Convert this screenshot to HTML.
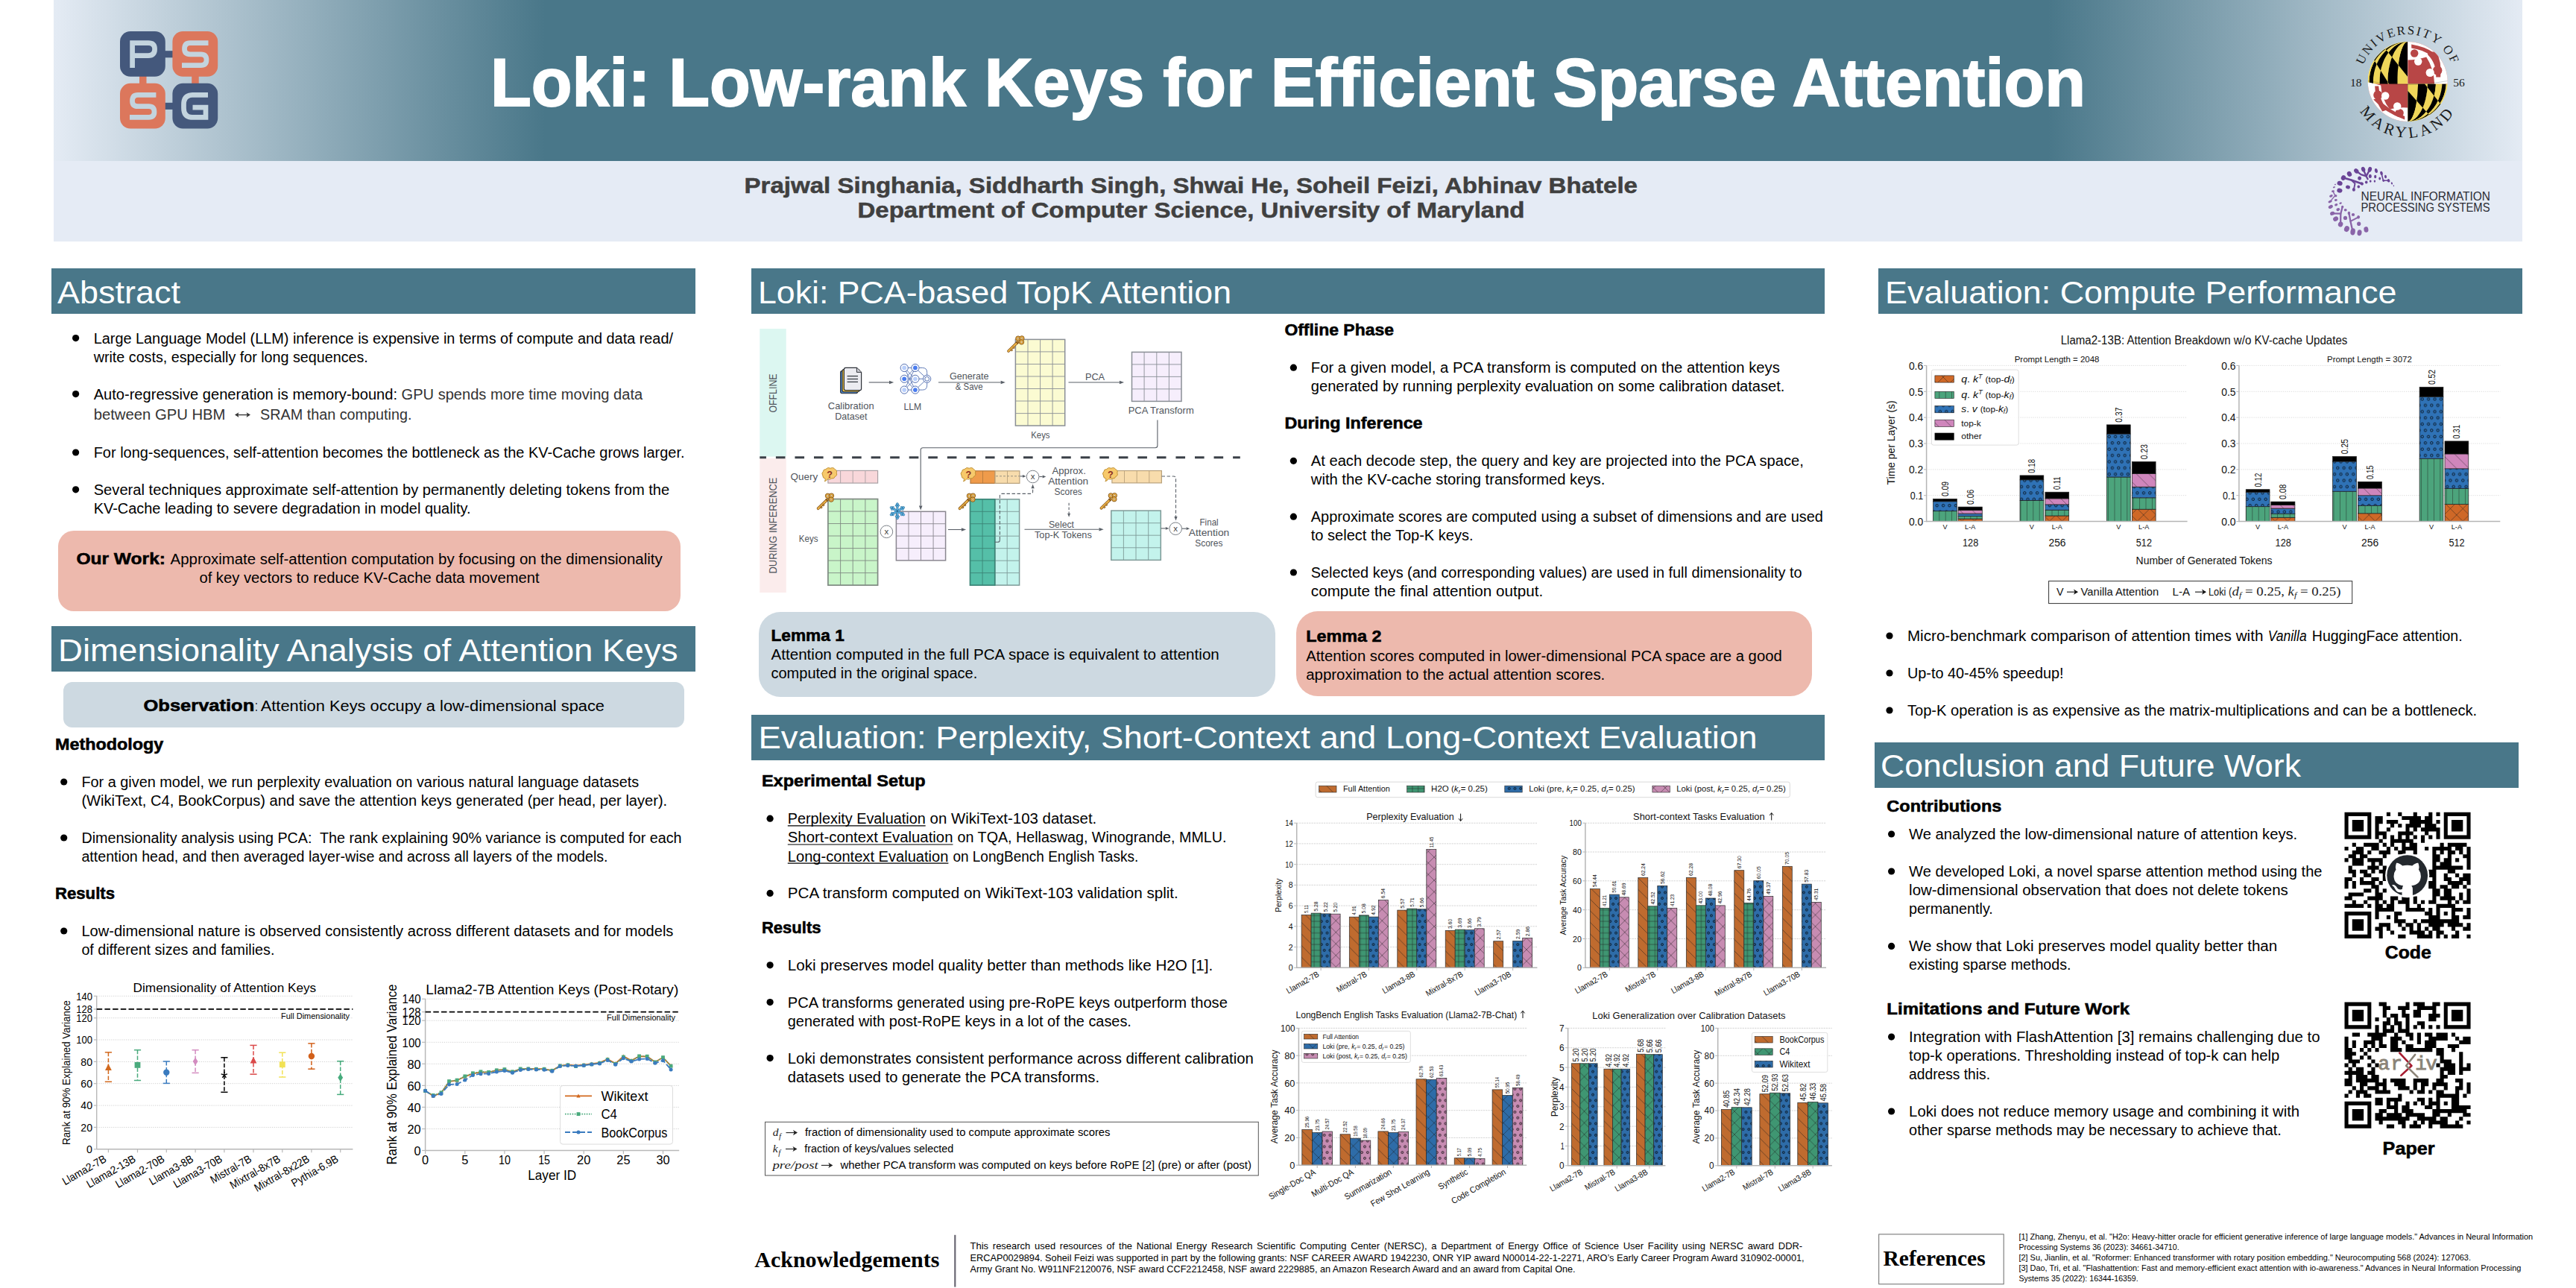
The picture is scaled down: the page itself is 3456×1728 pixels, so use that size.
<!DOCTYPE html>
<html lang="en"><head><meta charset="utf-8">
<title>Loki: Low-rank Keys for Efficient Sparse Attention</title>
<style>
html,body{margin:0;padding:0;background:#fff;}
#poster{position:relative;width:3456px;height:1728px;overflow:hidden;background:#fff;font-family:"Liberation Sans", sans-serif;}
.b{position:absolute;}
#ov{position:absolute;left:0;top:0;width:3456px;height:1728px;}
#ov text{font-family:"Liberation Sans", sans-serif;white-space:pre;}
</style></head>
<body>
<div id="poster">
<div class="b" style="left:72px;top:0;width:3312px;height:215.5px;background:linear-gradient(90deg,#e4ebf4 0%,#497789 19.9%,#497789 80.8%,#e4ebf4 100%);"></div>
<div class="b " style="left:72.0px;top:215.5px;width:3312.0px;height:108.5px;background:#e5ebf5;"></div>
<div class="b sec" style="left:69.2px;top:360.2px;width:863.6px;height:60.6px;background:#497789;"></div>
<div class="b sec" style="left:1008.2px;top:360.2px;width:1439.6px;height:60.6px;background:#497789;"></div>
<div class="b sec" style="left:2520.4px;top:360.2px;width:863.4px;height:60.6px;background:#497789;"></div>
<div class="b sec" style="left:69.4px;top:840.2px;width:864.0px;height:60.8px;background:#497789;"></div>
<div class="b sec" style="left:1008.2px;top:958.6px;width:1439.4px;height:61.0px;background:#497789;"></div>
<div class="b sec" style="left:2515.0px;top:995.6px;width:864.0px;height:61.0px;background:#497789;"></div>
<div class="b " style="left:78.3px;top:711.5px;width:834.4px;height:108.3px;background:#edb9ad;border-radius:21px;"></div>
<div class="b " style="left:84.6px;top:915.1px;width:833.5px;height:60.6px;background:#cdd9e1;border-radius:12px;"></div>
<div class="b " style="left:1018.3px;top:821.2px;width:692.7px;height:113.9px;background:#cdd9e1;border-radius:29px;"></div>
<div class="b " style="left:1739.1px;top:820.3px;width:692.3px;height:113.5px;background:#edb9ad;border-radius:29px;"></div>
<svg id="ov" width="3456" height="1728" viewBox="0 0 3456 1728">
<defs>
<clipPath id="globe"><circle cx="3230.2" cy="109.5" r="53.5"/></clipPath>
<path id="arcTop" d="M3166.6 109.5 A63.6 63.6 0 0 1 3293.8 109.5"/>
<path id="arcBot" d="M3155.0 109.5 A75.2 75.2 0 0 0 3305.4 109.5"/>
<clipPath id="qTL"><rect x="3175.7" y="55.0" width="54.5" height="58.5"/></clipPath>
<clipPath id="qBR"><rect x="3230.2" y="112.5" width="54.5" height="54.5"/></clipPath>
<clipPath id="bendTL"><path d="M3178.2 69.5 L3200.2 65.5 L3232.2 105.5 L3232.2 117.5 L3208.2 117.5 Z"/></clipPath>
<clipPath id="bendBR"><path d="M3282.2 149.5 L3260.2 155.5 L3228.2 119.5 L3228.2 111.5 L3252.2 111.5 Z"/></clipPath>
<clipPath id="qTR"><rect x="3230.2" y="55.0" width="54.5" height="57.5"/></clipPath>
<clipPath id="qBL"><rect x="3175.7" y="110.5" width="54.5" height="55.5"/></clipPath>
<pattern id="hBS" width="15.5" height="15.5" patternUnits="userSpaceOnUse" patternTransform="translate(3 6)"><path d="M-1 -1L16.5 16.5M-9 6.5L9 24.5M6.5 -9L24.5 9" stroke="#1c1c1c" stroke-width="0.6" stroke-opacity="0.85"/></pattern>
<pattern id="hX" width="15.5" height="15.5" patternUnits="userSpaceOnUse" patternTransform="translate(2 3)"><path d="M-1 -1L16.5 16.5M-1 16.5L16.5 -1" stroke="#1c1c1c" stroke-width="0.6" stroke-opacity="0.8"/></pattern>
<pattern id="hP" width="7.75" height="7.75" patternUnits="userSpaceOnUse"><path d="M3.9 0V7.75M0 3.9H7.75" stroke="#1c1c1c" stroke-width="0.6" stroke-opacity="0.8"/></pattern>
<pattern id="hO" width="7.75" height="15.5" patternUnits="userSpaceOnUse"><circle cx="1.95" cy="3.9" r="1.45" fill="none" stroke="#000" stroke-width="0.75"/><circle cx="5.8" cy="11.65" r="1.45" fill="none" stroke="#000" stroke-width="0.75"/></pattern>
<pattern id="hV" width="10.6" height="10" patternUnits="userSpaceOnUse"><path d="M5.3 0V10" stroke="#1c1c1c" stroke-width="0.6" stroke-opacity="0.8"/></pattern>
<pattern id="hO2" width="10.4" height="10.4" patternUnits="userSpaceOnUse"><circle cx="2.6" cy="2.6" r="1.9" fill="none" stroke="#1c1c1c" stroke-width="0.7" stroke-opacity="0.9"/><circle cx="7.8" cy="7.8" r="1.9" fill="none" stroke="#1c1c1c" stroke-width="0.7" stroke-opacity="0.9"/></pattern>
<pattern id="hBS2" width="21" height="21" patternUnits="userSpaceOnUse"><path d="M-1 -1L22 22M-12 9L10 31M9 -12L31 10" stroke="#1c1c1c" stroke-width="0.6" stroke-opacity="0.7"/></pattern>
<pattern id="hX2" width="21" height="21" patternUnits="userSpaceOnUse"><path d="M-1 -1L22 22M-1 22L22 -1" stroke="#1c1c1c" stroke-width="0.6" stroke-opacity="0.75"/></pattern>
<pattern id="cV" width="8.4" height="10" patternUnits="userSpaceOnUse" patternTransform="translate(2 0)"><path d="M4.2 0V10" stroke="#1c1c1c" stroke-width="0.6" stroke-opacity="0.75"/></pattern>
<pattern id="cO" width="8.4" height="16.8" patternUnits="userSpaceOnUse" patternTransform="translate(1 2)"><circle cx="2.1" cy="4.2" r="1.7" fill="none" stroke="#000" stroke-width="0.75"/><circle cx="6.3" cy="12.6" r="1.7" fill="none" stroke="#000" stroke-width="0.75"/></pattern>
<pattern id="cBS" width="16.8" height="16.8" patternUnits="userSpaceOnUse" patternTransform="translate(0 4)"><path d="M-1 -1L17.8 17.8M-9.4 7.4L9.4 26.2M7.4 -9.4L26.2 9.4" stroke="#1c1c1c" stroke-width="0.6" stroke-opacity="0.75"/></pattern>
<pattern id="cX" width="16.8" height="16.8" patternUnits="userSpaceOnUse" patternTransform="translate(3 2)"><path d="M-1 -1L17.8 17.8M-1 17.8L17.8 -1" stroke="#1c1c1c" stroke-width="0.6" stroke-opacity="0.8"/></pattern>
</defs>
<text x="658.0" y="142.2" font-size="91" font-weight="bold" fill="#fff" textLength="2140.0" lengthAdjust="spacingAndGlyphs" stroke="#fff" stroke-width="1.8">Loki: Low-rank Keys for Efficient Sparse Attention</text>
<text x="998.5" y="258.8" font-size="29.6" font-weight="bold" fill="#404040" textLength="1198.5" lengthAdjust="spacingAndGlyphs" stroke="#404040" stroke-width="0.5">Prajwal Singhania, Siddharth Singh, Shwai He, Soheil Feizi, Abhinav Bhatele</text>
<text x="1150.5" y="292.0" font-size="29.6" font-weight="bold" fill="#404040" textLength="895.0" lengthAdjust="spacingAndGlyphs" stroke="#404040" stroke-width="0.5">Department of Computer Science, University of Maryland</text>
<g id="pssg">
<rect x="187.0" y="100.0" width="9.5" height="14.0" fill="#dc775c"/>
<rect x="257.2" y="100.0" width="9.5" height="14.0" fill="#dc775c"/>
<rect x="219.0" y="68.2" width="15.0" height="9.1" fill="#44587c"/>
<rect x="219.0" y="137.8" width="15.0" height="9.1" fill="#44587c"/>
<rect x="161.0" y="42.0" width="60.8" height="60.8" fill="#44587c" rx="14"/>
<rect x="231.4" y="42.0" width="60.8" height="60.8" fill="#dc775c" rx="14"/>
<rect x="161.0" y="111.8" width="60.8" height="60.8" fill="#dc775c" rx="14"/>
<rect x="231.4" y="111.8" width="60.8" height="60.8" fill="#44587c" rx="14"/>
<path d="M177.6 91 V57.6 H199 Q207.6 57.6 207.6 65.8 Q207.6 74.6 199 74.6 H177.6" fill="none" stroke="#c3d4de" stroke-width="6.7" stroke-linejoin="miter"/>
<path d="M279.5 57.6 H255 Q247.5 57.6 247.5 65.6 Q247.5 72.8 255 72.8 H269.5 Q277 72.8 277 80.2 Q277 87.6 269.5 87.6 H244" fill="none" stroke="#c3d4de" stroke-width="6.7"/>
<path d="M209.4 127.4 H185 Q177.5 127.4 177.5 135.4 Q177.5 142.6 185 142.6 H199.5 Q207 142.6 207 150 Q207 157.4 199.5 157.4 H174" fill="none" stroke="#c3d4de" stroke-width="6.7"/>
<path d="M279 127.4 H258 Q246.5 127.4 246.5 140 V145 Q246.5 157.4 258 157.4 H276 V144.2 H258.5" fill="none" stroke="#c3d4de" stroke-width="6.7"/>
</g>
<g id="umd">
<g clip-path="url(#globe)">
<rect x="3176.7" y="56.0" width="107.0" height="107.0" fill="#fff"/>
<g clip-path="url(#qTL)">
<rect x="3176.7" y="56.0" width="53.5" height="59.5" fill="#efd65a"/>
<path d="M3230.2 117.0 L3230.2 110.5 L3230.2 103.9 L3230.2 97.5 L3230.2 91.2 L3230.2 85.2 L3230.2 79.6 L3230.2 74.4 L3230.2 69.7 L3230.2 65.7 L3230.2 62.3 L3230.2 59.6 L3230.2 57.6 L3230.2 56.4 L3230.2 56.0 L3230.2 56.0 L3228.5 56.4 L3226.8 57.6 L3225.2 59.6 L3223.7 62.3 L3222.3 65.7 L3220.9 69.7 L3219.7 74.4 L3218.7 79.6 L3217.9 85.2 L3217.2 91.2 L3216.7 97.5 L3216.4 103.9 L3216.4 110.5 L3216.5 117.0Z" fill="#000"/><path d="M3216.5 117.0 L3216.4 110.5 L3216.4 103.9 L3216.7 97.5 L3217.2 91.2 L3217.9 85.2 L3218.7 79.6 L3219.7 74.4 L3220.9 69.7 L3222.3 65.7 L3223.7 62.3 L3225.2 59.6 L3226.8 57.6 L3228.5 56.4 L3230.2 56.0 L3230.2 56.0 L3226.9 56.4 L3223.7 57.6 L3220.6 59.6 L3217.6 62.3 L3214.9 65.7 L3212.3 69.7 L3210.0 74.4 L3208.0 79.6 L3206.4 85.2 L3205.1 91.2 L3204.1 97.5 L3203.6 103.9 L3203.5 110.5 L3203.7 117.0Z" fill="#efd65a"/><path d="M3203.7 117.0 L3203.5 110.5 L3203.6 103.9 L3204.1 97.5 L3205.1 91.2 L3206.4 85.2 L3208.0 79.6 L3210.0 74.4 L3212.3 69.7 L3214.9 65.7 L3217.6 62.3 L3220.6 59.6 L3223.7 57.6 L3226.9 56.4 L3230.2 56.0 L3230.2 56.0 L3225.6 56.4 L3221.0 57.6 L3216.6 59.6 L3212.4 62.3 L3208.5 65.7 L3204.9 69.7 L3201.6 74.4 L3198.8 79.6 L3196.5 85.2 L3194.6 91.2 L3193.3 97.5 L3192.6 103.9 L3192.4 110.5 L3192.7 117.0Z" fill="#000"/><path d="M3192.7 117.0 L3192.4 110.5 L3192.6 103.9 L3193.3 97.5 L3194.6 91.2 L3196.5 85.2 L3198.8 79.6 L3201.6 74.4 L3204.9 69.7 L3208.5 65.7 L3212.4 62.3 L3216.6 59.6 L3221.0 57.6 L3225.6 56.4 L3230.2 56.0 L3230.2 56.0 L3224.6 56.4 L3219.0 57.6 L3213.6 59.6 L3208.4 62.3 L3203.6 65.7 L3199.2 69.7 L3195.2 74.4 L3191.8 79.6 L3188.9 85.2 L3186.7 91.2 L3185.1 97.5 L3184.1 103.9 L3183.9 110.5 L3184.3 117.0Z" fill="#efd65a"/><path d="M3184.3 117.0 L3183.9 110.5 L3184.1 103.9 L3185.1 97.5 L3186.7 91.2 L3188.9 85.2 L3191.8 79.6 L3195.2 74.4 L3199.2 69.7 L3203.6 65.7 L3208.4 62.3 L3213.6 59.6 L3219.0 57.6 L3224.6 56.4 L3230.2 56.0 L3230.2 56.0 L3223.9 56.4 L3217.7 57.6 L3211.7 59.6 L3205.9 62.3 L3200.6 65.7 L3195.6 69.7 L3191.2 74.4 L3187.4 79.6 L3184.1 85.2 L3181.6 91.2 L3179.8 97.5 L3178.8 103.9 L3178.5 110.5 L3179.0 117.0Z" fill="#000"/><path d="M3179.0 117.0 L3178.5 110.5 L3178.8 103.9 L3179.8 97.5 L3181.6 91.2 L3184.1 85.2 L3187.4 79.6 L3191.2 74.4 L3195.6 69.7 L3200.6 65.7 L3205.9 62.3 L3211.7 59.6 L3217.7 57.6 L3223.9 56.4 L3230.2 56.0 L3230.2 56.0 L3223.7 56.4 L3217.3 57.6 L3211.0 59.6 L3205.1 62.3 L3199.5 65.7 L3194.4 69.7 L3189.8 74.4 L3185.8 79.6 L3182.5 85.2 L3179.9 91.2 L3178.1 97.5 L3177.0 103.9 L3176.7 110.5 L3177.2 117.0Z" fill="#efd65a"/>
<g clip-path="url(#bendTL)"><path d="M3230.2 117.0 L3230.2 110.5 L3230.2 103.9 L3230.2 97.5 L3230.2 91.2 L3230.2 85.2 L3230.2 79.6 L3230.2 74.4 L3230.2 69.7 L3230.2 65.7 L3230.2 62.3 L3230.2 59.6 L3230.2 57.6 L3230.2 56.4 L3230.2 56.0 L3230.2 56.0 L3228.5 56.4 L3226.8 57.6 L3225.2 59.6 L3223.7 62.3 L3222.3 65.7 L3220.9 69.7 L3219.7 74.4 L3218.7 79.6 L3217.9 85.2 L3217.2 91.2 L3216.7 97.5 L3216.4 103.9 L3216.4 110.5 L3216.5 117.0Z" fill="#efd65a"/><path d="M3216.5 117.0 L3216.4 110.5 L3216.4 103.9 L3216.7 97.5 L3217.2 91.2 L3217.9 85.2 L3218.7 79.6 L3219.7 74.4 L3220.9 69.7 L3222.3 65.7 L3223.7 62.3 L3225.2 59.6 L3226.8 57.6 L3228.5 56.4 L3230.2 56.0 L3230.2 56.0 L3226.9 56.4 L3223.7 57.6 L3220.6 59.6 L3217.6 62.3 L3214.9 65.7 L3212.3 69.7 L3210.0 74.4 L3208.0 79.6 L3206.4 85.2 L3205.1 91.2 L3204.1 97.5 L3203.6 103.9 L3203.5 110.5 L3203.7 117.0Z" fill="#000"/><path d="M3203.7 117.0 L3203.5 110.5 L3203.6 103.9 L3204.1 97.5 L3205.1 91.2 L3206.4 85.2 L3208.0 79.6 L3210.0 74.4 L3212.3 69.7 L3214.9 65.7 L3217.6 62.3 L3220.6 59.6 L3223.7 57.6 L3226.9 56.4 L3230.2 56.0 L3230.2 56.0 L3225.6 56.4 L3221.0 57.6 L3216.6 59.6 L3212.4 62.3 L3208.5 65.7 L3204.9 69.7 L3201.6 74.4 L3198.8 79.6 L3196.5 85.2 L3194.6 91.2 L3193.3 97.5 L3192.6 103.9 L3192.4 110.5 L3192.7 117.0Z" fill="#efd65a"/><path d="M3192.7 117.0 L3192.4 110.5 L3192.6 103.9 L3193.3 97.5 L3194.6 91.2 L3196.5 85.2 L3198.8 79.6 L3201.6 74.4 L3204.9 69.7 L3208.5 65.7 L3212.4 62.3 L3216.6 59.6 L3221.0 57.6 L3225.6 56.4 L3230.2 56.0 L3230.2 56.0 L3224.6 56.4 L3219.0 57.6 L3213.6 59.6 L3208.4 62.3 L3203.6 65.7 L3199.2 69.7 L3195.2 74.4 L3191.8 79.6 L3188.9 85.2 L3186.7 91.2 L3185.1 97.5 L3184.1 103.9 L3183.9 110.5 L3184.3 117.0Z" fill="#000"/><path d="M3184.3 117.0 L3183.9 110.5 L3184.1 103.9 L3185.1 97.5 L3186.7 91.2 L3188.9 85.2 L3191.8 79.6 L3195.2 74.4 L3199.2 69.7 L3203.6 65.7 L3208.4 62.3 L3213.6 59.6 L3219.0 57.6 L3224.6 56.4 L3230.2 56.0 L3230.2 56.0 L3223.9 56.4 L3217.7 57.6 L3211.7 59.6 L3205.9 62.3 L3200.6 65.7 L3195.6 69.7 L3191.2 74.4 L3187.4 79.6 L3184.1 85.2 L3181.6 91.2 L3179.8 97.5 L3178.8 103.9 L3178.5 110.5 L3179.0 117.0Z" fill="#efd65a"/><path d="M3179.0 117.0 L3178.5 110.5 L3178.8 103.9 L3179.8 97.5 L3181.6 91.2 L3184.1 85.2 L3187.4 79.6 L3191.2 74.4 L3195.6 69.7 L3200.6 65.7 L3205.9 62.3 L3211.7 59.6 L3217.7 57.6 L3223.9 56.4 L3230.2 56.0 L3230.2 56.0 L3223.7 56.4 L3217.3 57.6 L3211.0 59.6 L3205.1 62.3 L3199.5 65.7 L3194.4 69.7 L3189.8 74.4 L3185.8 79.6 L3182.5 85.2 L3179.9 91.2 L3178.1 97.5 L3177.0 103.9 L3176.7 110.5 L3177.2 117.0Z" fill="#000"/></g>
</g>
<g clip-path="url(#qBR)">
<rect x="3230.2" y="109.5" width="53.5" height="55.5" fill="#efd65a"/>
<path d="M3230.2 102.0 L3230.2 108.5 L3230.2 115.1 L3230.2 121.5 L3230.2 127.8 L3230.2 133.8 L3230.2 139.4 L3230.2 144.6 L3230.2 149.3 L3230.2 153.3 L3230.2 156.7 L3230.2 159.4 L3230.2 161.4 L3230.2 162.6 L3230.2 163.0 L3230.2 163.0 L3231.9 162.6 L3233.6 161.4 L3235.2 159.4 L3236.7 156.7 L3238.1 153.3 L3239.5 149.3 L3240.7 144.6 L3241.7 139.4 L3242.5 133.8 L3243.2 127.8 L3243.7 121.5 L3244.0 115.1 L3244.0 108.5 L3243.9 102.0Z" fill="#000"/><path d="M3243.9 102.0 L3244.0 108.5 L3244.0 115.1 L3243.7 121.5 L3243.2 127.8 L3242.5 133.8 L3241.7 139.4 L3240.7 144.6 L3239.5 149.3 L3238.1 153.3 L3236.7 156.7 L3235.2 159.4 L3233.6 161.4 L3231.9 162.6 L3230.2 163.0 L3230.2 163.0 L3233.5 162.6 L3236.7 161.4 L3239.8 159.4 L3242.8 156.7 L3245.5 153.3 L3248.1 149.3 L3250.4 144.6 L3252.4 139.4 L3254.0 133.8 L3255.3 127.8 L3256.3 121.5 L3256.8 115.1 L3256.9 108.5 L3256.7 102.0Z" fill="#efd65a"/><path d="M3256.7 102.0 L3256.9 108.5 L3256.8 115.1 L3256.3 121.5 L3255.3 127.8 L3254.0 133.8 L3252.4 139.4 L3250.4 144.6 L3248.1 149.3 L3245.5 153.3 L3242.8 156.7 L3239.8 159.4 L3236.7 161.4 L3233.5 162.6 L3230.2 163.0 L3230.2 163.0 L3234.8 162.6 L3239.4 161.4 L3243.8 159.4 L3248.0 156.7 L3251.9 153.3 L3255.5 149.3 L3258.8 144.6 L3261.6 139.4 L3263.9 133.8 L3265.8 127.8 L3267.1 121.5 L3267.8 115.1 L3268.0 108.5 L3267.7 102.0Z" fill="#000"/><path d="M3267.7 102.0 L3268.0 108.5 L3267.8 115.1 L3267.1 121.5 L3265.8 127.8 L3263.9 133.8 L3261.6 139.4 L3258.8 144.6 L3255.5 149.3 L3251.9 153.3 L3248.0 156.7 L3243.8 159.4 L3239.4 161.4 L3234.8 162.6 L3230.2 163.0 L3230.2 163.0 L3235.8 162.6 L3241.4 161.4 L3246.8 159.4 L3252.0 156.7 L3256.8 153.3 L3261.2 149.3 L3265.2 144.6 L3268.6 139.4 L3271.5 133.8 L3273.7 127.8 L3275.3 121.5 L3276.3 115.1 L3276.5 108.5 L3276.1 102.0Z" fill="#efd65a"/><path d="M3276.1 102.0 L3276.5 108.5 L3276.3 115.1 L3275.3 121.5 L3273.7 127.8 L3271.5 133.8 L3268.6 139.4 L3265.2 144.6 L3261.2 149.3 L3256.8 153.3 L3252.0 156.7 L3246.8 159.4 L3241.4 161.4 L3235.8 162.6 L3230.2 163.0 L3230.2 163.0 L3236.5 162.6 L3242.7 161.4 L3248.7 159.4 L3254.5 156.7 L3259.8 153.3 L3264.8 149.3 L3269.2 144.6 L3273.0 139.4 L3276.3 133.8 L3278.8 127.8 L3280.6 121.5 L3281.6 115.1 L3281.9 108.5 L3281.4 102.0Z" fill="#000"/><path d="M3281.4 102.0 L3281.9 108.5 L3281.6 115.1 L3280.6 121.5 L3278.8 127.8 L3276.3 133.8 L3273.0 139.4 L3269.2 144.6 L3264.8 149.3 L3259.8 153.3 L3254.5 156.7 L3248.7 159.4 L3242.7 161.4 L3236.5 162.6 L3230.2 163.0 L3230.2 163.0 L3236.7 162.6 L3243.1 161.4 L3249.4 159.4 L3255.3 156.7 L3260.9 153.3 L3266.0 149.3 L3270.6 144.6 L3274.6 139.4 L3277.9 133.8 L3280.5 127.8 L3282.3 121.5 L3283.4 115.1 L3283.7 108.5 L3283.2 102.0Z" fill="#efd65a"/>
<g clip-path="url(#bendBR)"><path d="M3230.2 102.0 L3230.2 108.5 L3230.2 115.1 L3230.2 121.5 L3230.2 127.8 L3230.2 133.8 L3230.2 139.4 L3230.2 144.6 L3230.2 149.3 L3230.2 153.3 L3230.2 156.7 L3230.2 159.4 L3230.2 161.4 L3230.2 162.6 L3230.2 163.0 L3230.2 163.0 L3231.9 162.6 L3233.6 161.4 L3235.2 159.4 L3236.7 156.7 L3238.1 153.3 L3239.5 149.3 L3240.7 144.6 L3241.7 139.4 L3242.5 133.8 L3243.2 127.8 L3243.7 121.5 L3244.0 115.1 L3244.0 108.5 L3243.9 102.0Z" fill="#efd65a"/><path d="M3243.9 102.0 L3244.0 108.5 L3244.0 115.1 L3243.7 121.5 L3243.2 127.8 L3242.5 133.8 L3241.7 139.4 L3240.7 144.6 L3239.5 149.3 L3238.1 153.3 L3236.7 156.7 L3235.2 159.4 L3233.6 161.4 L3231.9 162.6 L3230.2 163.0 L3230.2 163.0 L3233.5 162.6 L3236.7 161.4 L3239.8 159.4 L3242.8 156.7 L3245.5 153.3 L3248.1 149.3 L3250.4 144.6 L3252.4 139.4 L3254.0 133.8 L3255.3 127.8 L3256.3 121.5 L3256.8 115.1 L3256.9 108.5 L3256.7 102.0Z" fill="#000"/><path d="M3256.7 102.0 L3256.9 108.5 L3256.8 115.1 L3256.3 121.5 L3255.3 127.8 L3254.0 133.8 L3252.4 139.4 L3250.4 144.6 L3248.1 149.3 L3245.5 153.3 L3242.8 156.7 L3239.8 159.4 L3236.7 161.4 L3233.5 162.6 L3230.2 163.0 L3230.2 163.0 L3234.8 162.6 L3239.4 161.4 L3243.8 159.4 L3248.0 156.7 L3251.9 153.3 L3255.5 149.3 L3258.8 144.6 L3261.6 139.4 L3263.9 133.8 L3265.8 127.8 L3267.1 121.5 L3267.8 115.1 L3268.0 108.5 L3267.7 102.0Z" fill="#efd65a"/><path d="M3267.7 102.0 L3268.0 108.5 L3267.8 115.1 L3267.1 121.5 L3265.8 127.8 L3263.9 133.8 L3261.6 139.4 L3258.8 144.6 L3255.5 149.3 L3251.9 153.3 L3248.0 156.7 L3243.8 159.4 L3239.4 161.4 L3234.8 162.6 L3230.2 163.0 L3230.2 163.0 L3235.8 162.6 L3241.4 161.4 L3246.8 159.4 L3252.0 156.7 L3256.8 153.3 L3261.2 149.3 L3265.2 144.6 L3268.6 139.4 L3271.5 133.8 L3273.7 127.8 L3275.3 121.5 L3276.3 115.1 L3276.5 108.5 L3276.1 102.0Z" fill="#000"/><path d="M3276.1 102.0 L3276.5 108.5 L3276.3 115.1 L3275.3 121.5 L3273.7 127.8 L3271.5 133.8 L3268.6 139.4 L3265.2 144.6 L3261.2 149.3 L3256.8 153.3 L3252.0 156.7 L3246.8 159.4 L3241.4 161.4 L3235.8 162.6 L3230.2 163.0 L3230.2 163.0 L3236.5 162.6 L3242.7 161.4 L3248.7 159.4 L3254.5 156.7 L3259.8 153.3 L3264.8 149.3 L3269.2 144.6 L3273.0 139.4 L3276.3 133.8 L3278.8 127.8 L3280.6 121.5 L3281.6 115.1 L3281.9 108.5 L3281.4 102.0Z" fill="#efd65a"/><path d="M3281.4 102.0 L3281.9 108.5 L3281.6 115.1 L3280.6 121.5 L3278.8 127.8 L3276.3 133.8 L3273.0 139.4 L3269.2 144.6 L3264.8 149.3 L3259.8 153.3 L3254.5 156.7 L3248.7 159.4 L3242.7 161.4 L3236.5 162.6 L3230.2 163.0 L3230.2 163.0 L3236.7 162.6 L3243.1 161.4 L3249.4 159.4 L3255.3 156.7 L3260.9 153.3 L3266.0 149.3 L3270.6 144.6 L3274.6 139.4 L3277.9 133.8 L3280.5 127.8 L3282.3 121.5 L3283.4 115.1 L3283.7 108.5 L3283.2 102.0Z" fill="#000"/></g>
</g>
<g clip-path="url(#qTR)">
<rect x="3230.2" y="56.0" width="53.5" height="56.5" fill="#b84646"/>
<path d="M3230.2 55.0 L3284.7 55.0 L3284.7 112.5 L3266.2 113.5 Q3265.2 91.5 3255.2 76.5 Q3242.2 80.5 3230.2 80.5 Z" fill="#fff"/>
<path d="M3235.2 59.5 Q3254.2 62.5 3266.2 71.5 L3261.2 74.5 Q3250.2 66.5 3235.2 64.5Z" fill="#b84646"/>
<path d="M3257.2 69.5 L3268.2 69.5 Q3276.2 81.5 3274.2 103.5 L3268.2 103.5 Q3269.2 85.5 3257.2 73.5Z" fill="#b84646"/>
<circle cx="3239.2" cy="71.5" r="5.2" fill="#b84646"/>
<circle cx="3270.2" cy="94.5" r="6.2" fill="#b84646"/>
<circle cx="3244.2" cy="82.5" r="5.2" fill="#fff"/>
<circle cx="3260.2" cy="97.5" r="5.6" fill="#fff"/>
</g>
<g clip-path="url(#qBL)">
<rect x="3176.7" y="112.5" width="53.5" height="53.5" fill="#b84646"/>
<path d="M3174.7 109.5 L3194.2 114.5 Q3195.2 133.5 3206.2 146.5 Q3218.2 143.5 3230.2 144.5 L3230.2 165.0 L3174.7 165.0 Z" fill="#fff"/>
<path d="M3184.2 133.5 Q3200.2 151.5 3226.2 160.5 L3226.2 156.0 Q3204.2 147.5 3189.2 131.5Z" fill="#b84646"/>
<path d="M3186.2 115.5 L3191.2 115.5 Q3192.2 133.5 3202.2 147.5 L3196.2 149.5 Q3186.2 135.5 3186.2 115.5Z" fill="#b84646"/>
<circle cx="3190.2" cy="127.5" r="6.0" fill="#b84646"/>
<circle cx="3219.2" cy="151.5" r="5.6" fill="#b84646"/>
<circle cx="3200.2" cy="128.5" r="5.2" fill="#fff"/>
<circle cx="3216.2" cy="142.5" r="5.2" fill="#fff"/>
</g>
<path d="M3176.7 108.5 Q3230.2 118.5 3283.7 108.5" fill="none" stroke="#00000030" stroke-width="1.2"/>
</g>
<text font-size='16.8' style='font-family:"Liberation Serif", serif' fill='#1a1a1a' letter-spacing='2.2'><textPath href='#arcTop' startOffset='50%' text-anchor='middle'>UNIVERSITY OF</textPath></text>
<text font-size='21' style='font-family:"Liberation Serif", serif' fill='#1a1a1a' letter-spacing='4.1'><textPath href='#arcBot' startOffset='50%' text-anchor='middle'>MARYLAND</textPath></text>
<text x="3153.0" y="115.7" font-size="15.5" fill="#1a1a1a" style='font-family:"Liberation Serif", serif'>18</text>
<text x="3291.2" y="115.7" font-size="15.5" fill="#1a1a1a" style='font-family:"Liberation Serif", serif'>56</text>
</g>
<g id="neurips">
<text x="3167.5" y="268.5" font-size="16.6" fill="#2b2b33" textLength="173.5" lengthAdjust="spacingAndGlyphs">NEURAL INFORMATION</text>
<text x="3167.5" y="284.4" font-size="16.6" fill="#2b2b33" textLength="173.0" lengthAdjust="spacingAndGlyphs">PROCESSING SYSTEMS</text>
<ellipse cx="3170.6" cy="227.2" rx="2.6" ry="3.4" fill="#6a4496" transform="rotate(-20 3170.6 227.2)"/>
<ellipse cx="3179.4" cy="227.4" rx="2.6" ry="3.6" fill="#6a4496" transform="rotate(15 3179.4 227.4)"/>
<ellipse cx="3187.9" cy="229.0" rx="2.0" ry="3.0" fill="#6a4496" transform="rotate(-10 3187.9 229.0)"/>
<ellipse cx="3195.0" cy="232.4" rx="1.8" ry="2.8" fill="#6a4496" transform="rotate(-15 3195.0 232.4)"/>
<ellipse cx="3200.5" cy="237.0" rx="1.5" ry="2.2" fill="#6a4496" transform="rotate(-10 3200.5 237.0)"/>
<ellipse cx="3161.3" cy="229.4" rx="2.8" ry="3.6" fill="#6a4496" transform="rotate(-40 3161.3 229.4)"/>
<ellipse cx="3152.0" cy="233.4" rx="3.0" ry="3.6" fill="#6a4496" transform="rotate(-30 3152.0 233.4)"/>
<ellipse cx="3143.9" cy="238.5" rx="3.4" ry="3.0" fill="#6a4496" transform="rotate(-60 3143.9 238.5)"/>
<ellipse cx="3139.1" cy="245.9" rx="3.6" ry="3.0" fill="#6a4496" transform="rotate(20 3139.1 245.9)"/>
<ellipse cx="3138.9" cy="255.6" rx="3.6" ry="3.0" fill="#6a4496" transform="rotate(10 3138.9 255.6)"/>
<ellipse cx="3150.0" cy="251.0" rx="3.0" ry="2.4" fill="#6a4496" transform="rotate(20 3150.0 251.0)"/>
<ellipse cx="3165.6" cy="239.1" rx="2.4" ry="2.6" fill="#6a4496" transform="rotate(0 3165.6 239.1)"/>
<ellipse cx="3179.8" cy="236.4" rx="2.0" ry="2.6" fill="#6a4496" transform="rotate(0 3179.8 236.4)"/>
<ellipse cx="3186.7" cy="237.0" rx="1.6" ry="2.2" fill="#6a4496" transform="rotate(0 3186.7 237.0)"/>
<ellipse cx="3192.7" cy="239.5" rx="1.4" ry="2.0" fill="#6a4496" transform="rotate(0 3192.7 239.5)"/>
<ellipse cx="3174.7" cy="244.5" rx="1.8" ry="2.0" fill="#6a4496" transform="rotate(0 3174.7 244.5)"/>
<ellipse cx="3180.2" cy="243.1" rx="1.4" ry="1.6" fill="#6a4496" transform="rotate(0 3180.2 243.1)"/>
<ellipse cx="3185.9" cy="243.1" rx="1.2" ry="1.6" fill="#6a4496" transform="rotate(0 3185.9 243.1)"/>
<ellipse cx="3164.3" cy="250.4" rx="1.8" ry="2.0" fill="#6a4496" transform="rotate(0 3164.3 250.4)"/>
<ellipse cx="3157.9" cy="254.4" rx="2.0" ry="2.4" fill="#6a4496" transform="rotate(0 3157.9 254.4)"/>
<ellipse cx="3168.8" cy="246.5" rx="2.2" ry="2.0" fill="#6a4496" transform="rotate(30 3168.8 246.5)"/>
<ellipse cx="3204.5" cy="242.3" rx="1.8" ry="2.2" fill="#6a4496" transform="rotate(-30 3204.5 242.3)"/>
<ellipse cx="3197.8" cy="242.3" rx="1.4" ry="1.6" fill="#6a4496" transform="rotate(0 3197.8 242.3)"/>
<ellipse cx="3208.9" cy="245.9" rx="1.0" ry="1.6" fill="#6a4496" transform="rotate(-20 3208.9 245.9)"/>
<ellipse cx="3211.4" cy="249.2" rx="0.6" ry="1.0" fill="#6a4496" transform="rotate(-20 3211.4 249.2)"/>
<ellipse cx="3131.4" cy="251.2" rx="1.6" ry="1.0" fill="#8a64a8" transform="rotate(-20 3131.4 251.2)"/>
<ellipse cx="3133.0" cy="247.5" rx="1.2" ry="0.7" fill="#8a64a8" transform="rotate(-20 3133.0 247.5)"/>
<ellipse cx="3130.0" cy="256.6" rx="2.0" ry="1.4" fill="#8a64a8" transform="rotate(-10 3130.0 256.6)"/>
<ellipse cx="3127.4" cy="262.9" rx="2.4" ry="1.6" fill="#8a64a8" transform="rotate(-20 3127.4 262.9)"/>
<ellipse cx="3133.6" cy="262.7" rx="1.8" ry="1.6" fill="#8a64a8" transform="rotate(0 3133.6 262.7)"/>
<ellipse cx="3126.1" cy="270.4" rx="2.8" ry="1.6" fill="#8a64a8" transform="rotate(-25 3126.1 270.4)"/>
<ellipse cx="3133.8" cy="268.5" rx="2.0" ry="1.4" fill="#8a64a8" transform="rotate(-10 3133.8 268.5)"/>
<ellipse cx="3126.8" cy="277.4" rx="3.2" ry="2.2" fill="#8a64a8" transform="rotate(-25 3126.8 277.4)"/>
<ellipse cx="3134.2" cy="274.8" rx="2.2" ry="1.6" fill="#8a64a8" transform="rotate(-20 3134.2 274.8)"/>
<ellipse cx="3140.1" cy="272.6" rx="1.8" ry="1.2" fill="#8a64a8" transform="rotate(-20 3140.1 272.6)"/>
<ellipse cx="3136.8" cy="281.1" rx="2.4" ry="2.0" fill="#8a64a8" transform="rotate(-20 3136.8 281.1)"/>
<ellipse cx="3142.7" cy="277.4" rx="1.6" ry="1.6" fill="#8a64a8" transform="rotate(0 3142.7 277.4)"/>
<ellipse cx="3146.7" cy="281.7" rx="2.0" ry="1.8" fill="#8a64a8" transform="rotate(0 3146.7 281.7)"/>
<ellipse cx="3129.2" cy="286.3" rx="3.2" ry="2.4" fill="#8a64a8" transform="rotate(-20 3129.2 286.3)"/>
<ellipse cx="3133.6" cy="293.6" rx="3.6" ry="3.0" fill="#8a64a8" transform="rotate(-30 3133.6 293.6)"/>
<ellipse cx="3140.1" cy="300.8" rx="3.2" ry="3.6" fill="#8a64a8" transform="rotate(20 3140.1 300.8)"/>
<ellipse cx="3146.5" cy="292.4" rx="2.6" ry="2.6" fill="#8a64a8" transform="rotate(0 3146.5 292.4)"/>
<ellipse cx="3151.4" cy="285.9" rx="1.8" ry="2.2" fill="#8a64a8" transform="rotate(0 3151.4 285.9)"/>
<ellipse cx="3157.0" cy="287.9" rx="2.2" ry="2.0" fill="#8a64a8" transform="rotate(0 3157.0 287.9)"/>
<ellipse cx="3164.1" cy="291.3" rx="2.0" ry="2.2" fill="#8a64a8" transform="rotate(30 3164.1 291.3)"/>
<ellipse cx="3148.4" cy="307.1" rx="3.4" ry="4.0" fill="#8a64a8" transform="rotate(20 3148.4 307.1)"/>
<ellipse cx="3156.6" cy="310.9" rx="3.2" ry="4.6" fill="#8a64a8" transform="rotate(10 3156.6 310.9)"/>
<ellipse cx="3165.5" cy="312.3" rx="3.0" ry="4.0" fill="#8a64a8" transform="rotate(10 3165.5 312.3)"/>
<ellipse cx="3174.4" cy="307.9" rx="3.0" ry="3.8" fill="#8a64a8" transform="rotate(-10 3174.4 307.9)"/>
<ellipse cx="3164.7" cy="300.2" rx="2.6" ry="2.8" fill="#8a64a8" transform="rotate(0 3164.7 300.2)"/>
<path d="M3161.3 229.4 L3167.5 234.2 L3174.6 236.4 L3179.4 227.4" fill="none" stroke="#6a4496" stroke-width="2.3" stroke-linejoin="round" stroke-linecap="round"/>
<path d="M3170.6 227.2 L3174.6 236.4 L3176.6 240.3" fill="none" stroke="#6a4496" stroke-width="2.3" stroke-linecap="round"/>
<path d="M3143.9 238.5 L3154.4 241.5 L3168.8 246.5" fill="none" stroke="#6a4496" stroke-width="2.8" stroke-linejoin="round" stroke-linecap="round"/>
<path d="M3154.4 241.5 L3159.5 246.3 L3157.9 254.4" fill="none" stroke="#6a4496" stroke-width="1.9" stroke-linejoin="round" stroke-linecap="round"/>
<path d="M3195.0 232.4 L3197.4 242.3 L3204.5 242.3" fill="none" stroke="#6a4496" stroke-width="1.6" stroke-linejoin="round" stroke-linecap="round"/>
<path d="M3130.0 256.6 L3132.8 262.5 L3126.1 270.4" fill="none" stroke="#8a64a8" stroke-width="1.4" stroke-linejoin="round" stroke-linecap="round"/>
<path d="M3129.2 286.3 L3140.3 286.7 L3142.7 277.4" fill="none" stroke="#8a64a8" stroke-width="2.3" stroke-linejoin="round" stroke-linecap="round"/>
<path d="M3140.3 286.7 L3140.1 300.8" fill="none" stroke="#8a64a8" stroke-width="2.3" stroke-linecap="round"/>
<path d="M3151.4 285.9 L3153.4 296.8 L3156.6 310.9" fill="none" stroke="#8a64a8" stroke-width="2.3" stroke-linejoin="round" stroke-linecap="round"/>
<path d="M3153.4 296.8 L3164.1 291.3" fill="none" stroke="#8a64a8" stroke-width="1.9" stroke-linecap="round"/>
</g>
<text x="77.0" y="407.2" font-size="41.6" fill="#fff" textLength="165.0" lengthAdjust="spacingAndGlyphs">Abstract</text>
<text x="1017.0" y="407.2" font-size="41.6" fill="#fff" textLength="635.0" lengthAdjust="spacingAndGlyphs">Loki: PCA-based TopK Attention</text>
<text x="2529.0" y="407.2" font-size="41.6" fill="#fff" textLength="686.5" lengthAdjust="spacingAndGlyphs">Evaluation: Compute Performance</text>
<text x="78.0" y="887.0" font-size="41.6" fill="#fff" textLength="831.5" lengthAdjust="spacingAndGlyphs">Dimensionality Analysis of Attention Keys</text>
<text x="1017.5" y="1004.0" font-size="41.6" fill="#fff" textLength="1340.0" lengthAdjust="spacingAndGlyphs">Evaluation: Perplexity, Short-Context and Long-Context Evaluation</text>
<text x="2523.0" y="1042.2" font-size="41.6" fill="#fff" textLength="564.0" lengthAdjust="spacingAndGlyphs">Conclusion and Future Work</text>
<circle cx="101.6" cy="453.6" r="4.6" fill="#000"/>
<text x="125.7" y="460.7" font-size="20" textLength="777.3" lengthAdjust="spacingAndGlyphs">Large Language Model (LLM) inference is expensive in terms of compute and data read/</text>
<text x="125.7" y="485.5" font-size="20" textLength="368.1" lengthAdjust="spacingAndGlyphs">write costs, especially for long sequences.</text>
<circle cx="101.6" cy="528.6" r="4.6" fill="#000"/>
<text x="125.7" y="535.6" font-size="20" textLength="736.5" lengthAdjust="spacingAndGlyphs">Auto-regressive generation is memory-bound: <tspan fill="#333">GPU spends more time moving data</tspan></text>
<text x="125.7" y="562.8" font-size="20" fill="#333" textLength="176.8" lengthAdjust="spacingAndGlyphs">between GPU HBM</text>
<line x1="318.5" y1="556.6" x2="332.5" y2="556.6" stroke="#333" stroke-width="1.3"/>
<path d="M315 556.6 l5.5 -3.4 l-1.3 3.4 l1.3 3.4 z" fill="#333"/>
<path d="M336 556.6 l-5.5 -3.4 l1.3 3.4 l-1.3 3.4 z" fill="#333"/>
<text x="349.0" y="562.8" font-size="20" fill="#333" textLength="203.4" lengthAdjust="spacingAndGlyphs">SRAM than computing.</text>
<circle cx="101.6" cy="607.0" r="4.6" fill="#000"/>
<text x="125.7" y="614.0" font-size="20" textLength="792.8" lengthAdjust="spacingAndGlyphs">For long-sequences, self-attention becomes the bottleneck as the KV-Cache grows larger.</text>
<circle cx="101.6" cy="656.8" r="4.6" fill="#000"/>
<text x="125.7" y="663.7" font-size="20" textLength="772.6" lengthAdjust="spacingAndGlyphs">Several techniques approximate self-attention by permanently deleting tokens from the</text>
<text x="125.7" y="689.0" font-size="20" textLength="505.9" lengthAdjust="spacingAndGlyphs">KV-Cache leading to severe degradation in model quality.</text>
<text x="102.4" y="756.5" font-size="22" font-weight="bold" textLength="119.6" lengthAdjust="spacingAndGlyphs" stroke="#000" stroke-width="0.55">Our Work:</text>
<text x="228.6" y="756.5" font-size="20" textLength="660.0" lengthAdjust="spacingAndGlyphs">Approximate self-attention computation by focusing on the dimensionality</text>
<text x="267.4" y="781.7" font-size="20" textLength="456.2" lengthAdjust="spacingAndGlyphs">of key vectors to reduce KV-Cache data movement</text>
<text x="192.5" y="954.0" font-size="22" font-weight="bold" textLength="148.7" lengthAdjust="spacingAndGlyphs" stroke="#000" stroke-width="0.55">Observation</text>
<text x="342.2" y="954.0" font-size="20" textLength="3.4" lengthAdjust="spacingAndGlyphs">:</text>
<text x="349.7" y="954.0" font-size="20" textLength="461.3" lengthAdjust="spacingAndGlyphs">Attention Keys occupy a low-dimensional space</text>
<text x="74.0" y="1005.6" font-size="22" font-weight="bold" textLength="145.3" lengthAdjust="spacingAndGlyphs" stroke="#000" stroke-width="0.55">Methodology</text>
<circle cx="85.7" cy="1049.0" r="4.6" fill="#000"/>
<text x="109.4" y="1056.0" font-size="20" textLength="747.8" lengthAdjust="spacingAndGlyphs">For a given model, we run perplexity evaluation on various natural language datasets</text>
<text x="109.4" y="1080.9" font-size="20" textLength="785.8" lengthAdjust="spacingAndGlyphs">(WikiText, C4, BookCorpus) and save the attention keys generated (per head, per layer).</text>
<circle cx="85.7" cy="1124.0" r="4.6" fill="#000"/>
<text x="109.4" y="1131.0" font-size="20" textLength="805.2" lengthAdjust="spacingAndGlyphs">Dimensionality analysis using PCA:  The rank explaining 90% variance is computed for each</text>
<text x="109.4" y="1155.8" font-size="20" textLength="706.2" lengthAdjust="spacingAndGlyphs">attention head, and then averaged layer-wise and across all layers of the models.</text>
<text x="74.0" y="1205.5" font-size="22" font-weight="bold" textLength="80.0" lengthAdjust="spacingAndGlyphs" stroke="#000" stroke-width="0.55">Results</text>
<circle cx="85.7" cy="1249.0" r="4.6" fill="#000"/>
<text x="109.4" y="1256.0" font-size="20" textLength="794.0" lengthAdjust="spacingAndGlyphs">Low-dimensional nature is observed consistently across different datasets and for models</text>
<text x="109.4" y="1280.9" font-size="20" textLength="259.0" lengthAdjust="spacingAndGlyphs">of different sizes and families.</text>
<g id="chart-dim">
<text x="301.4" y="1331.4" font-size="16.6" text-anchor="middle" textLength="245.6" lengthAdjust="spacingAndGlyphs">Dimensionality of Attention Keys</text>
<line x1="129.7" y1="1512.4" x2="473.4" y2="1512.4" stroke="#cfcfcf" stroke-width="1" stroke-dasharray="1.2 1.6"/>
<line x1="129.7" y1="1483.1" x2="473.4" y2="1483.1" stroke="#cfcfcf" stroke-width="1" stroke-dasharray="1.2 1.6"/>
<line x1="129.7" y1="1453.7" x2="473.4" y2="1453.7" stroke="#cfcfcf" stroke-width="1" stroke-dasharray="1.2 1.6"/>
<line x1="129.7" y1="1424.4" x2="473.4" y2="1424.4" stroke="#cfcfcf" stroke-width="1" stroke-dasharray="1.2 1.6"/>
<line x1="129.7" y1="1395.0" x2="473.4" y2="1395.0" stroke="#cfcfcf" stroke-width="1" stroke-dasharray="1.2 1.6"/>
<line x1="129.7" y1="1365.7" x2="473.4" y2="1365.7" stroke="#cfcfcf" stroke-width="1" stroke-dasharray="1.2 1.6"/>
<line x1="129.7" y1="1336.3" x2="473.4" y2="1336.3" stroke="#cfcfcf" stroke-width="1" stroke-dasharray="1.2 1.6"/>
<line x1="129.7" y1="1541.8" x2="473.4" y2="1541.8" stroke="#b8b8b8" stroke-width="1.4"/>
<line x1="129.7" y1="1336.3" x2="129.7" y2="1541.8" stroke="#b8b8b8" stroke-width="1.4"/>
<line x1="125.7" y1="1541.8" x2="129.7" y2="1541.8" stroke="#b8b8b8" stroke-width="1.2"/>
<text x="124.0" y="1547.1" font-size="14.8" text-anchor="end" textLength="7.9" lengthAdjust="spacingAndGlyphs">0</text>
<line x1="125.7" y1="1512.4" x2="129.7" y2="1512.4" stroke="#b8b8b8" stroke-width="1.2"/>
<text x="124.0" y="1517.7" font-size="14.8" text-anchor="end" textLength="15.7" lengthAdjust="spacingAndGlyphs">20</text>
<line x1="125.7" y1="1483.1" x2="129.7" y2="1483.1" stroke="#b8b8b8" stroke-width="1.2"/>
<text x="124.0" y="1488.4" font-size="14.8" text-anchor="end" textLength="15.7" lengthAdjust="spacingAndGlyphs">40</text>
<line x1="125.7" y1="1453.7" x2="129.7" y2="1453.7" stroke="#b8b8b8" stroke-width="1.2"/>
<text x="124.0" y="1459.0" font-size="14.8" text-anchor="end" textLength="15.7" lengthAdjust="spacingAndGlyphs">60</text>
<line x1="125.7" y1="1424.4" x2="129.7" y2="1424.4" stroke="#b8b8b8" stroke-width="1.2"/>
<text x="124.0" y="1429.7" font-size="14.8" text-anchor="end" textLength="15.7" lengthAdjust="spacingAndGlyphs">80</text>
<line x1="125.7" y1="1395.0" x2="129.7" y2="1395.0" stroke="#b8b8b8" stroke-width="1.2"/>
<text x="124.0" y="1400.3" font-size="14.8" text-anchor="end" textLength="21.7" lengthAdjust="spacingAndGlyphs">100</text>
<line x1="125.7" y1="1365.7" x2="129.7" y2="1365.7" stroke="#b8b8b8" stroke-width="1.2"/>
<text x="124.0" y="1371.0" font-size="14.8" text-anchor="end" textLength="21.7" lengthAdjust="spacingAndGlyphs">120</text>
<line x1="125.7" y1="1353.9" x2="129.7" y2="1353.9" stroke="#b8b8b8" stroke-width="1.2"/>
<text x="124.0" y="1359.2" font-size="14.8" text-anchor="end" textLength="21.7" lengthAdjust="spacingAndGlyphs">128</text>
<line x1="125.7" y1="1336.3" x2="129.7" y2="1336.3" stroke="#b8b8b8" stroke-width="1.2"/>
<text x="124.0" y="1341.6" font-size="14.8" text-anchor="end" textLength="21.7" lengthAdjust="spacingAndGlyphs">140</text>
<line x1="129.7" y1="1353.9" x2="473.4" y2="1353.9" stroke="#000" stroke-width="1.8" stroke-dasharray="7.5 3.2"/>
<text x="377.0" y="1367.0" font-size="10.6" textLength="92.0" lengthAdjust="spacingAndGlyphs">Full Dimensionality</text>
<text x="93.5" y="1439.0" font-size="15.4" text-anchor="middle" textLength="194.0" lengthAdjust="spacingAndGlyphs" transform="rotate(-90 93.5 1439.0)">Rank at 90% Explained Variance</text>
<line x1="145.4" y1="1541.8" x2="145.4" y2="1546.3" stroke="#b8b8b8" stroke-width="1.2"/>
<line x1="145.4" y1="1411.8" x2="145.4" y2="1451.3" stroke="#d2691e" stroke-width="1.5" stroke-dasharray="5.5 2.4"/>
<line x1="140.8" y1="1411.8" x2="150.0" y2="1411.8" stroke="#d2691e" stroke-width="1.5"/>
<line x1="140.8" y1="1451.3" x2="150.0" y2="1451.3" stroke="#d2691e" stroke-width="1.5"/>
<path d="M145.4 1427.3 L149.8 1435.9 L141.0 1435.9Z" fill="#d2691e"/>
<text x="143.9" y="1557.8" font-size="14.8" text-anchor="end" textLength="65.5" lengthAdjust="spacingAndGlyphs" transform="rotate(-30 143.9 1557.8)">Llama2-7B</text>
<line x1="184.5" y1="1541.8" x2="184.5" y2="1546.3" stroke="#b8b8b8" stroke-width="1.2"/>
<line x1="184.5" y1="1408.7" x2="184.5" y2="1449.5" stroke="#4aaa7d" stroke-width="1.5" stroke-dasharray="5.5 2.4"/>
<line x1="179.9" y1="1408.7" x2="189.1" y2="1408.7" stroke="#4aaa7d" stroke-width="1.5"/>
<line x1="179.9" y1="1449.5" x2="189.1" y2="1449.5" stroke="#4aaa7d" stroke-width="1.5"/>
<rect x="180.6" y="1425.0" width="7.8" height="7.8" fill="#4aaa7d"/>
<text x="183.0" y="1557.8" font-size="14.8" text-anchor="end" textLength="73.0" lengthAdjust="spacingAndGlyphs" transform="rotate(-30 183.0 1557.8)">Llama2-13B</text>
<line x1="223.3" y1="1541.8" x2="223.3" y2="1546.3" stroke="#b8b8b8" stroke-width="1.2"/>
<line x1="223.3" y1="1424.0" x2="223.3" y2="1453.4" stroke="#3a7bbf" stroke-width="1.5" stroke-dasharray="5.5 2.4"/>
<line x1="218.7" y1="1424.0" x2="227.9" y2="1424.0" stroke="#3a7bbf" stroke-width="1.5"/>
<line x1="218.7" y1="1453.4" x2="227.9" y2="1453.4" stroke="#3a7bbf" stroke-width="1.5"/>
<circle cx="223.3" cy="1438.7" r="4.2" fill="#3a7bbf"/>
<text x="221.8" y="1557.8" font-size="14.8" text-anchor="end" textLength="73.0" lengthAdjust="spacingAndGlyphs" transform="rotate(-30 221.8 1557.8)">Llama2-70B</text>
<line x1="262.1" y1="1541.8" x2="262.1" y2="1546.3" stroke="#b8b8b8" stroke-width="1.2"/>
<line x1="262.1" y1="1408.7" x2="262.1" y2="1439.4" stroke="#d38cc0" stroke-width="1.5" stroke-dasharray="5.5 2.4"/>
<line x1="257.5" y1="1408.7" x2="266.7" y2="1408.7" stroke="#d38cc0" stroke-width="1.5"/>
<line x1="257.5" y1="1439.4" x2="266.7" y2="1439.4" stroke="#d38cc0" stroke-width="1.5"/>
<path d="M262.1 1418.8 L265.5 1424.0 L262.1 1429.2 L258.7 1424.0Z" fill="#d38cc0"/>
<text x="260.6" y="1557.8" font-size="14.8" text-anchor="end" textLength="65.5" lengthAdjust="spacingAndGlyphs" transform="rotate(-30 260.6 1557.8)">Llama3-8B</text>
<line x1="300.9" y1="1541.8" x2="300.9" y2="1546.3" stroke="#b8b8b8" stroke-width="1.2"/>
<line x1="300.9" y1="1418.8" x2="300.9" y2="1465.3" stroke="#000" stroke-width="1.5" stroke-dasharray="5.5 2.4"/>
<line x1="296.3" y1="1418.8" x2="305.5" y2="1418.8" stroke="#000" stroke-width="1.5"/>
<line x1="296.3" y1="1465.3" x2="305.5" y2="1465.3" stroke="#000" stroke-width="1.5"/>
<line x1="300.9" y1="1442.2" x2="300.9" y2="1437.8" stroke="#000" stroke-width="1.4"/>
<line x1="300.9" y1="1442.2" x2="305.0" y2="1440.8" stroke="#000" stroke-width="1.4"/>
<line x1="300.9" y1="1442.2" x2="303.4" y2="1445.8" stroke="#000" stroke-width="1.4"/>
<line x1="300.9" y1="1442.2" x2="298.3" y2="1445.8" stroke="#000" stroke-width="1.4"/>
<line x1="300.9" y1="1442.2" x2="296.7" y2="1440.8" stroke="#000" stroke-width="1.4"/>
<text x="299.4" y="1557.8" font-size="14.8" text-anchor="end" textLength="73.0" lengthAdjust="spacingAndGlyphs" transform="rotate(-30 299.4 1557.8)">Llama3-70B</text>
<line x1="340.0" y1="1541.8" x2="340.0" y2="1546.3" stroke="#b8b8b8" stroke-width="1.2"/>
<line x1="340.0" y1="1402.4" x2="340.0" y2="1441.2" stroke="#db4a4a" stroke-width="1.5" stroke-dasharray="5.5 2.4"/>
<line x1="335.4" y1="1402.4" x2="344.6" y2="1402.4" stroke="#db4a4a" stroke-width="1.5"/>
<line x1="335.4" y1="1441.2" x2="344.6" y2="1441.2" stroke="#db4a4a" stroke-width="1.5"/>
<path d="M340.0 1417.8 L344.4 1426.4 L335.6 1426.4Z" fill="#db4a4a"/>
<text x="338.5" y="1557.8" font-size="14.8" text-anchor="end" textLength="60.9" lengthAdjust="spacingAndGlyphs" transform="rotate(-30 338.5 1557.8)">Mistral-7B</text>
<line x1="378.8" y1="1541.8" x2="378.8" y2="1546.3" stroke="#b8b8b8" stroke-width="1.2"/>
<line x1="378.8" y1="1412.2" x2="378.8" y2="1445.0" stroke="#f2e255" stroke-width="1.5" stroke-dasharray="5.5 2.4"/>
<line x1="374.2" y1="1412.2" x2="383.4" y2="1412.2" stroke="#f2e255" stroke-width="1.5"/>
<line x1="374.2" y1="1445.0" x2="383.4" y2="1445.0" stroke="#f2e255" stroke-width="1.5"/>
<rect x="374.9" y="1424.3" width="7.8" height="7.8" fill="#f2e255"/>
<text x="377.3" y="1557.8" font-size="14.8" text-anchor="end" textLength="75.3" lengthAdjust="spacingAndGlyphs" transform="rotate(-30 377.3 1557.8)">Mixtral-8x7B</text>
<line x1="417.9" y1="1541.8" x2="417.9" y2="1546.3" stroke="#b8b8b8" stroke-width="1.2"/>
<line x1="417.9" y1="1399.9" x2="417.9" y2="1434.2" stroke="#d2601a" stroke-width="1.5" stroke-dasharray="5.5 2.4"/>
<line x1="413.3" y1="1399.9" x2="422.5" y2="1399.9" stroke="#d2601a" stroke-width="1.5"/>
<line x1="413.3" y1="1434.2" x2="422.5" y2="1434.2" stroke="#d2601a" stroke-width="1.5"/>
<circle cx="417.9" cy="1417.0" r="4.2" fill="#d2601a"/>
<text x="416.4" y="1557.8" font-size="14.8" text-anchor="end" textLength="82.8" lengthAdjust="spacingAndGlyphs" transform="rotate(-30 416.4 1557.8)">Mixtral-8x22B</text>
<line x1="456.7" y1="1541.8" x2="456.7" y2="1546.3" stroke="#b8b8b8" stroke-width="1.2"/>
<line x1="456.7" y1="1423.7" x2="456.7" y2="1468.4" stroke="#46ab7c" stroke-width="1.5" stroke-dasharray="5.5 2.4"/>
<line x1="452.1" y1="1423.7" x2="461.3" y2="1423.7" stroke="#46ab7c" stroke-width="1.5"/>
<line x1="452.1" y1="1468.4" x2="461.3" y2="1468.4" stroke="#46ab7c" stroke-width="1.5"/>
<path d="M456.7 1440.5 L460.1 1445.7 L456.7 1450.9 L453.3 1445.7Z" fill="#46ab7c"/>
<text x="455.2" y="1557.8" font-size="14.8" text-anchor="end" textLength="70.0" lengthAdjust="spacingAndGlyphs" transform="rotate(-30 455.2 1557.8)">Pythia-6.9B</text>
</g>
<g id="chart-llama">
<text x="571.3" y="1333.9" font-size="19.2" textLength="339.0" lengthAdjust="spacingAndGlyphs">Llama2-7B Attention Keys (Post-Rotary)</text>
<line x1="570.6" y1="1514.5" x2="911.2" y2="1514.5" stroke="#cfcfcf" stroke-width="1" stroke-dasharray="1.2 1.6"/>
<line x1="570.6" y1="1485.4" x2="911.2" y2="1485.4" stroke="#cfcfcf" stroke-width="1" stroke-dasharray="1.2 1.6"/>
<line x1="570.6" y1="1456.4" x2="911.2" y2="1456.4" stroke="#cfcfcf" stroke-width="1" stroke-dasharray="1.2 1.6"/>
<line x1="570.6" y1="1427.3" x2="911.2" y2="1427.3" stroke="#cfcfcf" stroke-width="1" stroke-dasharray="1.2 1.6"/>
<line x1="570.6" y1="1398.3" x2="911.2" y2="1398.3" stroke="#cfcfcf" stroke-width="1" stroke-dasharray="1.2 1.6"/>
<line x1="570.6" y1="1369.2" x2="911.2" y2="1369.2" stroke="#cfcfcf" stroke-width="1" stroke-dasharray="1.2 1.6"/>
<line x1="570.6" y1="1340.2" x2="911.2" y2="1340.2" stroke="#cfcfcf" stroke-width="1" stroke-dasharray="1.2 1.6"/>
<line x1="570.6" y1="1543.5" x2="911.2" y2="1543.5" stroke="#b8b8b8" stroke-width="1.5"/>
<line x1="570.6" y1="1340.2" x2="570.6" y2="1543.5" stroke="#b8b8b8" stroke-width="1.5"/>
<line x1="566.1" y1="1543.5" x2="570.6" y2="1543.5" stroke="#b8b8b8" stroke-width="1.2"/>
<text x="564.6" y="1549.7" font-size="17.4" text-anchor="end" textLength="9.1" lengthAdjust="spacingAndGlyphs">0</text>
<line x1="566.1" y1="1514.5" x2="570.6" y2="1514.5" stroke="#b8b8b8" stroke-width="1.2"/>
<text x="564.6" y="1520.7" font-size="17.4" text-anchor="end" textLength="18.2" lengthAdjust="spacingAndGlyphs">20</text>
<line x1="566.1" y1="1485.4" x2="570.6" y2="1485.4" stroke="#b8b8b8" stroke-width="1.2"/>
<text x="564.6" y="1491.6" font-size="17.4" text-anchor="end" textLength="18.2" lengthAdjust="spacingAndGlyphs">40</text>
<line x1="566.1" y1="1456.4" x2="570.6" y2="1456.4" stroke="#b8b8b8" stroke-width="1.2"/>
<text x="564.6" y="1462.6" font-size="17.4" text-anchor="end" textLength="18.2" lengthAdjust="spacingAndGlyphs">60</text>
<line x1="566.1" y1="1427.3" x2="570.6" y2="1427.3" stroke="#b8b8b8" stroke-width="1.2"/>
<text x="564.6" y="1433.5" font-size="17.4" text-anchor="end" textLength="18.2" lengthAdjust="spacingAndGlyphs">80</text>
<line x1="566.1" y1="1398.3" x2="570.6" y2="1398.3" stroke="#b8b8b8" stroke-width="1.2"/>
<text x="564.6" y="1404.5" font-size="17.4" text-anchor="end" textLength="25.0" lengthAdjust="spacingAndGlyphs">100</text>
<line x1="566.1" y1="1369.2" x2="570.6" y2="1369.2" stroke="#b8b8b8" stroke-width="1.2"/>
<text x="564.6" y="1375.4" font-size="17.4" text-anchor="end" textLength="25.0" lengthAdjust="spacingAndGlyphs">120</text>
<line x1="566.1" y1="1357.6" x2="570.6" y2="1357.6" stroke="#b8b8b8" stroke-width="1.2"/>
<text x="564.6" y="1363.8" font-size="17.4" text-anchor="end" textLength="25.0" lengthAdjust="spacingAndGlyphs">128</text>
<line x1="566.1" y1="1340.2" x2="570.6" y2="1340.2" stroke="#b8b8b8" stroke-width="1.2"/>
<text x="564.6" y="1346.4" font-size="17.4" text-anchor="end" textLength="25.0" lengthAdjust="spacingAndGlyphs">140</text>
<line x1="570.6" y1="1357.6" x2="911.2" y2="1357.6" stroke="#000" stroke-width="1.8" stroke-dasharray="7.5 3.2"/>
<text x="814.1" y="1368.8" font-size="10.6" textLength="92.0" lengthAdjust="spacingAndGlyphs">Full Dimensionality</text>
<text x="531.5" y="1441.5" font-size="19.2" text-anchor="middle" textLength="242.0" lengthAdjust="spacingAndGlyphs" transform="rotate(-90 531.5 1441.5)">Rank at 90% Explained Variance</text>
<line x1="570.6" y1="1543.5" x2="570.6" y2="1548.0" stroke="#b8b8b8" stroke-width="1.2"/>
<text x="570.6" y="1562.2" font-size="17.4" text-anchor="middle" textLength="9.1" lengthAdjust="spacingAndGlyphs">0</text>
<line x1="623.8" y1="1543.5" x2="623.8" y2="1548.0" stroke="#b8b8b8" stroke-width="1.2"/>
<text x="623.8" y="1562.2" font-size="17.4" text-anchor="middle" textLength="9.1" lengthAdjust="spacingAndGlyphs">5</text>
<line x1="676.9" y1="1543.5" x2="676.9" y2="1548.0" stroke="#b8b8b8" stroke-width="1.2"/>
<text x="676.9" y="1562.2" font-size="17.4" text-anchor="middle" textLength="15.9" lengthAdjust="spacingAndGlyphs">10</text>
<line x1="730.1" y1="1543.5" x2="730.1" y2="1548.0" stroke="#b8b8b8" stroke-width="1.2"/>
<text x="730.1" y="1562.2" font-size="17.4" text-anchor="middle" textLength="15.9" lengthAdjust="spacingAndGlyphs">15</text>
<line x1="783.2" y1="1543.5" x2="783.2" y2="1548.0" stroke="#b8b8b8" stroke-width="1.2"/>
<text x="783.2" y="1562.2" font-size="17.4" text-anchor="middle" textLength="18.2" lengthAdjust="spacingAndGlyphs">20</text>
<line x1="836.4" y1="1543.5" x2="836.4" y2="1548.0" stroke="#b8b8b8" stroke-width="1.2"/>
<text x="836.4" y="1562.2" font-size="17.4" text-anchor="middle" textLength="18.2" lengthAdjust="spacingAndGlyphs">25</text>
<line x1="889.5" y1="1543.5" x2="889.5" y2="1548.0" stroke="#b8b8b8" stroke-width="1.2"/>
<text x="889.5" y="1562.2" font-size="17.4" text-anchor="middle" textLength="18.2" lengthAdjust="spacingAndGlyphs">30</text>
<text x="740.7" y="1583.0" font-size="18.6" text-anchor="middle" textLength="65.0" lengthAdjust="spacingAndGlyphs">Layer ID</text>
<path d="M570.6 1463.6 L581.2 1470.2 L591.9 1466.5 L602.5 1451.0 L613.1 1449.5 L623.8 1444.3 L634.4 1440.4 L645.0 1438.4 L655.6 1438.7 L666.3 1436.0 L676.9 1434.9 L687.5 1438.1 L698.2 1434.2 L708.8 1433.9 L719.4 1434.2 L730.1 1434.2 L740.7 1436.3 L751.3 1429.9 L761.9 1428.6 L772.6 1429.7 L783.2 1428.6 L793.8 1427.2 L804.5 1425.9 L815.1 1420.9 L825.7 1426.9 L836.4 1417.2 L847.0 1422.7 L857.6 1417.2 L868.2 1417.5 L878.9 1424.7 L889.5 1418.8 L900.1 1429.9" fill="none" stroke="#d2691e" stroke-width="1.8"/>
<path d="M570.6 1460.8 L573.2 1465.8 L568.0 1465.8Z" fill="#d2691e"/>
<path d="M581.2 1467.4 L583.8 1472.4 L578.6 1472.4Z" fill="#d2691e"/>
<path d="M591.9 1463.7 L594.5 1468.7 L589.3 1468.7Z" fill="#d2691e"/>
<path d="M602.5 1448.2 L605.1 1453.2 L599.9 1453.2Z" fill="#d2691e"/>
<path d="M613.1 1446.7 L615.7 1451.7 L610.5 1451.7Z" fill="#d2691e"/>
<path d="M623.8 1441.5 L626.4 1446.5 L621.1 1446.5Z" fill="#d2691e"/>
<path d="M634.4 1437.6 L637.0 1442.6 L631.8 1442.6Z" fill="#d2691e"/>
<path d="M645.0 1435.6 L647.6 1440.6 L642.4 1440.6Z" fill="#d2691e"/>
<path d="M655.6 1435.9 L658.2 1440.9 L653.0 1440.9Z" fill="#d2691e"/>
<path d="M666.3 1433.2 L668.9 1438.2 L663.7 1438.2Z" fill="#d2691e"/>
<path d="M676.9 1432.1 L679.5 1437.1 L674.3 1437.1Z" fill="#d2691e"/>
<path d="M687.5 1435.3 L690.1 1440.3 L684.9 1440.3Z" fill="#d2691e"/>
<path d="M698.2 1431.4 L700.8 1436.4 L695.6 1436.4Z" fill="#d2691e"/>
<path d="M708.8 1431.1 L711.4 1436.1 L706.2 1436.1Z" fill="#d2691e"/>
<path d="M719.4 1431.4 L722.0 1436.4 L716.8 1436.4Z" fill="#d2691e"/>
<path d="M730.1 1431.4 L732.7 1436.4 L727.5 1436.4Z" fill="#d2691e"/>
<path d="M740.7 1433.5 L743.3 1438.5 L738.1 1438.5Z" fill="#d2691e"/>
<path d="M751.3 1427.1 L753.9 1432.1 L748.7 1432.1Z" fill="#d2691e"/>
<path d="M761.9 1425.8 L764.5 1430.8 L759.3 1430.8Z" fill="#d2691e"/>
<path d="M772.6 1426.9 L775.2 1431.9 L770.0 1431.9Z" fill="#d2691e"/>
<path d="M783.2 1425.8 L785.8 1430.8 L780.6 1430.8Z" fill="#d2691e"/>
<path d="M793.8 1424.4 L796.4 1429.4 L791.2 1429.4Z" fill="#d2691e"/>
<path d="M804.5 1423.1 L807.1 1428.1 L801.9 1428.1Z" fill="#d2691e"/>
<path d="M815.1 1418.1 L817.7 1423.1 L812.5 1423.1Z" fill="#d2691e"/>
<path d="M825.7 1424.1 L828.3 1429.1 L823.1 1429.1Z" fill="#d2691e"/>
<path d="M836.4 1414.4 L839.0 1419.4 L833.8 1419.4Z" fill="#d2691e"/>
<path d="M847.0 1419.9 L849.6 1424.9 L844.4 1424.9Z" fill="#d2691e"/>
<path d="M857.6 1414.4 L860.2 1419.4 L855.0 1419.4Z" fill="#d2691e"/>
<path d="M868.2 1414.7 L870.8 1419.7 L865.6 1419.7Z" fill="#d2691e"/>
<path d="M878.9 1421.9 L881.5 1426.9 L876.3 1426.9Z" fill="#d2691e"/>
<path d="M889.5 1416.0 L892.1 1421.0 L886.9 1421.0Z" fill="#d2691e"/>
<path d="M900.1 1427.1 L902.7 1432.1 L897.5 1432.1Z" fill="#d2691e"/>
<path d="M570.6 1463.6 L581.2 1469.4 L591.9 1465.8 L602.5 1450.6 L613.1 1449.1 L623.8 1443.9 L634.4 1439.8 L645.0 1437.8 L655.6 1438.4 L666.3 1435.8 L676.9 1434.6 L687.5 1437.8 L698.2 1433.9 L708.8 1433.9 L719.4 1434.2 L730.1 1434.2 L740.7 1436.3 L751.3 1429.9 L761.9 1428.8 L772.6 1430.5 L783.2 1429.1 L793.8 1427.9 L804.5 1426.2 L815.1 1421.5 L825.7 1427.3 L836.4 1418.0 L847.0 1423.3 L857.6 1416.9 L868.2 1417.2 L878.9 1425.0 L889.5 1418.6 L900.1 1430.2" fill="none" stroke="#4aaa7d" stroke-width="1.6" stroke-dasharray="1.6 1.6"/>
<rect x="568.2" y="1461.2" width="4.8" height="4.8" fill="#4aaa7d"/>
<rect x="578.8" y="1467.0" width="4.8" height="4.8" fill="#4aaa7d"/>
<rect x="589.5" y="1463.4" width="4.8" height="4.8" fill="#4aaa7d"/>
<rect x="600.1" y="1448.2" width="4.8" height="4.8" fill="#4aaa7d"/>
<rect x="610.7" y="1446.7" width="4.8" height="4.8" fill="#4aaa7d"/>
<rect x="621.4" y="1441.5" width="4.8" height="4.8" fill="#4aaa7d"/>
<rect x="632.0" y="1437.4" width="4.8" height="4.8" fill="#4aaa7d"/>
<rect x="642.6" y="1435.4" width="4.8" height="4.8" fill="#4aaa7d"/>
<rect x="653.2" y="1436.0" width="4.8" height="4.8" fill="#4aaa7d"/>
<rect x="663.9" y="1433.4" width="4.8" height="4.8" fill="#4aaa7d"/>
<rect x="674.5" y="1432.2" width="4.8" height="4.8" fill="#4aaa7d"/>
<rect x="685.1" y="1435.4" width="4.8" height="4.8" fill="#4aaa7d"/>
<rect x="695.8" y="1431.5" width="4.8" height="4.8" fill="#4aaa7d"/>
<rect x="706.4" y="1431.5" width="4.8" height="4.8" fill="#4aaa7d"/>
<rect x="717.0" y="1431.8" width="4.8" height="4.8" fill="#4aaa7d"/>
<rect x="727.7" y="1431.8" width="4.8" height="4.8" fill="#4aaa7d"/>
<rect x="738.3" y="1433.9" width="4.8" height="4.8" fill="#4aaa7d"/>
<rect x="748.9" y="1427.5" width="4.8" height="4.8" fill="#4aaa7d"/>
<rect x="759.5" y="1426.4" width="4.8" height="4.8" fill="#4aaa7d"/>
<rect x="770.2" y="1428.1" width="4.8" height="4.8" fill="#4aaa7d"/>
<rect x="780.8" y="1426.7" width="4.8" height="4.8" fill="#4aaa7d"/>
<rect x="791.4" y="1425.5" width="4.8" height="4.8" fill="#4aaa7d"/>
<rect x="802.1" y="1423.8" width="4.8" height="4.8" fill="#4aaa7d"/>
<rect x="812.7" y="1419.1" width="4.8" height="4.8" fill="#4aaa7d"/>
<rect x="823.3" y="1424.9" width="4.8" height="4.8" fill="#4aaa7d"/>
<rect x="834.0" y="1415.6" width="4.8" height="4.8" fill="#4aaa7d"/>
<rect x="844.6" y="1420.9" width="4.8" height="4.8" fill="#4aaa7d"/>
<rect x="855.2" y="1414.5" width="4.8" height="4.8" fill="#4aaa7d"/>
<rect x="865.8" y="1414.8" width="4.8" height="4.8" fill="#4aaa7d"/>
<rect x="876.5" y="1422.6" width="4.8" height="4.8" fill="#4aaa7d"/>
<rect x="887.1" y="1416.2" width="4.8" height="4.8" fill="#4aaa7d"/>
<rect x="897.7" y="1427.8" width="4.8" height="4.8" fill="#4aaa7d"/>
<path d="M570.6 1463.3 L581.2 1470.6 L591.9 1467.4 L602.5 1455.1 L613.1 1454.5 L623.8 1449.1 L634.4 1442.4 L645.0 1440.7 L655.6 1440.4 L666.3 1438.1 L676.9 1436.6 L687.5 1439.2 L698.2 1435.5 L708.8 1434.6 L719.4 1434.9 L730.1 1435.2 L740.7 1437.2 L751.3 1430.5 L761.9 1429.4 L772.6 1430.2 L783.2 1429.4 L793.8 1427.9 L804.5 1427.0 L815.1 1422.4 L825.7 1428.2 L836.4 1419.8 L847.0 1424.1 L857.6 1420.9 L868.2 1420.4 L878.9 1426.2 L889.5 1422.7 L900.1 1434.9" fill="none" stroke="#3a7bbf" stroke-width="1.8" stroke-dasharray="7 3"/>
<circle cx="570.6" cy="1463.3" r="2.5" fill="#3a7bbf"/>
<circle cx="581.2" cy="1470.6" r="2.5" fill="#3a7bbf"/>
<circle cx="591.9" cy="1467.4" r="2.5" fill="#3a7bbf"/>
<circle cx="602.5" cy="1455.1" r="2.5" fill="#3a7bbf"/>
<circle cx="613.1" cy="1454.5" r="2.5" fill="#3a7bbf"/>
<circle cx="623.8" cy="1449.1" r="2.5" fill="#3a7bbf"/>
<circle cx="634.4" cy="1442.4" r="2.5" fill="#3a7bbf"/>
<circle cx="645.0" cy="1440.7" r="2.5" fill="#3a7bbf"/>
<circle cx="655.6" cy="1440.4" r="2.5" fill="#3a7bbf"/>
<circle cx="666.3" cy="1438.1" r="2.5" fill="#3a7bbf"/>
<circle cx="676.9" cy="1436.6" r="2.5" fill="#3a7bbf"/>
<circle cx="687.5" cy="1439.2" r="2.5" fill="#3a7bbf"/>
<circle cx="698.2" cy="1435.5" r="2.5" fill="#3a7bbf"/>
<circle cx="708.8" cy="1434.6" r="2.5" fill="#3a7bbf"/>
<circle cx="719.4" cy="1434.9" r="2.5" fill="#3a7bbf"/>
<circle cx="730.1" cy="1435.2" r="2.5" fill="#3a7bbf"/>
<circle cx="740.7" cy="1437.2" r="2.5" fill="#3a7bbf"/>
<circle cx="751.3" cy="1430.5" r="2.5" fill="#3a7bbf"/>
<circle cx="761.9" cy="1429.4" r="2.5" fill="#3a7bbf"/>
<circle cx="772.6" cy="1430.2" r="2.5" fill="#3a7bbf"/>
<circle cx="783.2" cy="1429.4" r="2.5" fill="#3a7bbf"/>
<circle cx="793.8" cy="1427.9" r="2.5" fill="#3a7bbf"/>
<circle cx="804.5" cy="1427.0" r="2.5" fill="#3a7bbf"/>
<circle cx="815.1" cy="1422.4" r="2.5" fill="#3a7bbf"/>
<circle cx="825.7" cy="1428.2" r="2.5" fill="#3a7bbf"/>
<circle cx="836.4" cy="1419.8" r="2.5" fill="#3a7bbf"/>
<circle cx="847.0" cy="1424.1" r="2.5" fill="#3a7bbf"/>
<circle cx="857.6" cy="1420.9" r="2.5" fill="#3a7bbf"/>
<circle cx="868.2" cy="1420.4" r="2.5" fill="#3a7bbf"/>
<circle cx="878.9" cy="1426.2" r="2.5" fill="#3a7bbf"/>
<circle cx="889.5" cy="1422.7" r="2.5" fill="#3a7bbf"/>
<circle cx="900.1" cy="1434.9" r="2.5" fill="#3a7bbf"/>
<rect x="751.6" y="1456.5" width="150.9" height="78.6" fill="#ffffffcc" stroke="#dcdcdc" stroke-width="1" rx="3.5"/>
<line x1="758.0" y1="1470.3" x2="794.0" y2="1470.3" stroke="#d2691e" stroke-width="1.8"/>
<path d="M776 1467.5 L778.6 1472.5 L773.4 1472.5Z" fill="#d2691e"/>
<text x="806.4" y="1477.0" font-size="18.4" textLength="63.0" lengthAdjust="spacingAndGlyphs">Wikitext</text>
<line x1="758.0" y1="1494.6" x2="794.0" y2="1494.6" stroke="#4aaa7d" stroke-width="1.6" stroke-dasharray="1.6 1.6"/>
<rect x="773.6" y="1492.2" width="4.8" height="4.8" fill="#4aaa7d"/>
<text x="806.4" y="1501.4" font-size="18.4" textLength="21.5" lengthAdjust="spacingAndGlyphs">C4</text>
<line x1="758.0" y1="1519.0" x2="794.0" y2="1519.0" stroke="#3a7bbf" stroke-width="1.8" stroke-dasharray="7 3"/>
<circle cx="776.0" cy="1519.0" r="2.5" fill="#3a7bbf"/>
<text x="806.4" y="1525.8" font-size="18.4" textLength="89.0" lengthAdjust="spacingAndGlyphs">BookCorpus</text>
</g>
<g id="diagram">
<rect x="1019.3" y="441.1" width="35.4" height="171.5" fill="#dcf7f1"/>
<rect x="1019.3" y="615.0" width="35.4" height="180.0" fill="#fbecec"/>
<text x="1041.8" y="527.5" font-size="14.4" text-anchor="middle" fill="#4f545b" textLength="52.2" lengthAdjust="spacingAndGlyphs" transform="rotate(-90 1041.8 527.5)">OFFLINE</text>
<text x="1041.8" y="705.0" font-size="14.4" text-anchor="middle" fill="#4f545b" textLength="128.9" lengthAdjust="spacingAndGlyphs" transform="rotate(-90 1041.8 705.0)">DURING INFERENCE</text>
<line x1="1019.3" y1="613.8" x2="1663.8" y2="613.8" stroke="#3b4048" stroke-width="3" stroke-dasharray="12.6 12.95" stroke-dashoffset="3.95"/>
<rect x="1127.6" y="497.6" width="23.0" height="30.2" fill="#4a82c4" stroke="#2d3138" stroke-width="1.1" rx="2.2"/>
<rect x="1130.0" y="495.6" width="23.0" height="30.2" fill="#f5c842" stroke="#2d3138" stroke-width="1.1" rx="2.2"/>
<path d="M1134.6 493.4 H1149.4 L1155.6 499.4 V521.4 Q1155.6 523.6 1153.4 523.6 H1134.6 Q1132.4 523.6 1132.4 521.4 V495.6 Q1132.4 493.4 1134.6 493.4Z" fill="#ececf1" stroke="#2d3138" stroke-width="1.2"/>
<path d="M1149.4 493.4 V499.4 H1155.6" fill="#cfcfd6" stroke="#2d3138" stroke-width="1"/>
<line x1="1136.6" y1="504.6" x2="1151.0" y2="504.6" stroke="#3a3f46" stroke-width="1.3"/>
<line x1="1136.6" y1="508.5" x2="1151.0" y2="508.5" stroke="#3a3f46" stroke-width="1.3"/>
<line x1="1136.6" y1="512.4" x2="1151.0" y2="512.4" stroke="#3a3f46" stroke-width="1.3"/>
<text x="1141.7" y="548.8" font-size="12.8" text-anchor="middle" fill="#4f545b" textLength="61.8" lengthAdjust="spacingAndGlyphs">Calibration</text>
<text x="1141.9" y="563.0" font-size="12.8" text-anchor="middle" fill="#4f545b" textLength="43.3" lengthAdjust="spacingAndGlyphs">Dataset</text>
<line x1="1165.7" y1="513.0" x2="1193.0" y2="513.0" stroke="#5a6068" stroke-width="1.1"/>
<path d="M1199.2 513.0 L1193.0 515.3 L1193.0 510.7Z" fill="#5a6068"/>
<path d="M1213.2 493.5L1227.9 493.5M1213.2 493.5L1227.9 508.3M1213.2 493.5L1227.9 523.1M1213.2 508.3L1227.9 493.5M1213.2 508.3L1227.9 508.3M1213.2 508.3L1227.9 523.1M1213.2 523.1L1227.9 493.5M1213.2 523.1L1227.9 508.3M1213.2 523.1L1227.9 523.1" fill="none" stroke="#3f5fa8" stroke-width="0.8"/>
<path d="M1227.9 493.5 H1237.7 Q1243.7 493.5 1243.7 499.5 V517.1 Q1243.7 523.1 1237.7 523.1 H1227.9" fill="none" stroke="#3f5fa8" stroke-width="0.8"/>
<path d="M1227.9 493.5 L1243.7 508.3 L1227.9 523.1 M1227.9 508.3 H1243.7" fill="none" stroke="#3f5fa8" stroke-width="0.8"/>
<circle cx="1213.2" cy="493.5" r="5.1" fill="#fff" stroke="#3f5fa8" stroke-width="0.9"/>
<circle cx="1213.2" cy="493.5" r="2.9" fill="#b9cffb"/>
<circle cx="1213.2" cy="508.3" r="5.1" fill="#fff" stroke="#3f5fa8" stroke-width="0.9"/>
<circle cx="1213.2" cy="508.3" r="2.9" fill="#4a7df0"/>
<circle cx="1213.2" cy="523.1" r="5.1" fill="#fff" stroke="#3f5fa8" stroke-width="0.9"/>
<circle cx="1213.2" cy="523.1" r="2.9" fill="#b9cffb"/>
<circle cx="1227.9" cy="493.5" r="5.1" fill="#fff" stroke="#3f5fa8" stroke-width="0.9"/>
<circle cx="1227.9" cy="493.5" r="2.9" fill="#4a7df0"/>
<circle cx="1227.9" cy="508.3" r="5.1" fill="#fff" stroke="#3f5fa8" stroke-width="0.9"/>
<circle cx="1227.9" cy="508.3" r="2.9" fill="#b9cffb"/>
<circle cx="1227.9" cy="523.1" r="5.1" fill="#fff" stroke="#3f5fa8" stroke-width="0.9"/>
<circle cx="1227.9" cy="523.1" r="2.9" fill="#4a7df0"/>
<circle cx="1243.7" cy="508.3" r="5.1" fill="#fff" stroke="#3f5fa8" stroke-width="0.9"/>
<circle cx="1243.7" cy="508.3" r="2.9" fill="#fff" stroke="#3f5fa8" stroke-width="0.9"/>
<text x="1224.4" y="550.4" font-size="12.8" text-anchor="middle" fill="#4f545b" textLength="23.8" lengthAdjust="spacingAndGlyphs">LLM</text>
<line x1="1259.0" y1="513.0" x2="1342.6" y2="513.0" stroke="#5a6068" stroke-width="1.1"/>
<path d="M1348.8 513.0 L1342.6 515.3 L1342.6 510.7Z" fill="#5a6068"/>
<text x="1300.3" y="508.5" font-size="12.8" text-anchor="middle" fill="#4f545b" textLength="52.7" lengthAdjust="spacingAndGlyphs">Generate</text>
<text x="1300.2" y="522.7" font-size="12.8" text-anchor="middle" fill="#4f545b" textLength="37.0" lengthAdjust="spacingAndGlyphs">&amp; Save</text>
<rect x="1362.4" y="455.4" width="66.3" height="115.7" fill="#fbfbd2"/>
<path d="M1379.0 455.4V571.1M1395.6 455.4V571.1M1412.1 455.4V571.1M1362.4 471.9H1428.7M1362.4 488.5H1428.7M1362.4 505.0H1428.7M1362.4 521.5H1428.7M1362.4 538.0H1428.7M1362.4 554.6H1428.7" fill="none" stroke="#8a8f96" stroke-width="0.9"/>
<rect x="1362.4" y="455.4" width="66.3" height="115.7" fill="none" stroke="#8a8f96" stroke-width="1.5"/>
<line x1="1365.2" y1="459.2" x2="1353.0" y2="471.0" stroke="#8a5a1c" stroke-width="3.7" stroke-linecap="round"/>
<line x1="1365.2" y1="459.2" x2="1353.0" y2="471.0" stroke="#f2b84b" stroke-width="2.0" stroke-linecap="round"/>
<line x1="1356.0" y1="468.2" x2="1358.2" y2="470.6" stroke="#8a5a1c" stroke-width="2.4"/>
<line x1="1359.0" y1="465.2" x2="1361.0" y2="467.4" stroke="#8a5a1c" stroke-width="2.4"/>
<line x1="1356.0" y1="468.2" x2="1357.8" y2="470.2" stroke="#f2b84b" stroke-width="1.0"/>
<line x1="1359.0" y1="465.2" x2="1360.6" y2="467.0" stroke="#f2b84b" stroke-width="1.0"/>
<circle cx="1365.9" cy="454.1" r="3.2" fill="#f2b84b" stroke="#8a5a1c" stroke-width="1.0"/>
<circle cx="1365.9" cy="454.1" r="1.2" fill="#fff7e0" stroke="#8a5a1c" stroke-width="0.6"/>
<circle cx="1370.9" cy="453.9" r="3.2" fill="#f2b84b" stroke="#8a5a1c" stroke-width="1.0"/>
<circle cx="1370.9" cy="453.9" r="1.2" fill="#fff7e0" stroke="#8a5a1c" stroke-width="0.6"/>
<circle cx="1370.5" cy="458.9" r="3.2" fill="#f2b84b" stroke="#8a5a1c" stroke-width="1.0"/>
<circle cx="1370.5" cy="458.9" r="1.2" fill="#fff7e0" stroke="#8a5a1c" stroke-width="0.6"/>
<line x1="1363.2" y1="458.2" x2="1366.0" y2="461.2" stroke="#8a5a1c" stroke-width="2.0"/>
<text x="1395.9" y="587.9" font-size="12.8" text-anchor="middle" fill="#4f545b" textLength="25.3" lengthAdjust="spacingAndGlyphs">Keys</text>
<line x1="1433.5" y1="513.0" x2="1501.9" y2="513.0" stroke="#5a6068" stroke-width="1.1"/>
<path d="M1508.1 513.0 L1501.9 515.3 L1501.9 510.7Z" fill="#5a6068"/>
<text x="1469.0" y="509.9" font-size="12.8" text-anchor="middle" fill="#4f545b" textLength="26.2" lengthAdjust="spacingAndGlyphs">PCA</text>
<rect x="1518.5" y="472.4" width="66.5" height="66.0" fill="#f6eefc"/>
<path d="M1535.1 472.4V538.4M1551.8 472.4V538.4M1568.4 472.4V538.4M1518.5 488.9H1585.0M1518.5 505.4H1585.0M1518.5 521.9H1585.0" fill="none" stroke="#8a8f96" stroke-width="0.9"/>
<rect x="1518.5" y="472.4" width="66.5" height="66.0" fill="none" stroke="#8a8f96" stroke-width="1.5"/>
<text x="1557.7" y="555.2" font-size="12.8" text-anchor="middle" fill="#4f545b" textLength="88.1" lengthAdjust="spacingAndGlyphs">PCA Transform</text>
<path d="M1552.9 563.5 V597.7 Q1552.9 600.7 1549.9 600.7 H1238.2 Q1235.2 600.7 1235.2 603.7 V678.5" fill="none" stroke="#5a6068" stroke-width="1.1"/>
<path d="M1235.2 684.6 L1232.9 678.4 L1237.5 678.4Z" fill="#5a6068"/>
<text x="1060.6" y="644.2" font-size="12.8" fill="#4f545b" textLength="36.6" lengthAdjust="spacingAndGlyphs">Query</text>
<rect x="1110.9" y="631.4" width="66.7" height="16.7" fill="#f8d7da"/>
<path d="M1127.6 631.4V648.1M1144.2 631.4V648.1M1160.9 631.4V648.1" fill="none" stroke="#a9a0a4" stroke-width="0.9"/>
<rect x="1110.9" y="631.4" width="66.7" height="16.7" fill="none" stroke="#a9a0a4" stroke-width="1.2"/>
<path d="M1107.8 629.6 q2.6 -3.4 6.4 -1.4 q4.2 -1.8 6 1.6 q3.4 1.2 2 4.6 q1.6 3.6 -2 5 q-0.8 3.2 -4.6 2.6 q-2.4 1.8 -5 0.6 q-1.6 2.6 -4.4 3.2 q1.4 -1.6 1 -3.6 q-3.6 -0.6 -3.4 -4.2 q-2.2 -3 0.6 -5.4 q0 -3 3.4 -3 z" fill="#f7c96b" stroke="#b98a2e" stroke-width="0.9"/>
<text x="1113.2" y="640.6" font-size="12.6" font-weight="bold" text-anchor="middle" fill="#8c2f24">?</text>
<rect x="1110.9" y="669.5" width="66.7" height="115.6" fill="#c9f5c9"/>
<path d="M1127.6 669.5V785.1M1144.2 669.5V785.1M1160.9 669.5V785.1M1110.9 686.0H1177.6M1110.9 702.5H1177.6M1110.9 719.0H1177.6M1110.9 735.6H1177.6M1110.9 752.1H1177.6M1110.9 768.6H1177.6" fill="none" stroke="#7f8a82" stroke-width="0.9"/>
<rect x="1110.9" y="669.5" width="66.7" height="115.6" fill="none" stroke="#7f8a82" stroke-width="1.7"/>
<line x1="1109.8" y1="670.4" x2="1097.6" y2="682.2" stroke="#8a5a1c" stroke-width="3.7" stroke-linecap="round"/>
<line x1="1109.8" y1="670.4" x2="1097.6" y2="682.2" stroke="#f2b84b" stroke-width="2.0" stroke-linecap="round"/>
<line x1="1100.6" y1="679.4" x2="1102.8" y2="681.8" stroke="#8a5a1c" stroke-width="2.4"/>
<line x1="1103.6" y1="676.4" x2="1105.6" y2="678.6" stroke="#8a5a1c" stroke-width="2.4"/>
<line x1="1100.6" y1="679.4" x2="1102.4" y2="681.4" stroke="#f2b84b" stroke-width="1.0"/>
<line x1="1103.6" y1="676.4" x2="1105.2" y2="678.2" stroke="#f2b84b" stroke-width="1.0"/>
<circle cx="1110.5" cy="665.3" r="3.2" fill="#f2b84b" stroke="#8a5a1c" stroke-width="1.0"/>
<circle cx="1110.5" cy="665.3" r="1.2" fill="#fff7e0" stroke="#8a5a1c" stroke-width="0.6"/>
<circle cx="1115.5" cy="665.1" r="3.2" fill="#f2b84b" stroke="#8a5a1c" stroke-width="1.0"/>
<circle cx="1115.5" cy="665.1" r="1.2" fill="#fff7e0" stroke="#8a5a1c" stroke-width="0.6"/>
<circle cx="1115.1" cy="670.1" r="3.2" fill="#f2b84b" stroke="#8a5a1c" stroke-width="1.0"/>
<circle cx="1115.1" cy="670.1" r="1.2" fill="#fff7e0" stroke="#8a5a1c" stroke-width="0.6"/>
<line x1="1107.8" y1="669.4" x2="1110.6" y2="672.4" stroke="#8a5a1c" stroke-width="2.0"/>
<text x="1071.8" y="726.6" font-size="12.8" fill="#4f545b" textLength="25.7" lengthAdjust="spacingAndGlyphs">Keys</text>
<circle cx="1189.4" cy="713.3" r="8.3" fill="#fff" stroke="#7a7f86" stroke-width="1"/>
<text x="1189.4" y="716.7" font-size="11.5" text-anchor="middle" fill="#444">x</text>
<rect x="1202.4" y="686.3" width="66.2" height="65.6" fill="#f6eefc"/>
<path d="M1219.0 686.3V751.9M1235.5 686.3V751.9M1252.1 686.3V751.9M1202.4 702.7H1268.6M1202.4 719.1H1268.6M1202.4 735.5H1268.6" fill="none" stroke="#8a8790" stroke-width="0.9"/>
<rect x="1202.4" y="686.3" width="66.2" height="65.6" fill="none" stroke="#8a8790" stroke-width="1.5"/>
<line x1="1203.9" y1="685.7" x2="1212.2" y2="690.5" stroke="#2f6f96" stroke-width="3"/>
<line x1="1203.9" y1="685.7" x2="1203.9" y2="695.3" stroke="#2f6f96" stroke-width="3"/>
<line x1="1203.9" y1="685.7" x2="1195.6" y2="690.5" stroke="#2f6f96" stroke-width="3"/>
<line x1="1203.9" y1="685.7" x2="1195.6" y2="680.9" stroke="#2f6f96" stroke-width="3"/>
<line x1="1203.9" y1="685.7" x2="1203.9" y2="676.1" stroke="#2f6f96" stroke-width="3"/>
<line x1="1203.9" y1="685.7" x2="1212.2" y2="680.9" stroke="#2f6f96" stroke-width="3"/>
<line x1="1203.9" y1="685.7" x2="1212.2" y2="690.5" stroke="#5db4e6" stroke-width="1.7"/>
<line x1="1209.1" y1="688.7" x2="1212.3" y2="687.5" stroke="#2f6f96" stroke-width="2.4"/>
<line x1="1209.1" y1="688.7" x2="1212.1" y2="687.6" stroke="#5db4e6" stroke-width="1.3"/>
<line x1="1209.1" y1="688.7" x2="1209.7" y2="692.1" stroke="#2f6f96" stroke-width="2.4"/>
<line x1="1209.1" y1="688.7" x2="1209.6" y2="691.9" stroke="#5db4e6" stroke-width="1.3"/>
<circle cx="1212.2" cy="690.5" r="1.5" fill="#5db4e6" stroke="#2f6f96" stroke-width="0.6"/>
<line x1="1203.9" y1="685.7" x2="1203.9" y2="695.3" stroke="#5db4e6" stroke-width="1.7"/>
<line x1="1203.9" y1="691.7" x2="1206.5" y2="693.9" stroke="#2f6f96" stroke-width="2.4"/>
<line x1="1203.9" y1="691.7" x2="1206.4" y2="693.8" stroke="#5db4e6" stroke-width="1.3"/>
<line x1="1203.9" y1="691.7" x2="1201.3" y2="693.9" stroke="#2f6f96" stroke-width="2.4"/>
<line x1="1203.9" y1="691.7" x2="1201.4" y2="693.8" stroke="#5db4e6" stroke-width="1.3"/>
<circle cx="1203.9" cy="695.3" r="1.5" fill="#5db4e6" stroke="#2f6f96" stroke-width="0.6"/>
<line x1="1203.9" y1="685.7" x2="1195.6" y2="690.5" stroke="#5db4e6" stroke-width="1.7"/>
<line x1="1198.7" y1="688.7" x2="1198.1" y2="692.1" stroke="#2f6f96" stroke-width="2.4"/>
<line x1="1198.7" y1="688.7" x2="1198.2" y2="691.9" stroke="#5db4e6" stroke-width="1.3"/>
<line x1="1198.7" y1="688.7" x2="1195.5" y2="687.5" stroke="#2f6f96" stroke-width="2.4"/>
<line x1="1198.7" y1="688.7" x2="1195.7" y2="687.6" stroke="#5db4e6" stroke-width="1.3"/>
<circle cx="1195.6" cy="690.5" r="1.5" fill="#5db4e6" stroke="#2f6f96" stroke-width="0.6"/>
<line x1="1203.9" y1="685.7" x2="1195.6" y2="680.9" stroke="#5db4e6" stroke-width="1.7"/>
<line x1="1198.7" y1="682.7" x2="1195.5" y2="683.9" stroke="#2f6f96" stroke-width="2.4"/>
<line x1="1198.7" y1="682.7" x2="1195.7" y2="683.8" stroke="#5db4e6" stroke-width="1.3"/>
<line x1="1198.7" y1="682.7" x2="1198.1" y2="679.3" stroke="#2f6f96" stroke-width="2.4"/>
<line x1="1198.7" y1="682.7" x2="1198.2" y2="679.5" stroke="#5db4e6" stroke-width="1.3"/>
<circle cx="1195.6" cy="680.9" r="1.5" fill="#5db4e6" stroke="#2f6f96" stroke-width="0.6"/>
<line x1="1203.9" y1="685.7" x2="1203.9" y2="676.1" stroke="#5db4e6" stroke-width="1.7"/>
<line x1="1203.9" y1="679.7" x2="1201.3" y2="677.5" stroke="#2f6f96" stroke-width="2.4"/>
<line x1="1203.9" y1="679.7" x2="1201.4" y2="677.6" stroke="#5db4e6" stroke-width="1.3"/>
<line x1="1203.9" y1="679.7" x2="1206.5" y2="677.5" stroke="#2f6f96" stroke-width="2.4"/>
<line x1="1203.9" y1="679.7" x2="1206.4" y2="677.6" stroke="#5db4e6" stroke-width="1.3"/>
<circle cx="1203.9" cy="676.1" r="1.5" fill="#5db4e6" stroke="#2f6f96" stroke-width="0.6"/>
<line x1="1203.9" y1="685.7" x2="1212.2" y2="680.9" stroke="#5db4e6" stroke-width="1.7"/>
<line x1="1209.1" y1="682.7" x2="1209.7" y2="679.3" stroke="#2f6f96" stroke-width="2.4"/>
<line x1="1209.1" y1="682.7" x2="1209.6" y2="679.5" stroke="#5db4e6" stroke-width="1.3"/>
<line x1="1209.1" y1="682.7" x2="1212.3" y2="683.9" stroke="#2f6f96" stroke-width="2.4"/>
<line x1="1209.1" y1="682.7" x2="1212.1" y2="683.8" stroke="#5db4e6" stroke-width="1.3"/>
<circle cx="1212.2" cy="680.9" r="1.5" fill="#5db4e6" stroke="#2f6f96" stroke-width="0.6"/>
<circle cx="1203.9" cy="685.7" r="1.6" fill="#2f6f96"/>
<line x1="1272.0" y1="710.5" x2="1289.9" y2="710.5" stroke="#5a6068" stroke-width="1.1"/>
<path d="M1296.1 710.5 L1289.9 712.8 L1289.9 708.2Z" fill="#5a6068"/>
<rect x="1334.7" y="669.8" width="32.9" height="115.3" fill="#c3f3ec"/>
<path d="M1351.2 669.8V785.1M1334.7 686.3H1367.6M1334.7 702.7H1367.6M1334.7 719.2H1367.6M1334.7 735.7H1367.6M1334.7 752.2H1367.6M1334.7 768.6H1367.6" fill="none" stroke="#7e9a98" stroke-width="0.9"/>
<rect x="1334.7" y="669.8" width="32.9" height="115.3" fill="none" stroke="#7e9a98" stroke-width="1.5"/>
<rect x="1301.5" y="669.8" width="33.2" height="115.3" fill="#55bfa8"/>
<path d="M1318.1 669.8V785.1M1301.5 686.3H1334.7M1301.5 702.7H1334.7M1301.5 719.2H1334.7M1301.5 735.7H1334.7M1301.5 752.2H1334.7M1301.5 768.6H1334.7" fill="none" stroke="#3b8577" stroke-width="0.9"/>
<rect x="1301.5" y="669.8" width="33.2" height="115.3" fill="none" stroke="#3b8577" stroke-width="1.7"/>
<line x1="1299.7" y1="670.4" x2="1287.5" y2="682.2" stroke="#8a5a1c" stroke-width="3.7" stroke-linecap="round"/>
<line x1="1299.7" y1="670.4" x2="1287.5" y2="682.2" stroke="#f2b84b" stroke-width="2.0" stroke-linecap="round"/>
<line x1="1290.5" y1="679.4" x2="1292.7" y2="681.8" stroke="#8a5a1c" stroke-width="2.4"/>
<line x1="1293.5" y1="676.4" x2="1295.5" y2="678.6" stroke="#8a5a1c" stroke-width="2.4"/>
<line x1="1290.5" y1="679.4" x2="1292.3" y2="681.4" stroke="#f2b84b" stroke-width="1.0"/>
<line x1="1293.5" y1="676.4" x2="1295.1" y2="678.2" stroke="#f2b84b" stroke-width="1.0"/>
<circle cx="1300.4" cy="665.3" r="3.2" fill="#f2b84b" stroke="#8a5a1c" stroke-width="1.0"/>
<circle cx="1300.4" cy="665.3" r="1.2" fill="#fff7e0" stroke="#8a5a1c" stroke-width="0.6"/>
<circle cx="1305.4" cy="665.1" r="3.2" fill="#f2b84b" stroke="#8a5a1c" stroke-width="1.0"/>
<circle cx="1305.4" cy="665.1" r="1.2" fill="#fff7e0" stroke="#8a5a1c" stroke-width="0.6"/>
<circle cx="1305.0" cy="670.1" r="3.2" fill="#f2b84b" stroke="#8a5a1c" stroke-width="1.0"/>
<circle cx="1305.0" cy="670.1" r="1.2" fill="#fff7e0" stroke="#8a5a1c" stroke-width="0.6"/>
<line x1="1297.7" y1="669.4" x2="1300.5" y2="672.4" stroke="#8a5a1c" stroke-width="2.0"/>
<rect x="1302.0" y="631.8" width="33.0" height="16.6" fill="#ef9b4b"/>
<path d="M1318.5 631.8V648.4" fill="none" stroke="#b67a3e" stroke-width="0.9"/>
<rect x="1302.0" y="631.8" width="33.0" height="16.6" fill="none" stroke="#b67a3e" stroke-width="1.2"/>
<rect x="1335.0" y="631.8" width="32.9" height="16.6" fill="#f8dcac"/>
<path d="M1351.5 631.8V648.4" fill="none" stroke="#b9a27c" stroke-width="0.9"/>
<rect x="1335.0" y="631.8" width="32.9" height="16.6" fill="none" stroke="#b9a27c" stroke-width="1.2"/>
<path d="M1294.0 629.6 q2.6 -3.4 6.4 -1.4 q4.2 -1.8 6 1.6 q3.4 1.2 2 4.6 q1.6 3.6 -2 5 q-0.8 3.2 -4.6 2.6 q-2.4 1.8 -5 0.6 q-1.6 2.6 -4.4 3.2 q1.4 -1.6 1 -3.6 q-3.6 -0.6 -3.4 -4.2 q-2.2 -3 0.6 -5.4 q0 -3 3.4 -3 z" fill="#f7c96b" stroke="#b98a2e" stroke-width="0.9"/>
<text x="1299.4" y="640.6" font-size="12.6" font-weight="bold" text-anchor="middle" fill="#8c2f24">?</text>
<line x1="1336.0" y1="638.8" x2="1368.0" y2="638.8" stroke="#9a9384" stroke-width="1" stroke-dasharray="3 2"/>
<line x1="1368.4" y1="638.9" x2="1372.0" y2="638.9" stroke="#5a6068" stroke-width="1.1"/>
<path d="M1376.6 638.9 L1372.0 640.8 L1372.0 637.0Z" fill="#5a6068"/>
<circle cx="1385.6" cy="639.5" r="8.3" fill="#fff" stroke="#7a7f86" stroke-width="1"/>
<text x="1385.6" y="642.9" font-size="11.5" text-anchor="middle" fill="#444">x</text>
<line x1="1394.3" y1="639.5" x2="1398.7" y2="639.5" stroke="#5a6068" stroke-width="1.1"/>
<path d="M1403.3 639.5 L1398.7 641.4 L1398.7 637.6Z" fill="#5a6068"/>
<text x="1434.2" y="635.7" font-size="12.8" text-anchor="middle" fill="#4f545b" textLength="45.3" lengthAdjust="spacingAndGlyphs">Approx.</text>
<text x="1433.2" y="650.2" font-size="12.8" text-anchor="middle" fill="#4f545b" textLength="54.0" lengthAdjust="spacingAndGlyphs">Attention</text>
<text x="1433.2" y="663.6" font-size="12.8" text-anchor="middle" fill="#4f545b" textLength="37.2" lengthAdjust="spacingAndGlyphs">Scores</text>
<path d="M1334.7 727.3 H1338.6 Q1341.4 727.3 1341.4 724.5" fill="none" stroke="#5a6068" stroke-width="1.1"/>
<path d="M1341.4 724.5 V665.4 Q1341.4 662.4 1344.4 662.4 H1382.6 Q1385.6 662.4 1385.6 659.4 V655" fill="none" stroke="#5a6068" stroke-width="1.1" stroke-dasharray="4.4 2.6"/>
<path d="M1385.6 649.6 L1383.5 655.2 L1387.7 655.2Z" fill="#5a6068"/>
<line x1="1434.1" y1="674.8" x2="1434.1" y2="688.8" stroke="#5a6068" stroke-width="1.1" stroke-dasharray="3.4 2.4"/>
<path d="M1434.1 693.8 L1432.1 688.8 L1436.1 688.8Z" fill="#5a6068"/>
<text x="1424.0" y="707.8" font-size="12.8" text-anchor="middle" fill="#4f545b" textLength="34.1" lengthAdjust="spacingAndGlyphs">Select</text>
<text x="1426.4" y="721.7" font-size="12.8" text-anchor="middle" fill="#4f545b" textLength="76.8" lengthAdjust="spacingAndGlyphs">Top-K Tokens</text>
<line x1="1374.5" y1="710.3" x2="1474.5" y2="710.3" stroke="#5a6068" stroke-width="1.1"/>
<path d="M1480.7 710.3 L1474.5 712.6 L1474.5 708.0Z" fill="#5a6068"/>
<rect x="1491.9" y="631.5" width="66.5" height="16.4" fill="#f8dcac"/>
<path d="M1508.5 631.5V647.9M1525.2 631.5V647.9M1541.8 631.5V647.9" fill="none" stroke="#b9a27c" stroke-width="0.9"/>
<rect x="1491.9" y="631.5" width="66.5" height="16.4" fill="none" stroke="#b9a27c" stroke-width="1.2"/>
<path d="M1484.4 629.6 q2.6 -3.4 6.4 -1.4 q4.2 -1.8 6 1.6 q3.4 1.2 2 4.6 q1.6 3.6 -2 5 q-0.8 3.2 -4.6 2.6 q-2.4 1.8 -5 0.6 q-1.6 2.6 -4.4 3.2 q1.4 -1.6 1 -3.6 q-3.6 -0.6 -3.4 -4.2 q-2.2 -3 0.6 -5.4 q0 -3 3.4 -3 z" fill="#f7c96b" stroke="#b98a2e" stroke-width="0.9"/>
<text x="1489.8" y="640.6" font-size="12.6" font-weight="bold" text-anchor="middle" fill="#8c2f24">?</text>
<path d="M1558.6 639 H1574.5 Q1577.5 639 1577.5 642 V693" fill="none" stroke="#5a6068" stroke-width="1.1" stroke-dasharray="4.4 2.6"/>
<path d="M1577.5 698.6 L1575.4 693 L1579.6 693Z" fill="#5a6068"/>
<line x1="1489.6" y1="670.0" x2="1477.4" y2="681.8" stroke="#8a5a1c" stroke-width="3.7" stroke-linecap="round"/>
<line x1="1489.6" y1="670.0" x2="1477.4" y2="681.8" stroke="#f2b84b" stroke-width="2.0" stroke-linecap="round"/>
<line x1="1480.4" y1="679.0" x2="1482.6" y2="681.4" stroke="#8a5a1c" stroke-width="2.4"/>
<line x1="1483.4" y1="676.0" x2="1485.4" y2="678.2" stroke="#8a5a1c" stroke-width="2.4"/>
<line x1="1480.4" y1="679.0" x2="1482.2" y2="681.0" stroke="#f2b84b" stroke-width="1.0"/>
<line x1="1483.4" y1="676.0" x2="1485.0" y2="677.8" stroke="#f2b84b" stroke-width="1.0"/>
<circle cx="1490.3" cy="664.9" r="3.2" fill="#f2b84b" stroke="#8a5a1c" stroke-width="1.0"/>
<circle cx="1490.3" cy="664.9" r="1.2" fill="#fff7e0" stroke="#8a5a1c" stroke-width="0.6"/>
<circle cx="1495.3" cy="664.7" r="3.2" fill="#f2b84b" stroke="#8a5a1c" stroke-width="1.0"/>
<circle cx="1495.3" cy="664.7" r="1.2" fill="#fff7e0" stroke="#8a5a1c" stroke-width="0.6"/>
<circle cx="1494.9" cy="669.7" r="3.2" fill="#f2b84b" stroke="#8a5a1c" stroke-width="1.0"/>
<circle cx="1494.9" cy="669.7" r="1.2" fill="#fff7e0" stroke="#8a5a1c" stroke-width="0.6"/>
<line x1="1487.6" y1="669.0" x2="1490.4" y2="672.0" stroke="#8a5a1c" stroke-width="2.0"/>
<rect x="1490.8" y="685.1" width="66.5" height="66.3" fill="#c3f3ec"/>
<path d="M1507.4 685.1V751.4M1524.0 685.1V751.4M1540.7 685.1V751.4M1490.8 701.7H1557.3M1490.8 718.2H1557.3M1490.8 734.8H1557.3" fill="none" stroke="#7e9a98" stroke-width="0.9"/>
<rect x="1490.8" y="685.1" width="66.5" height="66.3" fill="none" stroke="#7e9a98" stroke-width="1.5"/>
<line x1="1557.6" y1="708.9" x2="1563.8" y2="708.9" stroke="#5a6068" stroke-width="1.1"/>
<path d="M1568.4 708.9 L1563.8 710.8 L1563.8 707.0Z" fill="#5a6068"/>
<circle cx="1577.2" cy="709.2" r="8.3" fill="#fff" stroke="#7a7f86" stroke-width="1"/>
<text x="1577.2" y="712.6" font-size="11.5" text-anchor="middle" fill="#444">x</text>
<line x1="1585.8" y1="709.2" x2="1591.6" y2="709.2" stroke="#5a6068" stroke-width="1.1"/>
<path d="M1596.2 709.2 L1591.6 711.1 L1591.6 707.3Z" fill="#5a6068"/>
<text x="1622.1" y="705.0" font-size="12.8" text-anchor="middle" fill="#4f545b" textLength="25.1" lengthAdjust="spacingAndGlyphs">Final</text>
<text x="1622.0" y="718.9" font-size="12.8" text-anchor="middle" fill="#4f545b" textLength="54.5" lengthAdjust="spacingAndGlyphs">Attention</text>
<text x="1621.8" y="732.6" font-size="12.8" text-anchor="middle" fill="#4f545b" textLength="37.1" lengthAdjust="spacingAndGlyphs">Scores</text>
</g>
<text x="1723.4" y="449.6" font-size="22" font-weight="bold" textLength="146.5" lengthAdjust="spacingAndGlyphs" stroke="#000" stroke-width="0.55">Offline Phase</text>
<circle cx="1735.4" cy="493.2" r="4.6" fill="#000"/>
<text x="1758.8" y="500.2" font-size="20" textLength="629.0" lengthAdjust="spacingAndGlyphs">For a given model, a PCA transform is computed on the attention keys</text>
<text x="1758.8" y="525.3" font-size="20" textLength="635.6" lengthAdjust="spacingAndGlyphs">generated by running perplexity evaluation on some calibration dataset.</text>
<text x="1723.4" y="574.7" font-size="22" font-weight="bold" textLength="185.2" lengthAdjust="spacingAndGlyphs" stroke="#000" stroke-width="0.55">During Inference</text>
<circle cx="1735.4" cy="618.3" r="4.6" fill="#000"/>
<text x="1758.8" y="625.3" font-size="20" textLength="661.1" lengthAdjust="spacingAndGlyphs">At each decode step, the query and key are projected into the PCA space,</text>
<text x="1758.8" y="650.4" font-size="20" textLength="394.5" lengthAdjust="spacingAndGlyphs">with the KV-cache storing transformed keys.</text>
<circle cx="1735.4" cy="693.2" r="4.6" fill="#000"/>
<text x="1758.8" y="700.2" font-size="20" textLength="687.0" lengthAdjust="spacingAndGlyphs">Approximate scores are computed using a subset of dimensions and are used</text>
<text x="1758.8" y="725.2" font-size="20" textLength="217.7" lengthAdjust="spacingAndGlyphs">to select the Top-K keys.</text>
<circle cx="1735.4" cy="768.0" r="4.6" fill="#000"/>
<text x="1758.8" y="775.0" font-size="20" textLength="658.7" lengthAdjust="spacingAndGlyphs">Selected keys (and corresponding values) are used in full dimensionality to</text>
<text x="1758.8" y="800.1" font-size="20" textLength="311.4" lengthAdjust="spacingAndGlyphs">compute the final attention output.</text>
<text x="1034.5" y="859.9" font-size="22" font-weight="bold" textLength="98.3" lengthAdjust="spacingAndGlyphs" stroke="#000" stroke-width="0.55">Lemma 1</text>
<text x="1034.5" y="885.0" font-size="20" textLength="601.3" lengthAdjust="spacingAndGlyphs">Attention computed in the full PCA space is equivalent to attention</text>
<text x="1034.5" y="909.8" font-size="20" textLength="276.8" lengthAdjust="spacingAndGlyphs">computed in the original space.</text>
<text x="1752.2" y="861.4" font-size="22" font-weight="bold" textLength="101.2" lengthAdjust="spacingAndGlyphs" stroke="#000" stroke-width="0.55">Lemma 2</text>
<text x="1752.2" y="886.5" font-size="20" textLength="638.5" lengthAdjust="spacingAndGlyphs">Attention scores computed in lower-dimensional PCA space are a good</text>
<text x="1752.2" y="911.6" font-size="20" textLength="401.1" lengthAdjust="spacingAndGlyphs">approximation to the actual attention scores.</text>
<text x="1021.9" y="1054.9" font-size="22" font-weight="bold" textLength="219.8" lengthAdjust="spacingAndGlyphs" stroke="#000" stroke-width="0.55">Experimental Setup</text>
<circle cx="1033.1" cy="1098.2" r="4.6" fill="#000"/>
<text x="1056.8" y="1105.2" font-size="20" textLength="184.9" lengthAdjust="spacingAndGlyphs">Perplexity Evaluation</text>
<line x1="1056.8" y1="1107.8" x2="1241.7" y2="1107.8" stroke="#000" stroke-width="1.2"/>
<text x="1247.6" y="1105.2" font-size="20" textLength="223.7" lengthAdjust="spacingAndGlyphs">on WikiText-103 dataset.</text>
<text x="1056.8" y="1130.4" font-size="20" textLength="221.7" lengthAdjust="spacingAndGlyphs">Short-context Evaluation</text>
<line x1="1056.8" y1="1133.0" x2="1278.5" y2="1133.0" stroke="#000" stroke-width="1.2"/>
<text x="1284.6" y="1130.4" font-size="20" textLength="360.9" lengthAdjust="spacingAndGlyphs">on TQA, Hellaswag, Winogrande, MMLU.</text>
<text x="1056.8" y="1155.5" font-size="20" textLength="215.6" lengthAdjust="spacingAndGlyphs">Long-context Evaluation</text>
<line x1="1056.8" y1="1158.1" x2="1272.4" y2="1158.1" stroke="#000" stroke-width="1.2"/>
<text x="1278.4" y="1155.5" font-size="20" textLength="248.8" lengthAdjust="spacingAndGlyphs">on LongBench English Tasks.</text>
<circle cx="1033.1" cy="1198.4" r="4.6" fill="#000"/>
<text x="1056.8" y="1205.4" font-size="20" textLength="524.0" lengthAdjust="spacingAndGlyphs">PCA transform computed on WikiText-103 validation split.</text>
<text x="1021.9" y="1251.5" font-size="22" font-weight="bold" textLength="79.6" lengthAdjust="spacingAndGlyphs" stroke="#000" stroke-width="0.55">Results</text>
<circle cx="1033.1" cy="1294.8" r="4.6" fill="#000"/>
<text x="1056.8" y="1301.8" font-size="20" textLength="570.5" lengthAdjust="spacingAndGlyphs">Loki preserves model quality better than methods like H2O [1].</text>
<circle cx="1033.1" cy="1344.6" r="4.6" fill="#000"/>
<text x="1056.8" y="1351.6" font-size="20" textLength="590.1" lengthAdjust="spacingAndGlyphs">PCA transforms generated using pre-RoPE keys outperform those</text>
<text x="1056.8" y="1376.7" font-size="20" textLength="461.1" lengthAdjust="spacingAndGlyphs">generated with post-RoPE keys in a lot of the cases.</text>
<circle cx="1033.1" cy="1419.6" r="4.6" fill="#000"/>
<text x="1056.8" y="1426.6" font-size="20" textLength="625.0" lengthAdjust="spacingAndGlyphs">Loki demonstrates consistent performance across different calibration</text>
<text x="1056.8" y="1451.7" font-size="20" textLength="418.2" lengthAdjust="spacingAndGlyphs">datasets used to generate the PCA transforms.</text>
<rect x="1026.5" y="1505.3" width="661.8" height="71.7" fill="#fff" stroke="#555" stroke-width="1"/>
<text x="1036.8" y="1524.4" font-size="15.5" fill="#222" style='font-family:"Liberation Serif", serif' font-style="italic">d</text>
<text x="1045.1" y="1528.0" font-size="10.540000000000001" fill="#222" style='font-family:"Liberation Serif", serif' font-style="italic">f</text>
<line x1="1054.5" y1="1519.6" x2="1069.0" y2="1519.6" stroke="#222" stroke-width="1.1"/>
<path d="M1070.0 1519.6 l-6 -3.6 l1.6 3.6 l-1.6 3.6 z" fill="#222"/>
<text x="1080.0" y="1524.4" font-size="14" textLength="409.5" lengthAdjust="spacingAndGlyphs">fraction of dimensionality used to compute approximate scores</text>
<text x="1036.8" y="1546.3" font-size="15.5" fill="#222" style='font-family:"Liberation Serif", serif' font-style="italic">k</text>
<text x="1044.3" y="1549.9" font-size="10.540000000000001" fill="#222" style='font-family:"Liberation Serif", serif' font-style="italic">f</text>
<line x1="1054.0" y1="1541.5" x2="1068.5" y2="1541.5" stroke="#222" stroke-width="1.1"/>
<path d="M1069.5 1541.5 l-6 -3.6 l1.6 3.6 l-1.6 3.6 z" fill="#222"/>
<text x="1079.2" y="1546.3" font-size="14" textLength="200.2" lengthAdjust="spacingAndGlyphs">fraction of keys/values selected</text>
<text x="1036.4" y="1568.2" font-size="15.5" fill="#222" style='font-family:"Liberation Serif", serif' font-style="italic" textLength="61.4" lengthAdjust="spacingAndGlyphs">pre/post</text>
<line x1="1101.8" y1="1563.4" x2="1116.3" y2="1563.4" stroke="#222" stroke-width="1.1"/>
<path d="M1117.3 1563.4 l-6 -3.6 l1.6 3.6 l-1.6 3.6 z" fill="#222"/>
<text x="1127.4" y="1568.2" font-size="14" textLength="551.6" lengthAdjust="spacingAndGlyphs">whether PCA transform was computed on keys before RoPE [2] (pre) or after (post)</text>
<g id="eval-charts">
<rect x="1765.1" y="1049.1" width="636.2" height="20.6" fill="#fff" stroke="#d9d9d9" stroke-width="1" rx="2.5"/>
<rect x="1769.6" y="1054.2" width="23.4" height="8.8" fill="#bf6b2f"/>
<rect x="1769.6" y="1054.2" width="23.4" height="8.8" fill="url(#hBS)"/>
<rect x="1769.6" y="1054.2" width="23.4" height="8.8" fill="none" stroke="#2a2a2a" stroke-width="0.6"/>
<rect x="1887.7" y="1054.2" width="23.4" height="8.8" fill="#3f9672"/>
<rect x="1887.7" y="1054.2" width="23.4" height="8.8" fill="url(#hP)"/>
<rect x="1887.7" y="1054.2" width="23.4" height="8.8" fill="none" stroke="#2a2a2a" stroke-width="0.6"/>
<rect x="2018.8" y="1054.2" width="23.4" height="8.8" fill="#2e6ca8"/>
<rect x="2018.8" y="1054.2" width="23.4" height="8.8" fill="url(#hO)"/>
<rect x="2018.8" y="1054.2" width="23.4" height="8.8" fill="none" stroke="#2a2a2a" stroke-width="0.6"/>
<rect x="2216.9" y="1054.2" width="23.4" height="8.8" fill="#c78cb2"/>
<rect x="2216.9" y="1054.2" width="23.4" height="8.8" fill="url(#hX)"/>
<rect x="2216.9" y="1054.2" width="23.4" height="8.8" fill="none" stroke="#2a2a2a" stroke-width="0.6"/>
<text x="1802.0" y="1062.4" font-size="11.2" fill="#111" textLength="62.7" lengthAdjust="spacingAndGlyphs">Full Attention</text>
<text x="1920.1" y="1062.4" font-size="11.2" fill="#111" textLength="75.7" lengthAdjust="spacingAndGlyphs">H2O (<tspan font-style="italic">k</tspan><tspan font-style="italic" font-size="7.6" dy="2.2">f</tspan><tspan dy="-2.2" dx="1">= 0.25)</tspan></text>
<text x="2051.2" y="1062.4" font-size="11.2" fill="#111" textLength="142.3" lengthAdjust="spacingAndGlyphs">Loki (pre, <tspan font-style="italic">k</tspan><tspan font-style="italic" font-size="7.6" dy="2.2">f</tspan><tspan dy="-2.2" dx="1">= 0.25, </tspan><tspan font-style="italic">d</tspan><tspan font-style="italic" font-size="7.6" dy="2.2">f</tspan><tspan dy="-2.2" dx="1">= 0.25)</tspan></text>
<text x="2249.3" y="1062.4" font-size="11.2" fill="#111" textLength="146.5" lengthAdjust="spacingAndGlyphs">Loki (post, <tspan font-style="italic">k</tspan><tspan font-style="italic" font-size="7.6" dy="2.2">f</tspan><tspan dy="-2.2" dx="1">= 0.25, </tspan><tspan font-style="italic">d</tspan><tspan font-style="italic" font-size="7.6" dy="2.2">f</tspan><tspan dy="-2.2" dx="1">= 0.25)</tspan></text>
<text x="1833.2" y="1100.2" font-size="12.6" fill="#111" textLength="117.5" lengthAdjust="spacingAndGlyphs">Perplexity Evaluation</text>
<line x1="1959.6" y1="1091.6" x2="1959.6" y2="1101.4" stroke="#111" stroke-width="1"/>
<path d="M1957.0 1098.2 L1959.6 1101.4 L1962.2 1098.2" fill="none" stroke="#111" stroke-width="1"/>
<line x1="1739.7" y1="1270.6" x2="2062.4" y2="1270.6" stroke="#c9c9c9" stroke-width="0.8" stroke-dasharray="2.2 1.1"/>
<line x1="1739.7" y1="1242.8" x2="2062.4" y2="1242.8" stroke="#c9c9c9" stroke-width="0.8" stroke-dasharray="2.2 1.1"/>
<line x1="1739.7" y1="1215.1" x2="2062.4" y2="1215.1" stroke="#c9c9c9" stroke-width="0.8" stroke-dasharray="2.2 1.1"/>
<line x1="1739.7" y1="1187.4" x2="2062.4" y2="1187.4" stroke="#c9c9c9" stroke-width="0.8" stroke-dasharray="2.2 1.1"/>
<line x1="1739.7" y1="1159.7" x2="2062.4" y2="1159.7" stroke="#c9c9c9" stroke-width="0.8" stroke-dasharray="2.2 1.1"/>
<line x1="1739.7" y1="1131.9" x2="2062.4" y2="1131.9" stroke="#c9c9c9" stroke-width="0.8" stroke-dasharray="2.2 1.1"/>
<line x1="1739.7" y1="1104.2" x2="2062.4" y2="1104.2" stroke="#c9c9c9" stroke-width="0.8" stroke-dasharray="2.2 1.1"/>
<rect x="1746.1" y="1227.5" width="13.0" height="70.8" fill="#bf6b2f"/>
<rect x="1746.1" y="1227.5" width="13.0" height="70.8" fill="url(#hBS)"/>
<rect x="1746.1" y="1227.5" width="13.0" height="70.8" fill="none" stroke="#2a2a2a" stroke-width="0.7"/>
<text x="1755.2" y="1225.1" font-size="7.3" fill="#111" textLength="10.8" lengthAdjust="spacingAndGlyphs" transform="rotate(-90 1755.2 1225.1)">5.11</text>
<rect x="1759.1" y="1225.1" width="13.0" height="73.2" fill="#3f9672"/>
<rect x="1759.1" y="1225.1" width="13.0" height="73.2" fill="url(#hP)"/>
<rect x="1759.1" y="1225.1" width="13.0" height="73.2" fill="none" stroke="#2a2a2a" stroke-width="0.7"/>
<text x="1768.2" y="1222.7" font-size="7.3" fill="#111" textLength="13.2" lengthAdjust="spacingAndGlyphs" transform="rotate(-90 1768.2 1222.7)">5.28</text>
<rect x="1772.1" y="1225.9" width="13.0" height="72.4" fill="#2e6ca8"/>
<rect x="1772.1" y="1225.9" width="13.0" height="72.4" fill="url(#hO)"/>
<rect x="1772.1" y="1225.9" width="13.0" height="72.4" fill="none" stroke="#2a2a2a" stroke-width="0.7"/>
<text x="1781.2" y="1223.5" font-size="7.3" fill="#111" textLength="13.2" lengthAdjust="spacingAndGlyphs" transform="rotate(-90 1781.2 1223.5)">5.22</text>
<rect x="1785.1" y="1226.2" width="13.0" height="72.1" fill="#c78cb2"/>
<rect x="1785.1" y="1226.2" width="13.0" height="72.1" fill="url(#hX)"/>
<rect x="1785.1" y="1226.2" width="13.0" height="72.1" fill="none" stroke="#2a2a2a" stroke-width="0.7"/>
<text x="1794.2" y="1223.8" font-size="7.3" fill="#111" textLength="13.2" lengthAdjust="spacingAndGlyphs" transform="rotate(-90 1794.2 1223.8)">5.20</text>
<rect x="1810.3" y="1230.2" width="13.0" height="68.1" fill="#bf6b2f"/>
<rect x="1810.3" y="1230.2" width="13.0" height="68.1" fill="url(#hBS)"/>
<rect x="1810.3" y="1230.2" width="13.0" height="68.1" fill="none" stroke="#2a2a2a" stroke-width="0.7"/>
<text x="1819.4" y="1227.8" font-size="7.3" fill="#111" textLength="12.3" lengthAdjust="spacingAndGlyphs" transform="rotate(-90 1819.4 1227.8)">4.91</text>
<rect x="1823.3" y="1227.9" width="13.0" height="70.4" fill="#3f9672"/>
<rect x="1823.3" y="1227.9" width="13.0" height="70.4" fill="url(#hP)"/>
<rect x="1823.3" y="1227.9" width="13.0" height="70.4" fill="none" stroke="#2a2a2a" stroke-width="0.7"/>
<text x="1832.4" y="1225.5" font-size="7.3" fill="#111" textLength="13.2" lengthAdjust="spacingAndGlyphs" transform="rotate(-90 1832.4 1225.5)">5.08</text>
<rect x="1836.3" y="1230.1" width="13.0" height="68.2" fill="#2e6ca8"/>
<rect x="1836.3" y="1230.1" width="13.0" height="68.2" fill="url(#hO)"/>
<rect x="1836.3" y="1230.1" width="13.0" height="68.2" fill="none" stroke="#2a2a2a" stroke-width="0.7"/>
<text x="1845.4" y="1227.7" font-size="7.3" fill="#111" textLength="13.2" lengthAdjust="spacingAndGlyphs" transform="rotate(-90 1845.4 1227.7)">4.92</text>
<rect x="1849.3" y="1207.6" width="13.0" height="90.7" fill="#c78cb2"/>
<rect x="1849.3" y="1207.6" width="13.0" height="90.7" fill="url(#hX)"/>
<rect x="1849.3" y="1207.6" width="13.0" height="90.7" fill="none" stroke="#2a2a2a" stroke-width="0.7"/>
<text x="1858.4" y="1205.2" font-size="7.3" fill="#111" textLength="13.2" lengthAdjust="spacingAndGlyphs" transform="rotate(-90 1858.4 1205.2)">6.54</text>
<rect x="1874.8" y="1221.1" width="13.0" height="77.2" fill="#bf6b2f"/>
<rect x="1874.8" y="1221.1" width="13.0" height="77.2" fill="url(#hBS)"/>
<rect x="1874.8" y="1221.1" width="13.0" height="77.2" fill="none" stroke="#2a2a2a" stroke-width="0.7"/>
<text x="1883.9" y="1218.7" font-size="7.3" fill="#111" textLength="13.2" lengthAdjust="spacingAndGlyphs" transform="rotate(-90 1883.9 1218.7)">5.57</text>
<rect x="1887.8" y="1219.1" width="13.0" height="79.2" fill="#3f9672"/>
<rect x="1887.8" y="1219.1" width="13.0" height="79.2" fill="url(#hP)"/>
<rect x="1887.8" y="1219.1" width="13.0" height="79.2" fill="none" stroke="#2a2a2a" stroke-width="0.7"/>
<text x="1896.9" y="1216.7" font-size="7.3" fill="#111" textLength="12.3" lengthAdjust="spacingAndGlyphs" transform="rotate(-90 1896.9 1216.7)">5.71</text>
<rect x="1900.8" y="1219.8" width="13.0" height="78.5" fill="#2e6ca8"/>
<rect x="1900.8" y="1219.8" width="13.0" height="78.5" fill="url(#hO)"/>
<rect x="1900.8" y="1219.8" width="13.0" height="78.5" fill="none" stroke="#2a2a2a" stroke-width="0.7"/>
<text x="1909.9" y="1217.4" font-size="7.3" fill="#111" textLength="13.2" lengthAdjust="spacingAndGlyphs" transform="rotate(-90 1909.9 1217.4)">5.66</text>
<rect x="1913.8" y="1139.6" width="13.0" height="158.7" fill="#c78cb2"/>
<rect x="1913.8" y="1139.6" width="13.0" height="158.7" fill="url(#hX)"/>
<rect x="1913.8" y="1139.6" width="13.0" height="158.7" fill="none" stroke="#2a2a2a" stroke-width="0.7"/>
<text x="1922.9" y="1137.2" font-size="7.3" fill="#111" textLength="14.6" lengthAdjust="spacingAndGlyphs" transform="rotate(-90 1922.9 1137.2)">11.45</text>
<rect x="1939.2" y="1248.4" width="13.0" height="49.9" fill="#bf6b2f"/>
<rect x="1939.2" y="1248.4" width="13.0" height="49.9" fill="url(#hBS)"/>
<rect x="1939.2" y="1248.4" width="13.0" height="49.9" fill="none" stroke="#2a2a2a" stroke-width="0.7"/>
<text x="1948.3" y="1246.0" font-size="7.3" fill="#111" textLength="13.2" lengthAdjust="spacingAndGlyphs" transform="rotate(-90 1948.3 1246.0)">3.60</text>
<rect x="1952.2" y="1247.1" width="13.0" height="51.2" fill="#3f9672"/>
<rect x="1952.2" y="1247.1" width="13.0" height="51.2" fill="url(#hP)"/>
<rect x="1952.2" y="1247.1" width="13.0" height="51.2" fill="none" stroke="#2a2a2a" stroke-width="0.7"/>
<text x="1961.3" y="1244.7" font-size="7.3" fill="#111" textLength="13.2" lengthAdjust="spacingAndGlyphs" transform="rotate(-90 1961.3 1244.7)">3.69</text>
<rect x="1965.2" y="1247.6" width="13.0" height="50.7" fill="#2e6ca8"/>
<rect x="1965.2" y="1247.6" width="13.0" height="50.7" fill="url(#hO)"/>
<rect x="1965.2" y="1247.6" width="13.0" height="50.7" fill="none" stroke="#2a2a2a" stroke-width="0.7"/>
<text x="1974.3" y="1245.2" font-size="7.3" fill="#111" textLength="13.2" lengthAdjust="spacingAndGlyphs" transform="rotate(-90 1974.3 1245.2)">3.66</text>
<rect x="1978.2" y="1245.8" width="13.0" height="52.5" fill="#c78cb2"/>
<rect x="1978.2" y="1245.8" width="13.0" height="52.5" fill="url(#hX)"/>
<rect x="1978.2" y="1245.8" width="13.0" height="52.5" fill="none" stroke="#2a2a2a" stroke-width="0.7"/>
<text x="1987.3" y="1243.4" font-size="7.3" fill="#111" textLength="13.2" lengthAdjust="spacingAndGlyphs" transform="rotate(-90 1987.3 1243.4)">3.79</text>
<rect x="2003.7" y="1262.7" width="13.0" height="35.6" fill="#bf6b2f"/>
<rect x="2003.7" y="1262.7" width="13.0" height="35.6" fill="url(#hBS)"/>
<rect x="2003.7" y="1262.7" width="13.0" height="35.6" fill="none" stroke="#2a2a2a" stroke-width="0.7"/>
<text x="2012.8" y="1260.3" font-size="7.3" fill="#111" textLength="13.2" lengthAdjust="spacingAndGlyphs" transform="rotate(-90 2012.8 1260.3)">2.57</text>
<rect x="2029.7" y="1262.4" width="13.0" height="35.9" fill="#2e6ca8"/>
<rect x="2029.7" y="1262.4" width="13.0" height="35.9" fill="url(#hO)"/>
<rect x="2029.7" y="1262.4" width="13.0" height="35.9" fill="none" stroke="#2a2a2a" stroke-width="0.7"/>
<text x="2038.8" y="1260.0" font-size="7.3" fill="#111" textLength="13.2" lengthAdjust="spacingAndGlyphs" transform="rotate(-90 2038.8 1260.0)">2.59</text>
<rect x="2042.7" y="1258.6" width="13.0" height="39.7" fill="#c78cb2"/>
<rect x="2042.7" y="1258.6" width="13.0" height="39.7" fill="url(#hX)"/>
<rect x="2042.7" y="1258.6" width="13.0" height="39.7" fill="none" stroke="#2a2a2a" stroke-width="0.7"/>
<text x="2051.8" y="1256.2" font-size="7.3" fill="#111" textLength="13.2" lengthAdjust="spacingAndGlyphs" transform="rotate(-90 2051.8 1256.2)">2.86</text>
<line x1="1739.7" y1="1298.3" x2="2062.4" y2="1298.3" stroke="#b5b5b5" stroke-width="1.5"/>
<line x1="1739.7" y1="1104.2" x2="1739.7" y2="1299.0" stroke="#b5b5b5" stroke-width="1.5"/>
<line x1="1736.1" y1="1298.3" x2="1739.7" y2="1298.3" stroke="#b5b5b5" stroke-width="1"/>
<text x="1734.7" y="1302.3" font-size="11.2" text-anchor="end" fill="#111" textLength="5.9" lengthAdjust="spacingAndGlyphs">0</text>
<line x1="1736.1" y1="1270.6" x2="1739.7" y2="1270.6" stroke="#b5b5b5" stroke-width="1"/>
<text x="1734.7" y="1274.5" font-size="11.2" text-anchor="end" fill="#111" textLength="5.9" lengthAdjust="spacingAndGlyphs">2</text>
<line x1="1736.1" y1="1242.8" x2="1739.7" y2="1242.8" stroke="#b5b5b5" stroke-width="1"/>
<text x="1734.7" y="1246.8" font-size="11.2" text-anchor="end" fill="#111" textLength="5.9" lengthAdjust="spacingAndGlyphs">4</text>
<line x1="1736.1" y1="1215.1" x2="1739.7" y2="1215.1" stroke="#b5b5b5" stroke-width="1"/>
<text x="1734.7" y="1219.1" font-size="11.2" text-anchor="end" fill="#111" textLength="5.9" lengthAdjust="spacingAndGlyphs">6</text>
<line x1="1736.1" y1="1187.4" x2="1739.7" y2="1187.4" stroke="#b5b5b5" stroke-width="1"/>
<text x="1734.7" y="1191.4" font-size="11.2" text-anchor="end" fill="#111" textLength="5.9" lengthAdjust="spacingAndGlyphs">8</text>
<line x1="1736.1" y1="1159.7" x2="1739.7" y2="1159.7" stroke="#b5b5b5" stroke-width="1"/>
<text x="1734.7" y="1163.6" font-size="11.2" text-anchor="end" fill="#111" textLength="10.4" lengthAdjust="spacingAndGlyphs">10</text>
<line x1="1736.1" y1="1131.9" x2="1739.7" y2="1131.9" stroke="#b5b5b5" stroke-width="1"/>
<text x="1734.7" y="1135.9" font-size="11.2" text-anchor="end" fill="#111" textLength="10.4" lengthAdjust="spacingAndGlyphs">12</text>
<line x1="1736.1" y1="1104.2" x2="1739.7" y2="1104.2" stroke="#b5b5b5" stroke-width="1"/>
<text x="1734.7" y="1108.2" font-size="11.2" text-anchor="end" fill="#111" textLength="10.4" lengthAdjust="spacingAndGlyphs">14</text>
<line x1="1772.1" y1="1298.3" x2="1772.1" y2="1302.1" stroke="#b5b5b5" stroke-width="1"/>
<text x="1770.7" y="1309.1" font-size="11" text-anchor="end" fill="#111" textLength="48.7" lengthAdjust="spacingAndGlyphs" transform="rotate(-30 1770.7 1309.1)">Llama2-7B</text>
<line x1="1836.3" y1="1298.3" x2="1836.3" y2="1302.1" stroke="#b5b5b5" stroke-width="1"/>
<text x="1834.9" y="1309.1" font-size="11" text-anchor="end" fill="#111" textLength="45.3" lengthAdjust="spacingAndGlyphs" transform="rotate(-30 1834.9 1309.1)">Mistral-7B</text>
<line x1="1900.8" y1="1298.3" x2="1900.8" y2="1302.1" stroke="#b5b5b5" stroke-width="1"/>
<text x="1899.4" y="1309.1" font-size="11" text-anchor="end" fill="#111" textLength="48.7" lengthAdjust="spacingAndGlyphs" transform="rotate(-30 1899.4 1309.1)">Llama3-8B</text>
<line x1="1965.2" y1="1298.3" x2="1965.2" y2="1302.1" stroke="#b5b5b5" stroke-width="1"/>
<text x="1963.8" y="1309.1" font-size="11" text-anchor="end" fill="#111" textLength="55.9" lengthAdjust="spacingAndGlyphs" transform="rotate(-30 1963.8 1309.1)">Mixtral-8x7B</text>
<line x1="2029.7" y1="1298.3" x2="2029.7" y2="1302.1" stroke="#b5b5b5" stroke-width="1"/>
<text x="2028.3" y="1309.1" font-size="11" text-anchor="end" fill="#111" textLength="54.3" lengthAdjust="spacingAndGlyphs" transform="rotate(-30 2028.3 1309.1)">Llama3-70B</text>
<text x="1719.0" y="1201.2" font-size="11.2" text-anchor="middle" fill="#111" textLength="45.2" lengthAdjust="spacingAndGlyphs" transform="rotate(-90 1719.0 1201.2)">Perplexity</text>
<text x="2191.1" y="1100.2" font-size="12.6" fill="#111" textLength="176.6" lengthAdjust="spacingAndGlyphs">Short-context Tasks Evaluation</text>
<line x1="2376.7" y1="1090.6" x2="2376.7" y2="1100.4" stroke="#111" stroke-width="1"/>
<path d="M2374.1 1093.8 L2376.7 1090.6 L2379.3 1093.8" fill="none" stroke="#111" stroke-width="1"/>
<line x1="2126.9" y1="1259.5" x2="2450.0" y2="1259.5" stroke="#c9c9c9" stroke-width="0.8" stroke-dasharray="2.2 1.1"/>
<line x1="2126.9" y1="1220.7" x2="2450.0" y2="1220.7" stroke="#c9c9c9" stroke-width="0.8" stroke-dasharray="2.2 1.1"/>
<line x1="2126.9" y1="1181.8" x2="2450.0" y2="1181.8" stroke="#c9c9c9" stroke-width="0.8" stroke-dasharray="2.2 1.1"/>
<line x1="2126.9" y1="1143.0" x2="2450.0" y2="1143.0" stroke="#c9c9c9" stroke-width="0.8" stroke-dasharray="2.2 1.1"/>
<line x1="2126.9" y1="1104.2" x2="2450.0" y2="1104.2" stroke="#c9c9c9" stroke-width="0.8" stroke-dasharray="2.2 1.1"/>
<rect x="2133.3" y="1192.6" width="13.0" height="105.7" fill="#bf6b2f"/>
<rect x="2133.3" y="1192.6" width="13.0" height="105.7" fill="url(#hBS)"/>
<rect x="2133.3" y="1192.6" width="13.0" height="105.7" fill="none" stroke="#2a2a2a" stroke-width="0.7"/>
<text x="2142.4" y="1190.2" font-size="7.3" fill="#111" textLength="17.0" lengthAdjust="spacingAndGlyphs" transform="rotate(-90 2142.4 1190.2)">54.44</text>
<rect x="2146.3" y="1218.3" width="13.0" height="80.0" fill="#3f9672"/>
<rect x="2146.3" y="1218.3" width="13.0" height="80.0" fill="url(#hP)"/>
<rect x="2146.3" y="1218.3" width="13.0" height="80.0" fill="none" stroke="#2a2a2a" stroke-width="0.7"/>
<text x="2155.4" y="1215.9" font-size="7.3" fill="#111" textLength="15.1" lengthAdjust="spacingAndGlyphs" transform="rotate(-90 2155.4 1215.9)">41.21</text>
<rect x="2159.3" y="1200.1" width="13.0" height="98.2" fill="#2e6ca8"/>
<rect x="2159.3" y="1200.1" width="13.0" height="98.2" fill="url(#hO)"/>
<rect x="2159.3" y="1200.1" width="13.0" height="98.2" fill="none" stroke="#2a2a2a" stroke-width="0.7"/>
<text x="2168.4" y="1197.7" font-size="7.3" fill="#111" textLength="16.0" lengthAdjust="spacingAndGlyphs" transform="rotate(-90 2168.4 1197.7)">50.61</text>
<rect x="2172.3" y="1203.8" width="13.0" height="94.5" fill="#c78cb2"/>
<rect x="2172.3" y="1203.8" width="13.0" height="94.5" fill="url(#hX)"/>
<rect x="2172.3" y="1203.8" width="13.0" height="94.5" fill="none" stroke="#2a2a2a" stroke-width="0.7"/>
<text x="2181.4" y="1201.4" font-size="7.3" fill="#111" textLength="17.0" lengthAdjust="spacingAndGlyphs" transform="rotate(-90 2181.4 1201.4)">48.69</text>
<rect x="2197.8" y="1177.5" width="13.0" height="120.8" fill="#bf6b2f"/>
<rect x="2197.8" y="1177.5" width="13.0" height="120.8" fill="url(#hBS)"/>
<rect x="2197.8" y="1177.5" width="13.0" height="120.8" fill="none" stroke="#2a2a2a" stroke-width="0.7"/>
<text x="2206.9" y="1175.1" font-size="7.3" fill="#111" textLength="17.0" lengthAdjust="spacingAndGlyphs" transform="rotate(-90 2206.9 1175.1)">62.24</text>
<rect x="2210.8" y="1215.8" width="13.0" height="82.5" fill="#3f9672"/>
<rect x="2210.8" y="1215.8" width="13.0" height="82.5" fill="url(#hP)"/>
<rect x="2210.8" y="1215.8" width="13.0" height="82.5" fill="none" stroke="#2a2a2a" stroke-width="0.7"/>
<text x="2219.9" y="1213.4" font-size="7.3" fill="#111" textLength="17.0" lengthAdjust="spacingAndGlyphs" transform="rotate(-90 2219.9 1213.4)">42.52</text>
<rect x="2223.8" y="1188.4" width="13.0" height="109.9" fill="#2e6ca8"/>
<rect x="2223.8" y="1188.4" width="13.0" height="109.9" fill="url(#hO)"/>
<rect x="2223.8" y="1188.4" width="13.0" height="109.9" fill="none" stroke="#2a2a2a" stroke-width="0.7"/>
<text x="2232.9" y="1186.0" font-size="7.3" fill="#111" textLength="17.0" lengthAdjust="spacingAndGlyphs" transform="rotate(-90 2232.9 1186.0)">56.62</text>
<rect x="2236.8" y="1218.3" width="13.0" height="80.0" fill="#c78cb2"/>
<rect x="2236.8" y="1218.3" width="13.0" height="80.0" fill="url(#hX)"/>
<rect x="2236.8" y="1218.3" width="13.0" height="80.0" fill="none" stroke="#2a2a2a" stroke-width="0.7"/>
<text x="2245.9" y="1215.9" font-size="7.3" fill="#111" textLength="16.0" lengthAdjust="spacingAndGlyphs" transform="rotate(-90 2245.9 1215.9)">41.23</text>
<rect x="2262.3" y="1177.4" width="13.0" height="120.9" fill="#bf6b2f"/>
<rect x="2262.3" y="1177.4" width="13.0" height="120.9" fill="url(#hBS)"/>
<rect x="2262.3" y="1177.4" width="13.0" height="120.9" fill="none" stroke="#2a2a2a" stroke-width="0.7"/>
<text x="2271.4" y="1175.0" font-size="7.3" fill="#111" textLength="17.0" lengthAdjust="spacingAndGlyphs" transform="rotate(-90 2271.4 1175.0)">62.28</text>
<rect x="2275.3" y="1214.8" width="13.0" height="83.5" fill="#3f9672"/>
<rect x="2275.3" y="1214.8" width="13.0" height="83.5" fill="url(#hP)"/>
<rect x="2275.3" y="1214.8" width="13.0" height="83.5" fill="none" stroke="#2a2a2a" stroke-width="0.7"/>
<text x="2284.4" y="1212.4" font-size="7.3" fill="#111" textLength="17.0" lengthAdjust="spacingAndGlyphs" transform="rotate(-90 2284.4 1212.4)">43.00</text>
<rect x="2288.3" y="1205.0" width="13.0" height="93.3" fill="#2e6ca8"/>
<rect x="2288.3" y="1205.0" width="13.0" height="93.3" fill="url(#hO)"/>
<rect x="2288.3" y="1205.0" width="13.0" height="93.3" fill="none" stroke="#2a2a2a" stroke-width="0.7"/>
<text x="2297.4" y="1202.6" font-size="7.3" fill="#111" textLength="17.0" lengthAdjust="spacingAndGlyphs" transform="rotate(-90 2297.4 1202.6)">48.08</text>
<rect x="2301.3" y="1214.9" width="13.0" height="83.4" fill="#c78cb2"/>
<rect x="2301.3" y="1214.9" width="13.0" height="83.4" fill="url(#hX)"/>
<rect x="2301.3" y="1214.9" width="13.0" height="83.4" fill="none" stroke="#2a2a2a" stroke-width="0.7"/>
<text x="2310.4" y="1212.5" font-size="7.3" fill="#111" textLength="17.0" lengthAdjust="spacingAndGlyphs" transform="rotate(-90 2310.4 1212.5)">42.96</text>
<rect x="2326.8" y="1167.7" width="13.0" height="130.6" fill="#bf6b2f"/>
<rect x="2326.8" y="1167.7" width="13.0" height="130.6" fill="url(#hBS)"/>
<rect x="2326.8" y="1167.7" width="13.0" height="130.6" fill="none" stroke="#2a2a2a" stroke-width="0.7"/>
<text x="2335.9" y="1165.3" font-size="7.3" fill="#111" textLength="17.0" lengthAdjust="spacingAndGlyphs" transform="rotate(-90 2335.9 1165.3)">67.30</text>
<rect x="2339.8" y="1211.4" width="13.0" height="86.9" fill="#3f9672"/>
<rect x="2339.8" y="1211.4" width="13.0" height="86.9" fill="url(#hP)"/>
<rect x="2339.8" y="1211.4" width="13.0" height="86.9" fill="none" stroke="#2a2a2a" stroke-width="0.7"/>
<text x="2348.9" y="1209.0" font-size="7.3" fill="#111" textLength="17.0" lengthAdjust="spacingAndGlyphs" transform="rotate(-90 2348.9 1209.0)">44.76</text>
<rect x="2352.8" y="1181.7" width="13.0" height="116.6" fill="#2e6ca8"/>
<rect x="2352.8" y="1181.7" width="13.0" height="116.6" fill="url(#hO)"/>
<rect x="2352.8" y="1181.7" width="13.0" height="116.6" fill="none" stroke="#2a2a2a" stroke-width="0.7"/>
<text x="2361.9" y="1179.3" font-size="7.3" fill="#111" textLength="17.0" lengthAdjust="spacingAndGlyphs" transform="rotate(-90 2361.9 1179.3)">60.05</text>
<rect x="2365.8" y="1202.5" width="13.0" height="95.8" fill="#c78cb2"/>
<rect x="2365.8" y="1202.5" width="13.0" height="95.8" fill="url(#hX)"/>
<rect x="2365.8" y="1202.5" width="13.0" height="95.8" fill="none" stroke="#2a2a2a" stroke-width="0.7"/>
<text x="2374.9" y="1200.1" font-size="7.3" fill="#111" textLength="17.0" lengthAdjust="spacingAndGlyphs" transform="rotate(-90 2374.9 1200.1)">49.37</text>
<rect x="2391.3" y="1162.3" width="13.0" height="136.0" fill="#bf6b2f"/>
<rect x="2391.3" y="1162.3" width="13.0" height="136.0" fill="url(#hBS)"/>
<rect x="2391.3" y="1162.3" width="13.0" height="136.0" fill="none" stroke="#2a2a2a" stroke-width="0.7"/>
<text x="2400.4" y="1159.9" font-size="7.3" fill="#111" textLength="17.0" lengthAdjust="spacingAndGlyphs" transform="rotate(-90 2400.4 1159.9)">70.05</text>
<rect x="2417.3" y="1186.1" width="13.0" height="112.2" fill="#2e6ca8"/>
<rect x="2417.3" y="1186.1" width="13.0" height="112.2" fill="url(#hO)"/>
<rect x="2417.3" y="1186.1" width="13.0" height="112.2" fill="none" stroke="#2a2a2a" stroke-width="0.7"/>
<text x="2426.4" y="1183.7" font-size="7.3" fill="#111" textLength="17.0" lengthAdjust="spacingAndGlyphs" transform="rotate(-90 2426.4 1183.7)">57.83</text>
<rect x="2430.3" y="1210.4" width="13.0" height="87.9" fill="#c78cb2"/>
<rect x="2430.3" y="1210.4" width="13.0" height="87.9" fill="url(#hX)"/>
<rect x="2430.3" y="1210.4" width="13.0" height="87.9" fill="none" stroke="#2a2a2a" stroke-width="0.7"/>
<text x="2439.4" y="1208.0" font-size="7.3" fill="#111" textLength="16.0" lengthAdjust="spacingAndGlyphs" transform="rotate(-90 2439.4 1208.0)">45.31</text>
<line x1="2126.9" y1="1298.3" x2="2450.0" y2="1298.3" stroke="#b5b5b5" stroke-width="1.5"/>
<line x1="2126.9" y1="1104.2" x2="2126.9" y2="1299.0" stroke="#b5b5b5" stroke-width="1.5"/>
<line x1="2123.3" y1="1298.3" x2="2126.9" y2="1298.3" stroke="#b5b5b5" stroke-width="1"/>
<text x="2121.9" y="1302.3" font-size="11.2" text-anchor="end" fill="#111" textLength="5.9" lengthAdjust="spacingAndGlyphs">0</text>
<line x1="2123.3" y1="1259.5" x2="2126.9" y2="1259.5" stroke="#b5b5b5" stroke-width="1"/>
<text x="2121.9" y="1263.5" font-size="11.2" text-anchor="end" fill="#111" textLength="11.8" lengthAdjust="spacingAndGlyphs">20</text>
<line x1="2123.3" y1="1220.7" x2="2126.9" y2="1220.7" stroke="#b5b5b5" stroke-width="1"/>
<text x="2121.9" y="1224.6" font-size="11.2" text-anchor="end" fill="#111" textLength="11.8" lengthAdjust="spacingAndGlyphs">40</text>
<line x1="2123.3" y1="1181.8" x2="2126.9" y2="1181.8" stroke="#b5b5b5" stroke-width="1"/>
<text x="2121.9" y="1185.8" font-size="11.2" text-anchor="end" fill="#111" textLength="11.8" lengthAdjust="spacingAndGlyphs">60</text>
<line x1="2123.3" y1="1143.0" x2="2126.9" y2="1143.0" stroke="#b5b5b5" stroke-width="1"/>
<text x="2121.9" y="1147.0" font-size="11.2" text-anchor="end" fill="#111" textLength="11.8" lengthAdjust="spacingAndGlyphs">80</text>
<line x1="2123.3" y1="1104.2" x2="2126.9" y2="1104.2" stroke="#b5b5b5" stroke-width="1"/>
<text x="2121.9" y="1108.2" font-size="11.2" text-anchor="end" fill="#111" textLength="16.3" lengthAdjust="spacingAndGlyphs">100</text>
<line x1="2159.3" y1="1298.3" x2="2159.3" y2="1302.1" stroke="#b5b5b5" stroke-width="1"/>
<text x="2157.9" y="1309.1" font-size="11" text-anchor="end" fill="#111" textLength="48.7" lengthAdjust="spacingAndGlyphs" transform="rotate(-30 2157.9 1309.1)">Llama2-7B</text>
<line x1="2223.8" y1="1298.3" x2="2223.8" y2="1302.1" stroke="#b5b5b5" stroke-width="1"/>
<text x="2222.4" y="1309.1" font-size="11" text-anchor="end" fill="#111" textLength="45.3" lengthAdjust="spacingAndGlyphs" transform="rotate(-30 2222.4 1309.1)">Mistral-7B</text>
<line x1="2288.3" y1="1298.3" x2="2288.3" y2="1302.1" stroke="#b5b5b5" stroke-width="1"/>
<text x="2286.9" y="1309.1" font-size="11" text-anchor="end" fill="#111" textLength="48.7" lengthAdjust="spacingAndGlyphs" transform="rotate(-30 2286.9 1309.1)">Llama3-8B</text>
<line x1="2352.8" y1="1298.3" x2="2352.8" y2="1302.1" stroke="#b5b5b5" stroke-width="1"/>
<text x="2351.4" y="1309.1" font-size="11" text-anchor="end" fill="#111" textLength="55.9" lengthAdjust="spacingAndGlyphs" transform="rotate(-30 2351.4 1309.1)">Mixtral-8x7B</text>
<line x1="2417.3" y1="1298.3" x2="2417.3" y2="1302.1" stroke="#b5b5b5" stroke-width="1"/>
<text x="2415.9" y="1309.1" font-size="11" text-anchor="end" fill="#111" textLength="54.3" lengthAdjust="spacingAndGlyphs" transform="rotate(-30 2415.9 1309.1)">Llama3-70B</text>
<text x="2100.6" y="1201.2" font-size="11.2" text-anchor="middle" fill="#111" textLength="106.7" lengthAdjust="spacingAndGlyphs" transform="rotate(-90 2100.6 1201.2)">Average Task Accuracy</text>
<text x="1738.5" y="1365.7" font-size="12.6" fill="#111" textLength="296.7" lengthAdjust="spacingAndGlyphs">LongBench English Tasks Evaluation (Llama2-7B-Chat)</text>
<line x1="2043.0" y1="1356.2" x2="2043.0" y2="1366.0" stroke="#111" stroke-width="1"/>
<path d="M2040.4 1359.4 L2043.0 1356.2 L2045.6 1359.4" fill="none" stroke="#111" stroke-width="1"/>
<line x1="1742.4" y1="1526.4" x2="2048.2" y2="1526.4" stroke="#c9c9c9" stroke-width="0.8" stroke-dasharray="2.2 1.1"/>
<line x1="1742.4" y1="1489.7" x2="2048.2" y2="1489.7" stroke="#c9c9c9" stroke-width="0.8" stroke-dasharray="2.2 1.1"/>
<line x1="1742.4" y1="1452.9" x2="2048.2" y2="1452.9" stroke="#c9c9c9" stroke-width="0.8" stroke-dasharray="2.2 1.1"/>
<line x1="1742.4" y1="1416.2" x2="2048.2" y2="1416.2" stroke="#c9c9c9" stroke-width="0.8" stroke-dasharray="2.2 1.1"/>
<line x1="1742.4" y1="1379.4" x2="2048.2" y2="1379.4" stroke="#c9c9c9" stroke-width="0.8" stroke-dasharray="2.2 1.1"/>
<rect x="1746.8" y="1515.5" width="13.6" height="47.7" fill="#bf6b2f"/>
<rect x="1746.8" y="1515.5" width="13.6" height="47.7" fill="url(#hBS)"/>
<rect x="1746.8" y="1515.5" width="13.6" height="47.7" fill="none" stroke="#2a2a2a" stroke-width="0.7"/>
<text x="1756.0" y="1513.1" font-size="6.6" fill="#111" textLength="15.4" lengthAdjust="spacingAndGlyphs" transform="rotate(-90 1756.0 1513.1)">25.96</text>
<rect x="1760.4" y="1519.5" width="13.6" height="43.7" fill="#2e6ca8"/>
<rect x="1760.4" y="1519.5" width="13.6" height="43.7" fill="url(#hX)"/>
<rect x="1760.4" y="1519.5" width="13.6" height="43.7" fill="none" stroke="#2a2a2a" stroke-width="0.7"/>
<text x="1769.6" y="1517.1" font-size="6.6" fill="#111" textLength="15.4" lengthAdjust="spacingAndGlyphs" transform="rotate(-90 1769.6 1517.1)">23.75</text>
<rect x="1774.0" y="1518.0" width="13.6" height="45.2" fill="#c78cb2"/>
<rect x="1774.0" y="1518.0" width="13.6" height="45.2" fill="url(#hO)"/>
<rect x="1774.0" y="1518.0" width="13.6" height="45.2" fill="none" stroke="#2a2a2a" stroke-width="0.7"/>
<text x="1783.2" y="1515.6" font-size="6.6" fill="#111" textLength="15.4" lengthAdjust="spacingAndGlyphs" transform="rotate(-90 1783.2 1515.6)">24.57</text>
<rect x="1798.0" y="1521.8" width="13.6" height="41.4" fill="#bf6b2f"/>
<rect x="1798.0" y="1521.8" width="13.6" height="41.4" fill="url(#hBS)"/>
<rect x="1798.0" y="1521.8" width="13.6" height="41.4" fill="none" stroke="#2a2a2a" stroke-width="0.7"/>
<text x="1807.2" y="1519.4" font-size="6.6" fill="#111" textLength="15.4" lengthAdjust="spacingAndGlyphs" transform="rotate(-90 1807.2 1519.4)">22.52</text>
<rect x="1811.6" y="1527.2" width="13.6" height="36.0" fill="#2e6ca8"/>
<rect x="1811.6" y="1527.2" width="13.6" height="36.0" fill="url(#hX)"/>
<rect x="1811.6" y="1527.2" width="13.6" height="36.0" fill="none" stroke="#2a2a2a" stroke-width="0.7"/>
<text x="1820.8" y="1524.8" font-size="6.6" fill="#111" textLength="14.5" lengthAdjust="spacingAndGlyphs" transform="rotate(-90 1820.8 1524.8)">19.58</text>
<rect x="1825.2" y="1530.0" width="13.6" height="33.2" fill="#c78cb2"/>
<rect x="1825.2" y="1530.0" width="13.6" height="33.2" fill="url(#hO)"/>
<rect x="1825.2" y="1530.0" width="13.6" height="33.2" fill="none" stroke="#2a2a2a" stroke-width="0.7"/>
<text x="1834.4" y="1527.6" font-size="6.6" fill="#111" textLength="14.5" lengthAdjust="spacingAndGlyphs" transform="rotate(-90 1834.4 1527.6)">18.09</text>
<rect x="1848.9" y="1517.9" width="13.6" height="45.3" fill="#bf6b2f"/>
<rect x="1848.9" y="1517.9" width="13.6" height="45.3" fill="url(#hBS)"/>
<rect x="1848.9" y="1517.9" width="13.6" height="45.3" fill="none" stroke="#2a2a2a" stroke-width="0.7"/>
<text x="1858.1" y="1515.5" font-size="6.6" fill="#111" textLength="15.4" lengthAdjust="spacingAndGlyphs" transform="rotate(-90 1858.1 1515.5)">24.66</text>
<rect x="1862.5" y="1519.5" width="13.6" height="43.7" fill="#2e6ca8"/>
<rect x="1862.5" y="1519.5" width="13.6" height="43.7" fill="url(#hX)"/>
<rect x="1862.5" y="1519.5" width="13.6" height="43.7" fill="none" stroke="#2a2a2a" stroke-width="0.7"/>
<text x="1871.7" y="1517.1" font-size="6.6" fill="#111" textLength="15.4" lengthAdjust="spacingAndGlyphs" transform="rotate(-90 1871.7 1517.1)">23.75</text>
<rect x="1876.1" y="1518.4" width="13.6" height="44.8" fill="#c78cb2"/>
<rect x="1876.1" y="1518.4" width="13.6" height="44.8" fill="url(#hO)"/>
<rect x="1876.1" y="1518.4" width="13.6" height="44.8" fill="none" stroke="#2a2a2a" stroke-width="0.7"/>
<text x="1885.3" y="1516.0" font-size="6.6" fill="#111" textLength="15.4" lengthAdjust="spacingAndGlyphs" transform="rotate(-90 1885.3 1516.0)">24.37</text>
<rect x="1900.0" y="1447.8" width="13.6" height="115.4" fill="#bf6b2f"/>
<rect x="1900.0" y="1447.8" width="13.6" height="115.4" fill="url(#hBS)"/>
<rect x="1900.0" y="1447.8" width="13.6" height="115.4" fill="none" stroke="#2a2a2a" stroke-width="0.7"/>
<text x="1909.2" y="1445.4" font-size="6.6" fill="#111" textLength="15.4" lengthAdjust="spacingAndGlyphs" transform="rotate(-90 1909.2 1445.4)">62.78</text>
<rect x="1913.6" y="1448.3" width="13.6" height="114.9" fill="#2e6ca8"/>
<rect x="1913.6" y="1448.3" width="13.6" height="114.9" fill="url(#hX)"/>
<rect x="1913.6" y="1448.3" width="13.6" height="114.9" fill="none" stroke="#2a2a2a" stroke-width="0.7"/>
<text x="1922.8" y="1445.9" font-size="6.6" fill="#111" textLength="15.4" lengthAdjust="spacingAndGlyphs" transform="rotate(-90 1922.8 1445.9)">62.53</text>
<rect x="1927.2" y="1446.6" width="13.6" height="116.6" fill="#c78cb2"/>
<rect x="1927.2" y="1446.6" width="13.6" height="116.6" fill="url(#hO)"/>
<rect x="1927.2" y="1446.6" width="13.6" height="116.6" fill="none" stroke="#2a2a2a" stroke-width="0.7"/>
<text x="1936.4" y="1444.2" font-size="6.6" fill="#111" textLength="15.4" lengthAdjust="spacingAndGlyphs" transform="rotate(-90 1936.4 1444.2)">63.43</text>
<rect x="1951.2" y="1553.7" width="13.6" height="9.5" fill="#bf6b2f"/>
<rect x="1951.2" y="1553.7" width="13.6" height="9.5" fill="url(#hBS)"/>
<rect x="1951.2" y="1553.7" width="13.6" height="9.5" fill="none" stroke="#2a2a2a" stroke-width="0.7"/>
<text x="1960.4" y="1551.3" font-size="6.6" fill="#111" textLength="11.1" lengthAdjust="spacingAndGlyphs" transform="rotate(-90 1960.4 1551.3)">5.17</text>
<rect x="1964.8" y="1553.8" width="13.6" height="9.4" fill="#2e6ca8"/>
<rect x="1964.8" y="1553.8" width="13.6" height="9.4" fill="url(#hX)"/>
<rect x="1964.8" y="1553.8" width="13.6" height="9.4" fill="none" stroke="#2a2a2a" stroke-width="0.7"/>
<text x="1974.0" y="1551.4" font-size="6.6" fill="#111" textLength="11.9" lengthAdjust="spacingAndGlyphs" transform="rotate(-90 1974.0 1551.4)">5.09</text>
<rect x="1978.4" y="1554.5" width="13.6" height="8.7" fill="#c78cb2"/>
<rect x="1978.4" y="1554.5" width="13.6" height="8.7" fill="url(#hO)"/>
<rect x="1978.4" y="1554.5" width="13.6" height="8.7" fill="none" stroke="#2a2a2a" stroke-width="0.7"/>
<text x="1987.6" y="1552.1" font-size="6.6" fill="#111" textLength="11.9" lengthAdjust="spacingAndGlyphs" transform="rotate(-90 1987.6 1552.1)">4.75</text>
<rect x="2002.1" y="1461.9" width="13.6" height="101.3" fill="#bf6b2f"/>
<rect x="2002.1" y="1461.9" width="13.6" height="101.3" fill="url(#hBS)"/>
<rect x="2002.1" y="1461.9" width="13.6" height="101.3" fill="none" stroke="#2a2a2a" stroke-width="0.7"/>
<text x="2011.3" y="1459.5" font-size="6.6" fill="#111" textLength="14.5" lengthAdjust="spacingAndGlyphs" transform="rotate(-90 2011.3 1459.5)">55.14</text>
<rect x="2015.7" y="1469.6" width="13.6" height="93.6" fill="#2e6ca8"/>
<rect x="2015.7" y="1469.6" width="13.6" height="93.6" fill="url(#hX)"/>
<rect x="2015.7" y="1469.6" width="13.6" height="93.6" fill="none" stroke="#2a2a2a" stroke-width="0.7"/>
<text x="2024.9" y="1467.2" font-size="6.6" fill="#111" textLength="15.4" lengthAdjust="spacingAndGlyphs" transform="rotate(-90 2024.9 1467.2)">50.95</text>
<rect x="2029.3" y="1459.4" width="13.6" height="103.8" fill="#c78cb2"/>
<rect x="2029.3" y="1459.4" width="13.6" height="103.8" fill="url(#hO)"/>
<rect x="2029.3" y="1459.4" width="13.6" height="103.8" fill="none" stroke="#2a2a2a" stroke-width="0.7"/>
<text x="2038.5" y="1457.0" font-size="6.6" fill="#111" textLength="15.4" lengthAdjust="spacingAndGlyphs" transform="rotate(-90 2038.5 1457.0)">56.49</text>
<line x1="1742.4" y1="1563.2" x2="2048.2" y2="1563.2" stroke="#b5b5b5" stroke-width="1.5"/>
<line x1="1742.4" y1="1379.4" x2="1742.4" y2="1563.9" stroke="#b5b5b5" stroke-width="1.5"/>
<line x1="1738.8" y1="1563.2" x2="1742.4" y2="1563.2" stroke="#b5b5b5" stroke-width="1"/>
<text x="1737.4" y="1568.0" font-size="13.4" text-anchor="end" fill="#111" textLength="7.1" lengthAdjust="spacingAndGlyphs">0</text>
<line x1="1738.8" y1="1526.4" x2="1742.4" y2="1526.4" stroke="#b5b5b5" stroke-width="1"/>
<text x="1737.4" y="1531.2" font-size="13.4" text-anchor="end" fill="#111" textLength="14.2" lengthAdjust="spacingAndGlyphs">20</text>
<line x1="1738.8" y1="1489.7" x2="1742.4" y2="1489.7" stroke="#b5b5b5" stroke-width="1"/>
<text x="1737.4" y="1494.4" font-size="13.4" text-anchor="end" fill="#111" textLength="14.2" lengthAdjust="spacingAndGlyphs">40</text>
<line x1="1738.8" y1="1452.9" x2="1742.4" y2="1452.9" stroke="#b5b5b5" stroke-width="1"/>
<text x="1737.4" y="1457.7" font-size="13.4" text-anchor="end" fill="#111" textLength="14.2" lengthAdjust="spacingAndGlyphs">60</text>
<line x1="1738.8" y1="1416.2" x2="1742.4" y2="1416.2" stroke="#b5b5b5" stroke-width="1"/>
<text x="1737.4" y="1420.9" font-size="13.4" text-anchor="end" fill="#111" textLength="14.2" lengthAdjust="spacingAndGlyphs">80</text>
<line x1="1738.8" y1="1379.4" x2="1742.4" y2="1379.4" stroke="#b5b5b5" stroke-width="1"/>
<text x="1737.4" y="1384.2" font-size="13.4" text-anchor="end" fill="#111" textLength="19.5" lengthAdjust="spacingAndGlyphs">100</text>
<line x1="1767.2" y1="1563.2" x2="1767.2" y2="1567.0" stroke="#b5b5b5" stroke-width="1"/>
<text x="1765.8" y="1574.6" font-size="11.6" text-anchor="end" fill="#111" textLength="70.2" lengthAdjust="spacingAndGlyphs" transform="rotate(-30 1765.8 1574.6)">Single-Doc QA</text>
<line x1="1818.4" y1="1563.2" x2="1818.4" y2="1567.0" stroke="#b5b5b5" stroke-width="1"/>
<text x="1817.0" y="1574.6" font-size="11.6" text-anchor="end" fill="#111" textLength="63.1" lengthAdjust="spacingAndGlyphs" transform="rotate(-30 1817.0 1574.6)">Multi-Doc QA</text>
<line x1="1869.3" y1="1563.2" x2="1869.3" y2="1567.0" stroke="#b5b5b5" stroke-width="1"/>
<text x="1867.9" y="1574.6" font-size="11.6" text-anchor="end" fill="#111" textLength="70.8" lengthAdjust="spacingAndGlyphs" transform="rotate(-30 1867.9 1574.6)">Summarization</text>
<line x1="1920.4" y1="1563.2" x2="1920.4" y2="1567.0" stroke="#b5b5b5" stroke-width="1"/>
<text x="1919.0" y="1574.6" font-size="11.6" text-anchor="end" fill="#111" textLength="89.1" lengthAdjust="spacingAndGlyphs" transform="rotate(-30 1919.0 1574.6)">Few Shot Learning</text>
<line x1="1971.6" y1="1563.2" x2="1971.6" y2="1567.0" stroke="#b5b5b5" stroke-width="1"/>
<text x="1970.2" y="1574.6" font-size="11.6" text-anchor="end" fill="#111" textLength="43.7" lengthAdjust="spacingAndGlyphs" transform="rotate(-30 1970.2 1574.6)">Synthetic</text>
<line x1="2022.5" y1="1563.2" x2="2022.5" y2="1567.0" stroke="#b5b5b5" stroke-width="1"/>
<text x="2021.1" y="1574.6" font-size="11.6" text-anchor="end" fill="#111" textLength="82.0" lengthAdjust="spacingAndGlyphs" transform="rotate(-30 2021.1 1574.6)">Code Completion</text>
<text x="1714.4" y="1471.3" font-size="13.2" text-anchor="middle" fill="#111" textLength="125.8" lengthAdjust="spacingAndGlyphs" transform="rotate(-90 1714.4 1471.3)">Average Task Accuracy</text>
<rect x="1746.3" y="1383.3" width="146.0" height="42.1" fill="#ffffffd9" stroke="#dedede" stroke-width="1" rx="2.5"/>
<rect x="1749.6" y="1387.4" width="18.2" height="6.6" fill="#bf6b2f"/>
<rect x="1749.6" y="1387.4" width="18.2" height="6.6" fill="url(#hBS)"/>
<rect x="1749.6" y="1387.4" width="18.2" height="6.6" fill="none" stroke="#2a2a2a" stroke-width="0.6"/>
<rect x="1749.6" y="1400.4" width="18.2" height="6.6" fill="#2e6ca8"/>
<rect x="1749.6" y="1400.4" width="18.2" height="6.6" fill="url(#hX)"/>
<rect x="1749.6" y="1400.4" width="18.2" height="6.6" fill="none" stroke="#2a2a2a" stroke-width="0.6"/>
<rect x="1749.6" y="1413.4" width="18.2" height="6.6" fill="#c78cb2"/>
<rect x="1749.6" y="1413.4" width="18.2" height="6.6" fill="url(#hO)"/>
<rect x="1749.6" y="1413.4" width="18.2" height="6.6" fill="none" stroke="#2a2a2a" stroke-width="0.6"/>
<text x="1774.4" y="1393.8" font-size="8.6" fill="#111" textLength="48.6" lengthAdjust="spacingAndGlyphs">Full Attention</text>
<text x="1774.4" y="1406.8" font-size="8.6" fill="#111" textLength="110.0" lengthAdjust="spacingAndGlyphs">Loki (pre, <tspan font-style="italic">k</tspan><tspan font-style="italic" font-size="5.8" dy="1.7">f</tspan><tspan dy="-1.7" dx="1">= 0.25, </tspan><tspan font-style="italic">d</tspan><tspan font-style="italic" font-size="5.8" dy="1.7">f</tspan><tspan dy="-1.7" dx="1">= 0.25)</tspan></text>
<text x="1774.4" y="1420.0" font-size="8.6" fill="#111" textLength="113.6" lengthAdjust="spacingAndGlyphs">Loki (post, <tspan font-style="italic">k</tspan><tspan font-style="italic" font-size="5.8" dy="1.7">f</tspan><tspan dy="-1.7" dx="1">= 0.25, </tspan><tspan font-style="italic">d</tspan><tspan font-style="italic" font-size="5.8" dy="1.7">f</tspan><tspan dy="-1.7" dx="1">= 0.25)</tspan></text>
<text x="2136.3" y="1367.3" font-size="12.6" fill="#111" textLength="259.2" lengthAdjust="spacingAndGlyphs">Loki Generalization over Calibration Datasets</text>
<line x1="2103.6" y1="1537.5" x2="2234.4" y2="1537.5" stroke="#c9c9c9" stroke-width="0.8" stroke-dasharray="2.2 1.1"/>
<line x1="2103.6" y1="1511.1" x2="2234.4" y2="1511.1" stroke="#c9c9c9" stroke-width="0.8" stroke-dasharray="2.2 1.1"/>
<line x1="2103.6" y1="1484.8" x2="2234.4" y2="1484.8" stroke="#c9c9c9" stroke-width="0.8" stroke-dasharray="2.2 1.1"/>
<line x1="2103.6" y1="1458.4" x2="2234.4" y2="1458.4" stroke="#c9c9c9" stroke-width="0.8" stroke-dasharray="2.2 1.1"/>
<line x1="2103.6" y1="1432.1" x2="2234.4" y2="1432.1" stroke="#c9c9c9" stroke-width="0.8" stroke-dasharray="2.2 1.1"/>
<line x1="2103.6" y1="1405.7" x2="2234.4" y2="1405.7" stroke="#c9c9c9" stroke-width="0.8" stroke-dasharray="2.2 1.1"/>
<line x1="2103.6" y1="1379.4" x2="2234.4" y2="1379.4" stroke="#c9c9c9" stroke-width="0.8" stroke-dasharray="2.2 1.1"/>
<rect x="2108.3" y="1426.8" width="11.6" height="137.0" fill="#bf6b2f"/>
<rect x="2108.3" y="1426.8" width="11.6" height="137.0" fill="url(#hBS)"/>
<rect x="2108.3" y="1426.8" width="11.6" height="137.0" fill="none" stroke="#2a2a2a" stroke-width="0.7"/>
<text x="2118.3" y="1424.4" font-size="11.6" fill="#111" textLength="18.1" lengthAdjust="spacingAndGlyphs" transform="rotate(-90 2118.3 1424.4)">5.20</text>
<rect x="2119.9" y="1426.8" width="11.6" height="137.0" fill="#3f9672"/>
<rect x="2119.9" y="1426.8" width="11.6" height="137.0" fill="url(#hX)"/>
<rect x="2119.9" y="1426.8" width="11.6" height="137.0" fill="none" stroke="#2a2a2a" stroke-width="0.7"/>
<text x="2129.9" y="1424.4" font-size="11.6" fill="#111" textLength="18.1" lengthAdjust="spacingAndGlyphs" transform="rotate(-90 2129.9 1424.4)">5.20</text>
<rect x="2131.5" y="1426.8" width="11.6" height="137.0" fill="#2e6ca8"/>
<rect x="2131.5" y="1426.8" width="11.6" height="137.0" fill="url(#hO)"/>
<rect x="2131.5" y="1426.8" width="11.6" height="137.0" fill="none" stroke="#2a2a2a" stroke-width="0.7"/>
<text x="2141.5" y="1424.4" font-size="11.6" fill="#111" textLength="18.1" lengthAdjust="spacingAndGlyphs" transform="rotate(-90 2141.5 1424.4)">5.20</text>
<rect x="2151.9" y="1434.2" width="11.6" height="129.6" fill="#bf6b2f"/>
<rect x="2151.9" y="1434.2" width="11.6" height="129.6" fill="url(#hBS)"/>
<rect x="2151.9" y="1434.2" width="11.6" height="129.6" fill="none" stroke="#2a2a2a" stroke-width="0.7"/>
<text x="2161.9" y="1431.8" font-size="11.6" fill="#111" textLength="18.1" lengthAdjust="spacingAndGlyphs" transform="rotate(-90 2161.9 1431.8)">4.92</text>
<rect x="2163.5" y="1434.2" width="11.6" height="129.6" fill="#3f9672"/>
<rect x="2163.5" y="1434.2" width="11.6" height="129.6" fill="url(#hX)"/>
<rect x="2163.5" y="1434.2" width="11.6" height="129.6" fill="none" stroke="#2a2a2a" stroke-width="0.7"/>
<text x="2173.5" y="1431.8" font-size="11.6" fill="#111" textLength="18.1" lengthAdjust="spacingAndGlyphs" transform="rotate(-90 2173.5 1431.8)">4.92</text>
<rect x="2175.1" y="1434.2" width="11.6" height="129.6" fill="#2e6ca8"/>
<rect x="2175.1" y="1434.2" width="11.6" height="129.6" fill="url(#hO)"/>
<rect x="2175.1" y="1434.2" width="11.6" height="129.6" fill="none" stroke="#2a2a2a" stroke-width="0.7"/>
<text x="2185.1" y="1431.8" font-size="11.6" fill="#111" textLength="18.1" lengthAdjust="spacingAndGlyphs" transform="rotate(-90 2185.1 1431.8)">4.92</text>
<rect x="2195.5" y="1414.2" width="11.6" height="149.6" fill="#bf6b2f"/>
<rect x="2195.5" y="1414.2" width="11.6" height="149.6" fill="url(#hBS)"/>
<rect x="2195.5" y="1414.2" width="11.6" height="149.6" fill="none" stroke="#2a2a2a" stroke-width="0.7"/>
<text x="2205.5" y="1411.8" font-size="11.6" fill="#111" textLength="18.1" lengthAdjust="spacingAndGlyphs" transform="rotate(-90 2205.5 1411.8)">5.68</text>
<rect x="2207.1" y="1414.7" width="11.6" height="149.1" fill="#3f9672"/>
<rect x="2207.1" y="1414.7" width="11.6" height="149.1" fill="url(#hX)"/>
<rect x="2207.1" y="1414.7" width="11.6" height="149.1" fill="none" stroke="#2a2a2a" stroke-width="0.7"/>
<text x="2217.1" y="1412.3" font-size="11.6" fill="#111" textLength="18.1" lengthAdjust="spacingAndGlyphs" transform="rotate(-90 2217.1 1412.3)">5.66</text>
<rect x="2218.7" y="1414.7" width="11.6" height="149.1" fill="#2e6ca8"/>
<rect x="2218.7" y="1414.7" width="11.6" height="149.1" fill="url(#hO)"/>
<rect x="2218.7" y="1414.7" width="11.6" height="149.1" fill="none" stroke="#2a2a2a" stroke-width="0.7"/>
<text x="2228.7" y="1412.3" font-size="11.6" fill="#111" textLength="18.1" lengthAdjust="spacingAndGlyphs" transform="rotate(-90 2228.7 1412.3)">5.66</text>
<line x1="2103.6" y1="1563.8" x2="2234.4" y2="1563.8" stroke="#b5b5b5" stroke-width="1.5"/>
<line x1="2103.6" y1="1379.4" x2="2103.6" y2="1564.5" stroke="#b5b5b5" stroke-width="1.5"/>
<line x1="2100.0" y1="1563.8" x2="2103.6" y2="1563.8" stroke="#b5b5b5" stroke-width="1"/>
<text x="2098.6" y="1568.2" font-size="12.4" text-anchor="end" fill="#111" textLength="6.6" lengthAdjust="spacingAndGlyphs">0</text>
<line x1="2100.0" y1="1537.5" x2="2103.6" y2="1537.5" stroke="#b5b5b5" stroke-width="1"/>
<text x="2098.6" y="1541.9" font-size="12.4" text-anchor="end" fill="#111" textLength="4.9" lengthAdjust="spacingAndGlyphs">1</text>
<line x1="2100.0" y1="1511.1" x2="2103.6" y2="1511.1" stroke="#b5b5b5" stroke-width="1"/>
<text x="2098.6" y="1515.5" font-size="12.4" text-anchor="end" fill="#111" textLength="6.6" lengthAdjust="spacingAndGlyphs">2</text>
<line x1="2100.0" y1="1484.8" x2="2103.6" y2="1484.8" stroke="#b5b5b5" stroke-width="1"/>
<text x="2098.6" y="1489.2" font-size="12.4" text-anchor="end" fill="#111" textLength="6.6" lengthAdjust="spacingAndGlyphs">3</text>
<line x1="2100.0" y1="1458.4" x2="2103.6" y2="1458.4" stroke="#b5b5b5" stroke-width="1"/>
<text x="2098.6" y="1462.8" font-size="12.4" text-anchor="end" fill="#111" textLength="6.6" lengthAdjust="spacingAndGlyphs">4</text>
<line x1="2100.0" y1="1432.1" x2="2103.6" y2="1432.1" stroke="#b5b5b5" stroke-width="1"/>
<text x="2098.6" y="1436.5" font-size="12.4" text-anchor="end" fill="#111" textLength="6.6" lengthAdjust="spacingAndGlyphs">5</text>
<line x1="2100.0" y1="1405.7" x2="2103.6" y2="1405.7" stroke="#b5b5b5" stroke-width="1"/>
<text x="2098.6" y="1410.1" font-size="12.4" text-anchor="end" fill="#111" textLength="6.6" lengthAdjust="spacingAndGlyphs">6</text>
<line x1="2100.0" y1="1379.4" x2="2103.6" y2="1379.4" stroke="#b5b5b5" stroke-width="1"/>
<text x="2098.6" y="1383.8" font-size="12.4" text-anchor="end" fill="#111" textLength="6.6" lengthAdjust="spacingAndGlyphs">7</text>
<line x1="2125.7" y1="1563.8" x2="2125.7" y2="1567.6" stroke="#b5b5b5" stroke-width="1"/>
<text x="2124.3" y="1574.6" font-size="11" text-anchor="end" fill="#111" textLength="48.7" lengthAdjust="spacingAndGlyphs" transform="rotate(-30 2124.3 1574.6)">Llama2-7B</text>
<line x1="2169.3" y1="1563.8" x2="2169.3" y2="1567.6" stroke="#b5b5b5" stroke-width="1"/>
<text x="2167.9" y="1574.6" font-size="11" text-anchor="end" fill="#111" textLength="45.3" lengthAdjust="spacingAndGlyphs" transform="rotate(-30 2167.9 1574.6)">Mistral-7B</text>
<line x1="2212.9" y1="1563.8" x2="2212.9" y2="1567.6" stroke="#b5b5b5" stroke-width="1"/>
<text x="2211.5" y="1574.6" font-size="11" text-anchor="end" fill="#111" textLength="48.7" lengthAdjust="spacingAndGlyphs" transform="rotate(-30 2211.5 1574.6)">Llama3-8B</text>
<text x="2089.6" y="1471.6" font-size="13.2" text-anchor="middle" fill="#111" textLength="53.3" lengthAdjust="spacingAndGlyphs" transform="rotate(-90 2089.6 1471.6)">Perplexity</text>
<line x1="2304.7" y1="1526.9" x2="2457.9" y2="1526.9" stroke="#c9c9c9" stroke-width="0.8" stroke-dasharray="2.2 1.1"/>
<line x1="2304.7" y1="1490.0" x2="2457.9" y2="1490.0" stroke="#c9c9c9" stroke-width="0.8" stroke-dasharray="2.2 1.1"/>
<line x1="2304.7" y1="1453.2" x2="2457.9" y2="1453.2" stroke="#c9c9c9" stroke-width="0.8" stroke-dasharray="2.2 1.1"/>
<line x1="2304.7" y1="1416.3" x2="2457.9" y2="1416.3" stroke="#c9c9c9" stroke-width="0.8" stroke-dasharray="2.2 1.1"/>
<line x1="2304.7" y1="1379.4" x2="2457.9" y2="1379.4" stroke="#c9c9c9" stroke-width="0.8" stroke-dasharray="2.2 1.1"/>
<rect x="2309.4" y="1488.5" width="13.6" height="75.3" fill="#bf6b2f"/>
<rect x="2309.4" y="1488.5" width="13.6" height="75.3" fill="url(#hBS)"/>
<rect x="2309.4" y="1488.5" width="13.6" height="75.3" fill="none" stroke="#2a2a2a" stroke-width="0.7"/>
<text x="2320.4" y="1486.1" font-size="11.6" fill="#111" textLength="23.2" lengthAdjust="spacingAndGlyphs" transform="rotate(-90 2320.4 1486.1)">40.85</text>
<rect x="2323.0" y="1485.7" width="13.6" height="78.1" fill="#3f9672"/>
<rect x="2323.0" y="1485.7" width="13.6" height="78.1" fill="url(#hX)"/>
<rect x="2323.0" y="1485.7" width="13.6" height="78.1" fill="none" stroke="#2a2a2a" stroke-width="0.7"/>
<text x="2334.0" y="1483.3" font-size="11.6" fill="#111" textLength="23.2" lengthAdjust="spacingAndGlyphs" transform="rotate(-90 2334.0 1483.3)">42.34</text>
<rect x="2336.6" y="1485.8" width="13.6" height="78.0" fill="#2e6ca8"/>
<rect x="2336.6" y="1485.8" width="13.6" height="78.0" fill="url(#hO)"/>
<rect x="2336.6" y="1485.8" width="13.6" height="78.0" fill="none" stroke="#2a2a2a" stroke-width="0.7"/>
<text x="2347.6" y="1483.4" font-size="11.6" fill="#111" textLength="23.2" lengthAdjust="spacingAndGlyphs" transform="rotate(-90 2347.6 1483.4)">42.28</text>
<rect x="2360.9" y="1467.7" width="13.6" height="96.1" fill="#bf6b2f"/>
<rect x="2360.9" y="1467.7" width="13.6" height="96.1" fill="url(#hBS)"/>
<rect x="2360.9" y="1467.7" width="13.6" height="96.1" fill="none" stroke="#2a2a2a" stroke-width="0.7"/>
<text x="2371.9" y="1465.3" font-size="11.6" fill="#111" textLength="23.2" lengthAdjust="spacingAndGlyphs" transform="rotate(-90 2371.9 1465.3)">52.09</text>
<rect x="2374.5" y="1466.2" width="13.6" height="97.6" fill="#3f9672"/>
<rect x="2374.5" y="1466.2" width="13.6" height="97.6" fill="url(#hX)"/>
<rect x="2374.5" y="1466.2" width="13.6" height="97.6" fill="none" stroke="#2a2a2a" stroke-width="0.7"/>
<text x="2385.5" y="1463.8" font-size="11.6" fill="#111" textLength="23.2" lengthAdjust="spacingAndGlyphs" transform="rotate(-90 2385.5 1463.8)">52.93</text>
<rect x="2388.1" y="1466.8" width="13.6" height="97.0" fill="#2e6ca8"/>
<rect x="2388.1" y="1466.8" width="13.6" height="97.0" fill="url(#hO)"/>
<rect x="2388.1" y="1466.8" width="13.6" height="97.0" fill="none" stroke="#2a2a2a" stroke-width="0.7"/>
<text x="2399.1" y="1464.4" font-size="11.6" fill="#111" textLength="23.2" lengthAdjust="spacingAndGlyphs" transform="rotate(-90 2399.1 1464.4)">52.63</text>
<rect x="2411.8" y="1479.3" width="13.6" height="84.5" fill="#bf6b2f"/>
<rect x="2411.8" y="1479.3" width="13.6" height="84.5" fill="url(#hBS)"/>
<rect x="2411.8" y="1479.3" width="13.6" height="84.5" fill="none" stroke="#2a2a2a" stroke-width="0.7"/>
<text x="2422.8" y="1476.9" font-size="11.6" fill="#111" textLength="23.2" lengthAdjust="spacingAndGlyphs" transform="rotate(-90 2422.8 1476.9)">45.82</text>
<rect x="2425.4" y="1478.4" width="13.6" height="85.4" fill="#3f9672"/>
<rect x="2425.4" y="1478.4" width="13.6" height="85.4" fill="url(#hX)"/>
<rect x="2425.4" y="1478.4" width="13.6" height="85.4" fill="none" stroke="#2a2a2a" stroke-width="0.7"/>
<text x="2436.4" y="1476.0" font-size="11.6" fill="#111" textLength="23.2" lengthAdjust="spacingAndGlyphs" transform="rotate(-90 2436.4 1476.0)">46.33</text>
<rect x="2439.0" y="1479.8" width="13.6" height="84.0" fill="#2e6ca8"/>
<rect x="2439.0" y="1479.8" width="13.6" height="84.0" fill="url(#hO)"/>
<rect x="2439.0" y="1479.8" width="13.6" height="84.0" fill="none" stroke="#2a2a2a" stroke-width="0.7"/>
<text x="2450.0" y="1477.4" font-size="11.6" fill="#111" textLength="23.2" lengthAdjust="spacingAndGlyphs" transform="rotate(-90 2450.0 1477.4)">45.58</text>
<line x1="2304.7" y1="1563.8" x2="2457.9" y2="1563.8" stroke="#b5b5b5" stroke-width="1.5"/>
<line x1="2304.7" y1="1379.4" x2="2304.7" y2="1564.5" stroke="#b5b5b5" stroke-width="1.5"/>
<line x1="2301.1" y1="1563.8" x2="2304.7" y2="1563.8" stroke="#b5b5b5" stroke-width="1"/>
<text x="2299.7" y="1568.2" font-size="12.4" text-anchor="end" fill="#111" textLength="6.6" lengthAdjust="spacingAndGlyphs">0</text>
<line x1="2301.1" y1="1526.9" x2="2304.7" y2="1526.9" stroke="#b5b5b5" stroke-width="1"/>
<text x="2299.7" y="1531.3" font-size="12.4" text-anchor="end" fill="#111" textLength="13.1" lengthAdjust="spacingAndGlyphs">20</text>
<line x1="2301.1" y1="1490.0" x2="2304.7" y2="1490.0" stroke="#b5b5b5" stroke-width="1"/>
<text x="2299.7" y="1494.4" font-size="12.4" text-anchor="end" fill="#111" textLength="13.1" lengthAdjust="spacingAndGlyphs">40</text>
<line x1="2301.1" y1="1453.2" x2="2304.7" y2="1453.2" stroke="#b5b5b5" stroke-width="1"/>
<text x="2299.7" y="1457.6" font-size="12.4" text-anchor="end" fill="#111" textLength="13.1" lengthAdjust="spacingAndGlyphs">60</text>
<line x1="2301.1" y1="1416.3" x2="2304.7" y2="1416.3" stroke="#b5b5b5" stroke-width="1"/>
<text x="2299.7" y="1420.7" font-size="12.4" text-anchor="end" fill="#111" textLength="13.1" lengthAdjust="spacingAndGlyphs">80</text>
<line x1="2301.1" y1="1379.4" x2="2304.7" y2="1379.4" stroke="#b5b5b5" stroke-width="1"/>
<text x="2299.7" y="1383.8" font-size="12.4" text-anchor="end" fill="#111" textLength="18.0" lengthAdjust="spacingAndGlyphs">100</text>
<line x1="2329.8" y1="1563.8" x2="2329.8" y2="1567.6" stroke="#b5b5b5" stroke-width="1"/>
<text x="2328.4" y="1574.6" font-size="11" text-anchor="end" fill="#111" textLength="48.7" lengthAdjust="spacingAndGlyphs" transform="rotate(-30 2328.4 1574.6)">Llama2-7B</text>
<line x1="2381.3" y1="1563.8" x2="2381.3" y2="1567.6" stroke="#b5b5b5" stroke-width="1"/>
<text x="2379.9" y="1574.6" font-size="11" text-anchor="end" fill="#111" textLength="45.3" lengthAdjust="spacingAndGlyphs" transform="rotate(-30 2379.9 1574.6)">Mistral-7B</text>
<line x1="2432.2" y1="1563.8" x2="2432.2" y2="1567.6" stroke="#b5b5b5" stroke-width="1"/>
<text x="2430.8" y="1574.6" font-size="11" text-anchor="end" fill="#111" textLength="48.7" lengthAdjust="spacingAndGlyphs" transform="rotate(-30 2430.8 1574.6)">Llama3-8B</text>
<text x="2279.8" y="1471.6" font-size="13.2" text-anchor="middle" fill="#111" textLength="125.8" lengthAdjust="spacingAndGlyphs" transform="rotate(-90 2279.8 1471.6)">Average Task Accuracy</text>
<rect x="2350.4" y="1385.4" width="101.4" height="53.0" fill="#ffffffd9" stroke="#dedede" stroke-width="1" rx="2.5"/>
<rect x="2354.2" y="1390.4" width="24.0" height="8.6" fill="#bf6b2f"/>
<rect x="2354.2" y="1390.4" width="24.0" height="8.6" fill="url(#hBS)"/>
<rect x="2354.2" y="1390.4" width="24.0" height="8.6" fill="none" stroke="#2a2a2a" stroke-width="0.6"/>
<rect x="2354.2" y="1406.8" width="24.0" height="8.6" fill="#3f9672"/>
<rect x="2354.2" y="1406.8" width="24.0" height="8.6" fill="url(#hX)"/>
<rect x="2354.2" y="1406.8" width="24.0" height="8.6" fill="none" stroke="#2a2a2a" stroke-width="0.6"/>
<rect x="2354.2" y="1423.4" width="24.0" height="8.6" fill="#2e6ca8"/>
<rect x="2354.2" y="1423.4" width="24.0" height="8.6" fill="url(#hO)"/>
<rect x="2354.2" y="1423.4" width="24.0" height="8.6" fill="none" stroke="#2a2a2a" stroke-width="0.6"/>
<text x="2387.4" y="1398.8" font-size="12" fill="#111" textLength="60.0" lengthAdjust="spacingAndGlyphs">BookCorpus</text>
<text x="2387.4" y="1415.2" font-size="12" fill="#111" textLength="13.8" lengthAdjust="spacingAndGlyphs">C4</text>
<text x="2387.4" y="1431.8" font-size="12" fill="#111" textLength="41.0" lengthAdjust="spacingAndGlyphs">Wikitext</text>
</g>
<g id="compute-chart">
<text x="2957.0" y="462.1" font-size="15.6" text-anchor="middle" fill="#111" textLength="384.7" lengthAdjust="spacingAndGlyphs">Llama2-13B: Attention Breakdown w/o KV-cache Updates</text>
<line x1="2584.6" y1="664.7" x2="2934.6" y2="664.7" stroke="#d6d6d6" stroke-width="0.9" stroke-dasharray="1.2 1.6"/>
<line x1="2584.6" y1="629.9" x2="2934.6" y2="629.9" stroke="#d6d6d6" stroke-width="0.9" stroke-dasharray="1.2 1.6"/>
<line x1="2584.6" y1="595.0" x2="2934.6" y2="595.0" stroke="#d6d6d6" stroke-width="0.9" stroke-dasharray="1.2 1.6"/>
<line x1="2584.6" y1="560.1" x2="2934.6" y2="560.1" stroke="#d6d6d6" stroke-width="0.9" stroke-dasharray="1.2 1.6"/>
<line x1="2584.6" y1="525.3" x2="2934.6" y2="525.3" stroke="#d6d6d6" stroke-width="0.9" stroke-dasharray="1.2 1.6"/>
<line x1="2584.6" y1="490.4" x2="2934.6" y2="490.4" stroke="#d6d6d6" stroke-width="0.9" stroke-dasharray="1.2 1.6"/>
<rect x="2593.6" y="685.7" width="31.8" height="13.9" fill="#4ca47c"/>
<rect x="2593.6" y="685.7" width="31.8" height="13.9" fill="url(#cV)"/>
<rect x="2593.6" y="685.7" width="31.8" height="13.9" fill="none" stroke="#1f1f1f" stroke-width="0.7"/>
<rect x="2593.6" y="672.8" width="31.8" height="12.9" fill="#2f72b6"/>
<rect x="2593.6" y="672.8" width="31.8" height="12.9" fill="url(#cO)"/>
<rect x="2593.6" y="672.8" width="31.8" height="12.9" fill="none" stroke="#1f1f1f" stroke-width="0.7"/>
<rect x="2593.6" y="669.3" width="31.8" height="3.5" fill="#000"/>
<rect x="2593.6" y="669.3" width="31.8" height="3.5" fill="none" stroke="#1f1f1f" stroke-width="0.7"/>
<text x="2609.5" y="709.6" font-size="9.6" text-anchor="middle" fill="#111" textLength="6.1" lengthAdjust="spacingAndGlyphs">V</text>
<text x="2614.1" y="666.1" font-size="12.8" fill="#111" textLength="20.2" lengthAdjust="spacingAndGlyphs" transform="rotate(-90 2614.1 666.1)">0.09</text>
<rect x="2627.1" y="696.1" width="32.2" height="3.5" fill="#cf6827"/>
<rect x="2627.1" y="696.1" width="32.2" height="3.5" fill="url(#cX)"/>
<rect x="2627.1" y="696.1" width="32.2" height="3.5" fill="none" stroke="#1f1f1f" stroke-width="0.7"/>
<rect x="2627.1" y="692.6" width="32.2" height="3.5" fill="#4ca47c"/>
<rect x="2627.1" y="692.6" width="32.2" height="3.5" fill="url(#cV)"/>
<rect x="2627.1" y="692.6" width="32.2" height="3.5" fill="none" stroke="#1f1f1f" stroke-width="0.7"/>
<rect x="2627.1" y="689.1" width="32.2" height="3.5" fill="#2f72b6"/>
<rect x="2627.1" y="689.1" width="32.2" height="3.5" fill="url(#cO)"/>
<rect x="2627.1" y="689.1" width="32.2" height="3.5" fill="none" stroke="#1f1f1f" stroke-width="0.7"/>
<rect x="2627.1" y="684.6" width="32.2" height="4.5" fill="#cf86bc"/>
<rect x="2627.1" y="684.6" width="32.2" height="4.5" fill="url(#cBS)"/>
<rect x="2627.1" y="684.6" width="32.2" height="4.5" fill="none" stroke="#1f1f1f" stroke-width="0.7"/>
<rect x="2627.1" y="680.1" width="32.2" height="4.5" fill="#000"/>
<rect x="2627.1" y="680.1" width="32.2" height="4.5" fill="none" stroke="#1f1f1f" stroke-width="0.7"/>
<text x="2643.2" y="709.6" font-size="9.6" text-anchor="middle" fill="#111" textLength="14.2" lengthAdjust="spacingAndGlyphs">L-A</text>
<text x="2647.8" y="676.9" font-size="12.8" fill="#111" textLength="20.2" lengthAdjust="spacingAndGlyphs" transform="rotate(-90 2647.8 676.9)">0.06</text>
<rect x="2710.0" y="671.4" width="31.8" height="28.2" fill="#4ca47c"/>
<rect x="2710.0" y="671.4" width="31.8" height="28.2" fill="url(#cV)"/>
<rect x="2710.0" y="671.4" width="31.8" height="28.2" fill="none" stroke="#1f1f1f" stroke-width="0.7"/>
<rect x="2710.0" y="643.8" width="31.8" height="27.5" fill="#2f72b6"/>
<rect x="2710.0" y="643.8" width="31.8" height="27.5" fill="url(#cO)"/>
<rect x="2710.0" y="643.8" width="31.8" height="27.5" fill="none" stroke="#1f1f1f" stroke-width="0.7"/>
<rect x="2710.0" y="637.9" width="31.8" height="5.9" fill="#000"/>
<rect x="2710.0" y="637.9" width="31.8" height="5.9" fill="none" stroke="#1f1f1f" stroke-width="0.7"/>
<text x="2725.9" y="709.6" font-size="9.6" text-anchor="middle" fill="#111" textLength="6.1" lengthAdjust="spacingAndGlyphs">V</text>
<text x="2730.5" y="634.7" font-size="12.8" fill="#111" textLength="18.8" lengthAdjust="spacingAndGlyphs" transform="rotate(-90 2730.5 634.7)">0.18</text>
<rect x="2743.9" y="691.9" width="31.8" height="7.7" fill="#cf6827"/>
<rect x="2743.9" y="691.9" width="31.8" height="7.7" fill="url(#cX)"/>
<rect x="2743.9" y="691.9" width="31.8" height="7.7" fill="none" stroke="#1f1f1f" stroke-width="0.7"/>
<rect x="2743.9" y="684.3" width="31.8" height="7.7" fill="#4ca47c"/>
<rect x="2743.9" y="684.3" width="31.8" height="7.7" fill="url(#cV)"/>
<rect x="2743.9" y="684.3" width="31.8" height="7.7" fill="none" stroke="#1f1f1f" stroke-width="0.7"/>
<rect x="2743.9" y="676.9" width="31.8" height="7.3" fill="#2f72b6"/>
<rect x="2743.9" y="676.9" width="31.8" height="7.3" fill="url(#cO)"/>
<rect x="2743.9" y="676.9" width="31.8" height="7.3" fill="none" stroke="#1f1f1f" stroke-width="0.7"/>
<rect x="2743.9" y="668.9" width="31.8" height="8.0" fill="#cf86bc"/>
<rect x="2743.9" y="668.9" width="31.8" height="8.0" fill="url(#cBS)"/>
<rect x="2743.9" y="668.9" width="31.8" height="8.0" fill="none" stroke="#1f1f1f" stroke-width="0.7"/>
<rect x="2743.9" y="660.2" width="31.8" height="8.7" fill="#000"/>
<rect x="2743.9" y="660.2" width="31.8" height="8.7" fill="none" stroke="#1f1f1f" stroke-width="0.7"/>
<text x="2759.8" y="709.6" font-size="9.6" text-anchor="middle" fill="#111" textLength="14.2" lengthAdjust="spacingAndGlyphs">L-A</text>
<text x="2764.4" y="657.0" font-size="12.8" fill="#111" textLength="17.4" lengthAdjust="spacingAndGlyphs" transform="rotate(-90 2764.4 657.0)">0.11</text>
<rect x="2826.4" y="640.0" width="31.8" height="59.6" fill="#4ca47c"/>
<rect x="2826.4" y="640.0" width="31.8" height="59.6" fill="url(#cV)"/>
<rect x="2826.4" y="640.0" width="31.8" height="59.6" fill="none" stroke="#1f1f1f" stroke-width="0.7"/>
<rect x="2826.4" y="582.1" width="31.8" height="57.9" fill="#2f72b6"/>
<rect x="2826.4" y="582.1" width="31.8" height="57.9" fill="url(#cO)"/>
<rect x="2826.4" y="582.1" width="31.8" height="57.9" fill="none" stroke="#1f1f1f" stroke-width="0.7"/>
<rect x="2826.4" y="569.9" width="31.8" height="12.2" fill="#000"/>
<rect x="2826.4" y="569.9" width="31.8" height="12.2" fill="none" stroke="#1f1f1f" stroke-width="0.7"/>
<text x="2842.3" y="709.6" font-size="9.6" text-anchor="middle" fill="#111" textLength="6.1" lengthAdjust="spacingAndGlyphs">V</text>
<text x="2846.9" y="566.7" font-size="12.8" fill="#111" textLength="20.2" lengthAdjust="spacingAndGlyphs" transform="rotate(-90 2846.9 566.7)">0.37</text>
<rect x="2860.4" y="683.2" width="31.7" height="16.4" fill="#cf6827"/>
<rect x="2860.4" y="683.2" width="31.7" height="16.4" fill="url(#cX)"/>
<rect x="2860.4" y="683.2" width="31.7" height="16.4" fill="none" stroke="#1f1f1f" stroke-width="0.7"/>
<rect x="2860.4" y="667.9" width="31.7" height="15.3" fill="#4ca47c"/>
<rect x="2860.4" y="667.9" width="31.7" height="15.3" fill="url(#cV)"/>
<rect x="2860.4" y="667.9" width="31.7" height="15.3" fill="none" stroke="#1f1f1f" stroke-width="0.7"/>
<rect x="2860.4" y="653.2" width="31.7" height="14.6" fill="#2f72b6"/>
<rect x="2860.4" y="653.2" width="31.7" height="14.6" fill="url(#cO)"/>
<rect x="2860.4" y="653.2" width="31.7" height="14.6" fill="none" stroke="#1f1f1f" stroke-width="0.7"/>
<rect x="2860.4" y="635.4" width="31.7" height="17.8" fill="#cf86bc"/>
<rect x="2860.4" y="635.4" width="31.7" height="17.8" fill="url(#cBS)"/>
<rect x="2860.4" y="635.4" width="31.7" height="17.8" fill="none" stroke="#1f1f1f" stroke-width="0.7"/>
<rect x="2860.4" y="619.4" width="31.7" height="16.0" fill="#000"/>
<rect x="2860.4" y="619.4" width="31.7" height="16.0" fill="none" stroke="#1f1f1f" stroke-width="0.7"/>
<text x="2876.2" y="709.6" font-size="9.6" text-anchor="middle" fill="#111" textLength="14.2" lengthAdjust="spacingAndGlyphs">L-A</text>
<text x="2880.8" y="616.2" font-size="12.8" fill="#111" textLength="20.2" lengthAdjust="spacingAndGlyphs" transform="rotate(-90 2880.8 616.2)">0.23</text>
<line x1="2584.6" y1="699.6" x2="2934.6" y2="699.6" stroke="#b5b5b5" stroke-width="1.5"/>
<line x1="2584.6" y1="490.4" x2="2584.6" y2="700.3" stroke="#b5b5b5" stroke-width="1.5"/>
<line x1="2581.0" y1="699.6" x2="2584.6" y2="699.6" stroke="#b5b5b5" stroke-width="1"/>
<text x="2580.2" y="704.8" font-size="14.6" text-anchor="end" fill="#111" textLength="19.3" lengthAdjust="spacingAndGlyphs">0.0</text>
<line x1="2581.0" y1="664.7" x2="2584.6" y2="664.7" stroke="#b5b5b5" stroke-width="1"/>
<text x="2580.2" y="669.9" font-size="14.6" text-anchor="end" fill="#111" textLength="17.4" lengthAdjust="spacingAndGlyphs">0.1</text>
<line x1="2581.0" y1="629.9" x2="2584.6" y2="629.9" stroke="#b5b5b5" stroke-width="1"/>
<text x="2580.2" y="635.1" font-size="14.6" text-anchor="end" fill="#111" textLength="19.3" lengthAdjust="spacingAndGlyphs">0.2</text>
<line x1="2581.0" y1="595.0" x2="2584.6" y2="595.0" stroke="#b5b5b5" stroke-width="1"/>
<text x="2580.2" y="600.2" font-size="14.6" text-anchor="end" fill="#111" textLength="19.3" lengthAdjust="spacingAndGlyphs">0.3</text>
<line x1="2581.0" y1="560.1" x2="2584.6" y2="560.1" stroke="#b5b5b5" stroke-width="1"/>
<text x="2580.2" y="565.3" font-size="14.6" text-anchor="end" fill="#111" textLength="19.3" lengthAdjust="spacingAndGlyphs">0.4</text>
<line x1="2581.0" y1="525.3" x2="2584.6" y2="525.3" stroke="#b5b5b5" stroke-width="1"/>
<text x="2580.2" y="530.5" font-size="14.6" text-anchor="end" fill="#111" textLength="19.3" lengthAdjust="spacingAndGlyphs">0.5</text>
<line x1="2581.0" y1="490.4" x2="2584.6" y2="490.4" stroke="#b5b5b5" stroke-width="1"/>
<text x="2580.2" y="495.6" font-size="14.6" text-anchor="end" fill="#111" textLength="19.3" lengthAdjust="spacingAndGlyphs">0.6</text>
<text x="2759.6" y="486.0" font-size="11.4" text-anchor="middle" fill="#111" textLength="113.8" lengthAdjust="spacingAndGlyphs">Prompt Length = 2048</text>
<text x="2643.6" y="733.2" font-size="14.6" text-anchor="middle" fill="#111" textLength="21.2" lengthAdjust="spacingAndGlyphs">128</text>
<text x="2760.0" y="733.2" font-size="14.6" text-anchor="middle" fill="#111" textLength="23.1" lengthAdjust="spacingAndGlyphs">256</text>
<text x="2876.4" y="733.2" font-size="14.6" text-anchor="middle" fill="#111" textLength="21.2" lengthAdjust="spacingAndGlyphs">512</text>
<line x1="3003.9" y1="664.7" x2="3354.3" y2="664.7" stroke="#d6d6d6" stroke-width="0.9" stroke-dasharray="1.2 1.6"/>
<line x1="3003.9" y1="629.9" x2="3354.3" y2="629.9" stroke="#d6d6d6" stroke-width="0.9" stroke-dasharray="1.2 1.6"/>
<line x1="3003.9" y1="595.0" x2="3354.3" y2="595.0" stroke="#d6d6d6" stroke-width="0.9" stroke-dasharray="1.2 1.6"/>
<line x1="3003.9" y1="560.1" x2="3354.3" y2="560.1" stroke="#d6d6d6" stroke-width="0.9" stroke-dasharray="1.2 1.6"/>
<line x1="3003.9" y1="525.3" x2="3354.3" y2="525.3" stroke="#d6d6d6" stroke-width="0.9" stroke-dasharray="1.2 1.6"/>
<line x1="3003.9" y1="490.4" x2="3354.3" y2="490.4" stroke="#d6d6d6" stroke-width="0.9" stroke-dasharray="1.2 1.6"/>
<rect x="3013.2" y="679.7" width="31.8" height="19.9" fill="#4ca47c"/>
<rect x="3013.2" y="679.7" width="31.8" height="19.9" fill="url(#cV)"/>
<rect x="3013.2" y="679.7" width="31.8" height="19.9" fill="none" stroke="#1f1f1f" stroke-width="0.7"/>
<rect x="3013.2" y="660.2" width="31.8" height="19.5" fill="#2f72b6"/>
<rect x="3013.2" y="660.2" width="31.8" height="19.5" fill="url(#cO)"/>
<rect x="3013.2" y="660.2" width="31.8" height="19.5" fill="none" stroke="#1f1f1f" stroke-width="0.7"/>
<rect x="3013.2" y="656.7" width="31.8" height="3.5" fill="#000"/>
<rect x="3013.2" y="656.7" width="31.8" height="3.5" fill="none" stroke="#1f1f1f" stroke-width="0.7"/>
<text x="3029.1" y="709.6" font-size="9.6" text-anchor="middle" fill="#111" textLength="6.1" lengthAdjust="spacingAndGlyphs">V</text>
<text x="3033.7" y="653.5" font-size="12.8" fill="#111" textLength="18.8" lengthAdjust="spacingAndGlyphs" transform="rotate(-90 3033.7 653.5)">0.12</text>
<rect x="3046.8" y="694.4" width="32.1" height="5.2" fill="#cf6827"/>
<rect x="3046.8" y="694.4" width="32.1" height="5.2" fill="url(#cX)"/>
<rect x="3046.8" y="694.4" width="32.1" height="5.2" fill="none" stroke="#1f1f1f" stroke-width="0.7"/>
<rect x="3046.8" y="689.1" width="32.1" height="5.2" fill="#4ca47c"/>
<rect x="3046.8" y="689.1" width="32.1" height="5.2" fill="url(#cV)"/>
<rect x="3046.8" y="689.1" width="32.1" height="5.2" fill="none" stroke="#1f1f1f" stroke-width="0.7"/>
<rect x="3046.8" y="682.2" width="32.1" height="7.0" fill="#2f72b6"/>
<rect x="3046.8" y="682.2" width="32.1" height="7.0" fill="url(#cO)"/>
<rect x="3046.8" y="682.2" width="32.1" height="7.0" fill="none" stroke="#1f1f1f" stroke-width="0.7"/>
<rect x="3046.8" y="677.6" width="32.1" height="4.5" fill="#cf86bc"/>
<rect x="3046.8" y="677.6" width="32.1" height="4.5" fill="url(#cBS)"/>
<rect x="3046.8" y="677.6" width="32.1" height="4.5" fill="none" stroke="#1f1f1f" stroke-width="0.7"/>
<rect x="3046.8" y="673.1" width="32.1" height="4.5" fill="#000"/>
<rect x="3046.8" y="673.1" width="32.1" height="4.5" fill="none" stroke="#1f1f1f" stroke-width="0.7"/>
<text x="3062.9" y="709.6" font-size="9.6" text-anchor="middle" fill="#111" textLength="14.2" lengthAdjust="spacingAndGlyphs">L-A</text>
<text x="3067.5" y="669.9" font-size="12.8" fill="#111" textLength="20.2" lengthAdjust="spacingAndGlyphs" transform="rotate(-90 3067.5 669.9)">0.08</text>
<rect x="3129.6" y="659.2" width="31.8" height="40.4" fill="#4ca47c"/>
<rect x="3129.6" y="659.2" width="31.8" height="40.4" fill="url(#cV)"/>
<rect x="3129.6" y="659.2" width="31.8" height="40.4" fill="none" stroke="#1f1f1f" stroke-width="0.7"/>
<rect x="3129.6" y="619.1" width="31.8" height="40.1" fill="#2f72b6"/>
<rect x="3129.6" y="619.1" width="31.8" height="40.1" fill="url(#cO)"/>
<rect x="3129.6" y="619.1" width="31.8" height="40.1" fill="none" stroke="#1f1f1f" stroke-width="0.7"/>
<rect x="3129.6" y="612.4" width="31.8" height="6.6" fill="#000"/>
<rect x="3129.6" y="612.4" width="31.8" height="6.6" fill="none" stroke="#1f1f1f" stroke-width="0.7"/>
<text x="3145.5" y="709.6" font-size="9.6" text-anchor="middle" fill="#111" textLength="6.1" lengthAdjust="spacingAndGlyphs">V</text>
<text x="3150.1" y="609.2" font-size="12.8" fill="#111" textLength="20.2" lengthAdjust="spacingAndGlyphs" transform="rotate(-90 3150.1 609.2)">0.25</text>
<rect x="3163.6" y="688.8" width="31.8" height="10.8" fill="#cf6827"/>
<rect x="3163.6" y="688.8" width="31.8" height="10.8" fill="url(#cX)"/>
<rect x="3163.6" y="688.8" width="31.8" height="10.8" fill="none" stroke="#1f1f1f" stroke-width="0.7"/>
<rect x="3163.6" y="678.3" width="31.8" height="10.5" fill="#4ca47c"/>
<rect x="3163.6" y="678.3" width="31.8" height="10.5" fill="url(#cV)"/>
<rect x="3163.6" y="678.3" width="31.8" height="10.5" fill="none" stroke="#1f1f1f" stroke-width="0.7"/>
<rect x="3163.6" y="664.7" width="31.8" height="13.6" fill="#2f72b6"/>
<rect x="3163.6" y="664.7" width="31.8" height="13.6" fill="url(#cO)"/>
<rect x="3163.6" y="664.7" width="31.8" height="13.6" fill="none" stroke="#1f1f1f" stroke-width="0.7"/>
<rect x="3163.6" y="655.0" width="31.8" height="9.8" fill="#cf86bc"/>
<rect x="3163.6" y="655.0" width="31.8" height="9.8" fill="url(#cBS)"/>
<rect x="3163.6" y="655.0" width="31.8" height="9.8" fill="none" stroke="#1f1f1f" stroke-width="0.7"/>
<rect x="3163.6" y="646.3" width="31.8" height="8.7" fill="#000"/>
<rect x="3163.6" y="646.3" width="31.8" height="8.7" fill="none" stroke="#1f1f1f" stroke-width="0.7"/>
<text x="3179.5" y="709.6" font-size="9.6" text-anchor="middle" fill="#111" textLength="14.2" lengthAdjust="spacingAndGlyphs">L-A</text>
<text x="3184.1" y="643.1" font-size="12.8" fill="#111" textLength="18.8" lengthAdjust="spacingAndGlyphs" transform="rotate(-90 3184.1 643.1)">0.15</text>
<rect x="3246.1" y="615.2" width="31.8" height="84.4" fill="#4ca47c"/>
<rect x="3246.1" y="615.2" width="31.8" height="84.4" fill="url(#cV)"/>
<rect x="3246.1" y="615.2" width="31.8" height="84.4" fill="none" stroke="#1f1f1f" stroke-width="0.7"/>
<rect x="3246.1" y="532.2" width="31.8" height="83.0" fill="#2f72b6"/>
<rect x="3246.1" y="532.2" width="31.8" height="83.0" fill="url(#cO)"/>
<rect x="3246.1" y="532.2" width="31.8" height="83.0" fill="none" stroke="#1f1f1f" stroke-width="0.7"/>
<rect x="3246.1" y="519.3" width="31.8" height="12.9" fill="#000"/>
<rect x="3246.1" y="519.3" width="31.8" height="12.9" fill="none" stroke="#1f1f1f" stroke-width="0.7"/>
<text x="3262.0" y="709.6" font-size="9.6" text-anchor="middle" fill="#111" textLength="6.1" lengthAdjust="spacingAndGlyphs">V</text>
<text x="3266.6" y="516.1" font-size="12.8" fill="#111" textLength="20.2" lengthAdjust="spacingAndGlyphs" transform="rotate(-90 3266.6 516.1)">0.52</text>
<rect x="3280.0" y="676.6" width="31.8" height="23.0" fill="#cf6827"/>
<rect x="3280.0" y="676.6" width="31.8" height="23.0" fill="url(#cX)"/>
<rect x="3280.0" y="676.6" width="31.8" height="23.0" fill="none" stroke="#1f1f1f" stroke-width="0.7"/>
<rect x="3280.0" y="655.3" width="31.8" height="21.3" fill="#4ca47c"/>
<rect x="3280.0" y="655.3" width="31.8" height="21.3" fill="url(#cV)"/>
<rect x="3280.0" y="655.3" width="31.8" height="21.3" fill="none" stroke="#1f1f1f" stroke-width="0.7"/>
<rect x="3280.0" y="628.8" width="31.8" height="26.5" fill="#2f72b6"/>
<rect x="3280.0" y="628.8" width="31.8" height="26.5" fill="url(#cO)"/>
<rect x="3280.0" y="628.8" width="31.8" height="26.5" fill="none" stroke="#1f1f1f" stroke-width="0.7"/>
<rect x="3280.0" y="608.9" width="31.8" height="19.9" fill="#cf86bc"/>
<rect x="3280.0" y="608.9" width="31.8" height="19.9" fill="url(#cBS)"/>
<rect x="3280.0" y="608.9" width="31.8" height="19.9" fill="none" stroke="#1f1f1f" stroke-width="0.7"/>
<rect x="3280.0" y="591.9" width="31.8" height="17.1" fill="#000"/>
<rect x="3280.0" y="591.9" width="31.8" height="17.1" fill="none" stroke="#1f1f1f" stroke-width="0.7"/>
<text x="3295.9" y="709.6" font-size="9.6" text-anchor="middle" fill="#111" textLength="14.2" lengthAdjust="spacingAndGlyphs">L-A</text>
<text x="3300.5" y="588.7" font-size="12.8" fill="#111" textLength="18.8" lengthAdjust="spacingAndGlyphs" transform="rotate(-90 3300.5 588.7)">0.31</text>
<line x1="3003.9" y1="699.6" x2="3354.3" y2="699.6" stroke="#b5b5b5" stroke-width="1.5"/>
<line x1="3003.9" y1="490.4" x2="3003.9" y2="700.3" stroke="#b5b5b5" stroke-width="1.5"/>
<line x1="3000.3" y1="699.6" x2="3003.9" y2="699.6" stroke="#b5b5b5" stroke-width="1"/>
<text x="2999.5" y="704.8" font-size="14.6" text-anchor="end" fill="#111" textLength="19.3" lengthAdjust="spacingAndGlyphs">0.0</text>
<line x1="3000.3" y1="664.7" x2="3003.9" y2="664.7" stroke="#b5b5b5" stroke-width="1"/>
<text x="2999.5" y="669.9" font-size="14.6" text-anchor="end" fill="#111" textLength="17.4" lengthAdjust="spacingAndGlyphs">0.1</text>
<line x1="3000.3" y1="629.9" x2="3003.9" y2="629.9" stroke="#b5b5b5" stroke-width="1"/>
<text x="2999.5" y="635.1" font-size="14.6" text-anchor="end" fill="#111" textLength="19.3" lengthAdjust="spacingAndGlyphs">0.2</text>
<line x1="3000.3" y1="595.0" x2="3003.9" y2="595.0" stroke="#b5b5b5" stroke-width="1"/>
<text x="2999.5" y="600.2" font-size="14.6" text-anchor="end" fill="#111" textLength="19.3" lengthAdjust="spacingAndGlyphs">0.3</text>
<line x1="3000.3" y1="560.1" x2="3003.9" y2="560.1" stroke="#b5b5b5" stroke-width="1"/>
<text x="2999.5" y="565.3" font-size="14.6" text-anchor="end" fill="#111" textLength="19.3" lengthAdjust="spacingAndGlyphs">0.4</text>
<line x1="3000.3" y1="525.3" x2="3003.9" y2="525.3" stroke="#b5b5b5" stroke-width="1"/>
<text x="2999.5" y="530.5" font-size="14.6" text-anchor="end" fill="#111" textLength="19.3" lengthAdjust="spacingAndGlyphs">0.5</text>
<line x1="3000.3" y1="490.4" x2="3003.9" y2="490.4" stroke="#b5b5b5" stroke-width="1"/>
<text x="2999.5" y="495.6" font-size="14.6" text-anchor="end" fill="#111" textLength="19.3" lengthAdjust="spacingAndGlyphs">0.6</text>
<text x="3178.9" y="486.0" font-size="11.4" text-anchor="middle" fill="#111" textLength="113.8" lengthAdjust="spacingAndGlyphs">Prompt Length = 3072</text>
<text x="3063.2" y="733.2" font-size="14.6" text-anchor="middle" fill="#111" textLength="21.2" lengthAdjust="spacingAndGlyphs">128</text>
<text x="3179.6" y="733.2" font-size="14.6" text-anchor="middle" fill="#111" textLength="23.1" lengthAdjust="spacingAndGlyphs">256</text>
<text x="3296.0" y="733.2" font-size="14.6" text-anchor="middle" fill="#111" textLength="21.2" lengthAdjust="spacingAndGlyphs">512</text>
<text x="2541.8" y="593.9" font-size="15.4" text-anchor="middle" fill="#111" textLength="113.0" lengthAdjust="spacingAndGlyphs" transform="rotate(-90 2541.8 593.9)">Time per Layer (s)</text>
<text x="2957.1" y="756.8" font-size="15" text-anchor="middle" fill="#111" textLength="183.0" lengthAdjust="spacingAndGlyphs">Number of Generated Tokens</text>
<rect x="2591.4" y="496.1" width="116.8" height="101.0" fill="#ffffffe0" stroke="#dedede" stroke-width="1" rx="2.5"/>
<rect x="2595.9" y="503.9" width="25.4" height="9.2" fill="#cf6827"/>
<rect x="2595.9" y="503.9" width="25.4" height="9.2" fill="url(#cX)"/>
<rect x="2595.9" y="503.9" width="25.4" height="9.2" fill="none" stroke="#1f1f1f" stroke-width="0.6"/>
<rect x="2595.9" y="525.3" width="25.4" height="9.2" fill="#4ca47c"/>
<rect x="2595.9" y="525.3" width="25.4" height="9.2" fill="url(#cV)"/>
<rect x="2595.9" y="525.3" width="25.4" height="9.2" fill="none" stroke="#1f1f1f" stroke-width="0.6"/>
<rect x="2595.9" y="544.6" width="25.4" height="9.2" fill="#2f72b6"/>
<rect x="2595.9" y="544.6" width="25.4" height="9.2" fill="url(#cO)"/>
<rect x="2595.9" y="544.6" width="25.4" height="9.2" fill="none" stroke="#1f1f1f" stroke-width="0.6"/>
<rect x="2595.9" y="563.2" width="25.4" height="9.2" fill="#cf86bc"/>
<rect x="2595.9" y="563.2" width="25.4" height="9.2" fill="url(#cBS)"/>
<rect x="2595.9" y="563.2" width="25.4" height="9.2" fill="none" stroke="#1f1f1f" stroke-width="0.6"/>
<rect x="2595.9" y="581.0" width="25.4" height="9.2" fill="#000"/>
<rect x="2595.9" y="581.0" width="25.4" height="9.2" fill="none" stroke="#1f1f1f" stroke-width="0.6"/>
<text x="2631.2" y="512.6" font-size="13.6" fill="#111" textLength="71.6" lengthAdjust="spacingAndGlyphs"><tspan font-style="italic">q</tspan>. <tspan font-style="italic">k</tspan><tspan font-style="italic" font-size="8.6" dy="-5">T</tspan><tspan dy="5"> </tspan><tspan font-size="11.6">(top-</tspan><tspan font-style="italic">d</tspan><tspan font-style="italic" font-size="8.4" dy="2.4">f</tspan><tspan dy="-2.4" font-size="11.6">)</tspan></text>
<text x="2631.2" y="534.0" font-size="13.6" fill="#111" textLength="71.0" lengthAdjust="spacingAndGlyphs"><tspan font-style="italic">q</tspan>. <tspan font-style="italic">k</tspan><tspan font-style="italic" font-size="8.6" dy="-5">T</tspan><tspan dy="5"> </tspan><tspan font-size="11.6">(top-</tspan><tspan font-style="italic">k</tspan><tspan font-style="italic" font-size="8.4" dy="2.4">f</tspan><tspan dy="-2.4" font-size="11.6">)</tspan></text>
<text x="2631.2" y="553.0" font-size="13.6" fill="#111" textLength="63.0" lengthAdjust="spacingAndGlyphs"><tspan font-style="italic">s</tspan>. <tspan font-style="italic">v</tspan> <tspan font-size="11.6">(top-</tspan><tspan font-style="italic">k</tspan><tspan font-style="italic" font-size="8.4" dy="2.4">f</tspan><tspan dy="-2.4" font-size="11.6">)</tspan></text>
<text x="2631.2" y="571.8" font-size="11.8" fill="#111" textLength="26.6" lengthAdjust="spacingAndGlyphs">top-k</text>
<text x="2631.2" y="589.4" font-size="11.8" fill="#111" textLength="27.6" lengthAdjust="spacingAndGlyphs">other</text>
<rect x="2748.6" y="779.6" width="407.1" height="30.0" fill="#fff" stroke="#333" stroke-width="1"/>
<text x="2758.9" y="798.9" font-size="15" fill="#111" textLength="9.6" lengthAdjust="spacingAndGlyphs">V</text>
<line x1="2773.0" y1="794.2" x2="2787.0" y2="794.2" stroke="#111" stroke-width="1.1"/>
<path d="M2788.0 794.2 l-6 -3.6 l1.6 3.6 l-1.6 3.6 z" fill="#111"/>
<text x="2791.6" y="798.9" font-size="15" fill="#111" textLength="104.6" lengthAdjust="spacingAndGlyphs">Vanilla Attention</text>
<text x="2914.6" y="798.9" font-size="15" fill="#111" textLength="23.6" lengthAdjust="spacingAndGlyphs">L-A</text>
<line x1="2945.0" y1="794.2" x2="2959.0" y2="794.2" stroke="#111" stroke-width="1.1"/>
<path d="M2960.0 794.2 l-6 -3.6 l1.6 3.6 l-1.6 3.6 z" fill="#111"/>
<text x="2963.0" y="798.9" font-size="15" fill="#111" textLength="31.2" lengthAdjust="spacingAndGlyphs">Loki (</text>
<text x="2994.6" y="798.9" font-size="16.4" fill="#222" style='font-family:"Liberation Serif", serif' textLength="145.8" lengthAdjust="spacingAndGlyphs"><tspan font-style="italic">d</tspan><tspan font-style="italic" font-size="10.5" dy="3.4">f</tspan><tspan dy="-3.4"> = 0.25, </tspan><tspan font-style="italic">k</tspan><tspan font-style="italic" font-size="10.5" dy="3.4">f</tspan><tspan dy="-3.4"> = 0.25)</tspan></text>
</g>
<circle cx="2535.0" cy="853.0" r="4.6" fill="#000"/>
<text x="2558.9" y="860.0" font-size="20" textLength="477.5" lengthAdjust="spacingAndGlyphs">Micro-benchmark comparison of attention times with</text>
<text x="3042.8" y="860.0" font-size="20" font-style="italic" textLength="51.8" lengthAdjust="spacingAndGlyphs">Vanilla</text>
<text x="3101.8" y="860.0" font-size="20" textLength="201.8" lengthAdjust="spacingAndGlyphs">HuggingFace attention.</text>
<circle cx="2535.0" cy="903.0" r="4.6" fill="#000"/>
<text x="2558.9" y="910.0" font-size="20" textLength="209.7" lengthAdjust="spacingAndGlyphs">Up-to 40-45% speedup!</text>
<circle cx="2535.0" cy="953.0" r="4.6" fill="#000"/>
<text x="2558.9" y="960.0" font-size="20" textLength="764.3" lengthAdjust="spacingAndGlyphs">Top-K operation is as expensive as the matrix-multiplications and can be a bottleneck.</text>
<text x="2531.3" y="1089.0" font-size="22" font-weight="bold" textLength="154.1" lengthAdjust="spacingAndGlyphs" stroke="#000" stroke-width="0.55">Contributions</text>
<circle cx="2537.6" cy="1119.0" r="4.6" fill="#000"/>
<text x="2561.1" y="1126.0" font-size="20" textLength="521.1" lengthAdjust="spacingAndGlyphs">We analyzed the low-dimensional nature of attention keys.</text>
<circle cx="2537.6" cy="1169.0" r="4.6" fill="#000"/>
<text x="2561.1" y="1176.0" font-size="20" textLength="554.4" lengthAdjust="spacingAndGlyphs">We developed Loki, a novel sparse attention method using the</text>
<text x="2561.1" y="1201.2" font-size="20" textLength="508.7" lengthAdjust="spacingAndGlyphs">low-dimensional observation that does not delete tokens</text>
<text x="2561.1" y="1226.2" font-size="20" textLength="112.7" lengthAdjust="spacingAndGlyphs">permanently.</text>
<circle cx="2537.6" cy="1269.4" r="4.6" fill="#000"/>
<text x="2561.1" y="1276.4" font-size="20" textLength="494.1" lengthAdjust="spacingAndGlyphs">We show that Loki preserves model quality better than</text>
<text x="2561.1" y="1301.3" font-size="20" textLength="217.4" lengthAdjust="spacingAndGlyphs">existing sparse methods.</text>
<text x="2531.3" y="1360.9" font-size="22" font-weight="bold" textLength="325.8" lengthAdjust="spacingAndGlyphs" stroke="#000" stroke-width="0.55">Limitations and Future Work</text>
<circle cx="2537.6" cy="1391.1" r="4.6" fill="#000"/>
<text x="2561.1" y="1398.1" font-size="20" textLength="551.4" lengthAdjust="spacingAndGlyphs">Integration with FlashAttention [3] remains challenging due to</text>
<text x="2561.1" y="1423.3" font-size="20" textLength="497.1" lengthAdjust="spacingAndGlyphs">top-k operations. Thresholding instead of top-k can help</text>
<text x="2561.1" y="1448.2" font-size="20" textLength="108.9" lengthAdjust="spacingAndGlyphs">address this.</text>
<circle cx="2537.6" cy="1491.0" r="4.6" fill="#000"/>
<text x="2561.1" y="1498.0" font-size="20" textLength="524.0" lengthAdjust="spacingAndGlyphs">Loki does not reduce memory usage and combining it with</text>
<text x="2561.1" y="1523.2" font-size="20" textLength="499.7" lengthAdjust="spacingAndGlyphs">other sparse methods may be necessary to achieve that.</text>
<text x="3230.8" y="1286.2" font-size="24" font-weight="bold" text-anchor="middle" textLength="62.0" lengthAdjust="spacingAndGlyphs" stroke="#000" stroke-width="0.55">Code</text>
<text x="3231.6" y="1548.9" font-size="24" font-weight="bold" text-anchor="middle" textLength="70.0" lengthAdjust="spacingAndGlyphs" stroke="#000" stroke-width="0.55">Paper</text>
<g id="qr-code">
<path d="M3145.50 1089.80h35.86v5.17h-35.86zM3201.85 1089.80h5.12v5.17h-5.12zM3217.22 1089.80h5.12v5.17h-5.12zM3237.71 1089.80h5.12v5.17h-5.12zM3258.21 1089.80h5.12v5.17h-5.12zM3268.45 1089.80h5.12v5.17h-5.12zM3278.70 1089.80h35.86v5.17h-35.86zM3145.50 1094.92h5.12v5.17h-5.12zM3176.24 1094.92h5.12v5.17h-5.12zM3186.48 1094.92h10.25v5.17h-10.25zM3222.34 1094.92h25.62v5.17h-25.62zM3253.08 1094.92h10.25v5.17h-10.25zM3278.70 1094.92h5.12v5.17h-5.12zM3309.44 1094.92h5.12v5.17h-5.12zM3145.50 1100.05h5.12v5.17h-5.12zM3155.75 1100.05h15.37v5.17h-15.37zM3176.24 1100.05h5.12v5.17h-5.12zM3186.48 1100.05h10.25v5.17h-10.25zM3201.85 1100.05h15.37v5.17h-15.37zM3232.59 1100.05h30.74v5.17h-30.74zM3268.45 1100.05h5.12v5.17h-5.12zM3278.70 1100.05h5.12v5.17h-5.12zM3288.94 1100.05h15.37v5.17h-15.37zM3309.44 1100.05h5.12v5.17h-5.12zM3145.50 1105.17h5.12v5.17h-5.12zM3155.75 1105.17h15.37v5.17h-15.37zM3176.24 1105.17h5.12v5.17h-5.12zM3186.48 1105.17h5.12v5.17h-5.12zM3206.98 1105.17h5.12v5.17h-5.12zM3217.22 1105.17h5.12v5.17h-5.12zM3227.47 1105.17h20.49v5.17h-20.49zM3253.08 1105.17h15.37v5.17h-15.37zM3278.70 1105.17h5.12v5.17h-5.12zM3288.94 1105.17h15.37v5.17h-15.37zM3309.44 1105.17h5.12v5.17h-5.12zM3145.50 1110.29h5.12v5.17h-5.12zM3155.75 1110.29h15.37v5.17h-15.37zM3176.24 1110.29h5.12v5.17h-5.12zM3186.48 1110.29h5.12v5.17h-5.12zM3201.85 1110.29h5.12v5.17h-5.12zM3227.47 1110.29h5.12v5.17h-5.12zM3237.71 1110.29h5.12v5.17h-5.12zM3247.96 1110.29h25.62v5.17h-25.62zM3278.70 1110.29h5.12v5.17h-5.12zM3288.94 1110.29h15.37v5.17h-15.37zM3309.44 1110.29h5.12v5.17h-5.12zM3145.50 1115.41h5.12v5.17h-5.12zM3176.24 1115.41h5.12v5.17h-5.12zM3186.48 1115.41h15.37v5.17h-15.37zM3217.22 1115.41h20.49v5.17h-20.49zM3253.08 1115.41h5.12v5.17h-5.12zM3268.45 1115.41h5.12v5.17h-5.12zM3278.70 1115.41h5.12v5.17h-5.12zM3309.44 1115.41h5.12v5.17h-5.12zM3145.50 1120.54h35.86v5.17h-35.86zM3186.48 1120.54h5.12v5.17h-5.12zM3196.73 1120.54h5.12v5.17h-5.12zM3206.98 1120.54h5.12v5.17h-5.12zM3217.22 1120.54h5.12v5.17h-5.12zM3227.47 1120.54h5.12v5.17h-5.12zM3237.71 1120.54h5.12v5.17h-5.12zM3247.96 1120.54h5.12v5.17h-5.12zM3258.21 1120.54h5.12v5.17h-5.12zM3268.45 1120.54h5.12v5.17h-5.12zM3278.70 1120.54h35.86v5.17h-35.86zM3191.61 1125.66h5.12v5.17h-5.12zM3206.98 1125.66h30.74v5.17h-30.74zM3247.96 1125.66h5.12v5.17h-5.12zM3155.75 1130.78h5.12v5.17h-5.12zM3171.11 1130.78h20.49v5.17h-20.49zM3196.73 1130.78h5.12v5.17h-5.12zM3206.98 1130.78h5.12v5.17h-5.12zM3222.34 1130.78h5.12v5.17h-5.12zM3232.59 1130.78h10.25v5.17h-10.25zM3273.57 1130.78h5.12v5.17h-5.12zM3283.82 1130.78h25.62v5.17h-25.62zM3145.50 1135.91h5.12v5.17h-5.12zM3160.87 1135.91h10.25v5.17h-10.25zM3181.36 1135.91h10.25v5.17h-10.25zM3201.85 1135.91h5.12v5.17h-5.12zM3212.10 1135.91h5.12v5.17h-5.12zM3222.34 1135.91h20.49v5.17h-20.49zM3253.08 1135.91h5.12v5.17h-5.12zM3263.33 1135.91h25.62v5.17h-25.62zM3294.07 1135.91h10.25v5.17h-10.25zM3309.44 1135.91h5.12v5.17h-5.12zM3155.75 1141.03h15.37v5.17h-15.37zM3176.24 1141.03h5.12v5.17h-5.12zM3191.61 1141.03h15.37v5.17h-15.37zM3217.22 1141.03h10.25v5.17h-10.25zM3237.71 1141.03h5.12v5.17h-5.12zM3263.33 1141.03h5.12v5.17h-5.12zM3273.57 1141.03h5.12v5.17h-5.12zM3283.82 1141.03h10.25v5.17h-10.25zM3299.19 1141.03h5.12v5.17h-5.12zM3309.44 1141.03h5.12v5.17h-5.12zM3150.62 1146.15h10.25v5.17h-10.25zM3165.99 1146.15h10.25v5.17h-10.25zM3196.73 1146.15h5.12v5.17h-5.12zM3263.33 1146.15h10.25v5.17h-10.25zM3283.82 1146.15h5.12v5.17h-5.12zM3304.31 1146.15h10.25v5.17h-10.25zM3145.50 1151.28h5.12v5.17h-5.12zM3155.75 1151.28h15.37v5.17h-15.37zM3176.24 1151.28h20.49v5.17h-20.49zM3263.33 1151.28h10.25v5.17h-10.25zM3278.70 1151.28h10.25v5.17h-10.25zM3294.07 1151.28h5.12v5.17h-5.12zM3309.44 1151.28h5.12v5.17h-5.12zM3155.75 1156.40h15.37v5.17h-15.37zM3181.36 1156.40h5.12v5.17h-5.12zM3191.61 1156.40h5.12v5.17h-5.12zM3263.33 1156.40h5.12v5.17h-5.12zM3273.57 1156.40h15.37v5.17h-15.37zM3309.44 1156.40h5.12v5.17h-5.12zM3150.62 1161.52h5.12v5.17h-5.12zM3176.24 1161.52h15.37v5.17h-15.37zM3196.73 1161.52h5.12v5.17h-5.12zM3263.33 1161.52h40.98v5.17h-40.98zM3309.44 1161.52h5.12v5.17h-5.12zM3150.62 1166.64h10.25v5.17h-10.25zM3165.99 1166.64h10.25v5.17h-10.25zM3181.36 1166.64h5.12v5.17h-5.12zM3191.61 1166.64h10.25v5.17h-10.25zM3258.21 1166.64h10.25v5.17h-10.25zM3283.82 1166.64h10.25v5.17h-10.25zM3155.75 1171.77h5.12v5.17h-5.12zM3171.11 1171.77h10.25v5.17h-10.25zM3196.73 1171.77h5.12v5.17h-5.12zM3258.21 1171.77h10.25v5.17h-10.25zM3278.70 1171.77h5.12v5.17h-5.12zM3294.07 1171.77h5.12v5.17h-5.12zM3304.31 1171.77h10.25v5.17h-10.25zM3145.50 1176.89h10.25v5.17h-10.25zM3165.99 1176.89h5.12v5.17h-5.12zM3181.36 1176.89h10.25v5.17h-10.25zM3196.73 1176.89h5.12v5.17h-5.12zM3263.33 1176.89h5.12v5.17h-5.12zM3278.70 1176.89h10.25v5.17h-10.25zM3299.19 1176.89h15.37v5.17h-15.37zM3145.50 1182.01h5.12v5.17h-5.12zM3155.75 1182.01h5.12v5.17h-5.12zM3165.99 1182.01h20.49v5.17h-20.49zM3191.61 1182.01h5.12v5.17h-5.12zM3258.21 1182.01h10.25v5.17h-10.25zM3283.82 1182.01h20.49v5.17h-20.49zM3309.44 1182.01h5.12v5.17h-5.12zM3145.50 1187.14h5.12v5.17h-5.12zM3155.75 1187.14h5.12v5.17h-5.12zM3181.36 1187.14h10.25v5.17h-10.25zM3258.21 1187.14h10.25v5.17h-10.25zM3273.57 1187.14h10.25v5.17h-10.25zM3288.94 1187.14h10.25v5.17h-10.25zM3304.31 1187.14h5.12v5.17h-5.12zM3171.11 1192.26h10.25v5.17h-10.25zM3186.48 1192.26h5.12v5.17h-5.12zM3196.73 1192.26h5.12v5.17h-5.12zM3263.33 1192.26h10.25v5.17h-10.25zM3278.70 1192.26h10.25v5.17h-10.25zM3309.44 1192.26h5.12v5.17h-5.12zM3150.62 1197.38h20.49v5.17h-20.49zM3186.48 1197.38h10.25v5.17h-10.25zM3263.33 1197.38h10.25v5.17h-10.25zM3278.70 1197.38h10.25v5.17h-10.25zM3299.19 1197.38h5.12v5.17h-5.12zM3309.44 1197.38h5.12v5.17h-5.12zM3145.50 1202.51h10.25v5.17h-10.25zM3176.24 1202.51h20.49v5.17h-20.49zM3206.98 1202.51h10.25v5.17h-10.25zM3222.34 1202.51h10.25v5.17h-10.25zM3237.71 1202.51h5.12v5.17h-5.12zM3263.33 1202.51h5.12v5.17h-5.12zM3273.57 1202.51h20.49v5.17h-20.49zM3299.19 1202.51h5.12v5.17h-5.12zM3309.44 1202.51h5.12v5.17h-5.12zM3155.75 1207.63h5.12v5.17h-5.12zM3171.11 1207.63h5.12v5.17h-5.12zM3186.48 1207.63h5.12v5.17h-5.12zM3196.73 1207.63h5.12v5.17h-5.12zM3206.98 1207.63h5.12v5.17h-5.12zM3217.22 1207.63h15.37v5.17h-15.37zM3237.71 1207.63h5.12v5.17h-5.12zM3247.96 1207.63h5.12v5.17h-5.12zM3258.21 1207.63h10.25v5.17h-10.25zM3283.82 1207.63h5.12v5.17h-5.12zM3294.07 1207.63h5.12v5.17h-5.12zM3304.31 1207.63h10.25v5.17h-10.25zM3145.50 1212.75h25.62v5.17h-25.62zM3176.24 1212.75h5.12v5.17h-5.12zM3186.48 1212.75h10.25v5.17h-10.25zM3201.85 1212.75h10.25v5.17h-10.25zM3227.47 1212.75h5.12v5.17h-5.12zM3242.84 1212.75h5.12v5.17h-5.12zM3268.45 1212.75h25.62v5.17h-25.62zM3186.48 1217.88h25.62v5.17h-25.62zM3227.47 1217.88h25.62v5.17h-25.62zM3258.21 1217.88h5.12v5.17h-5.12zM3268.45 1217.88h5.12v5.17h-5.12zM3288.94 1217.88h15.37v5.17h-15.37zM3309.44 1217.88h5.12v5.17h-5.12zM3145.50 1223.00h35.86v5.17h-35.86zM3186.48 1223.00h5.12v5.17h-5.12zM3212.10 1223.00h10.25v5.17h-10.25zM3253.08 1223.00h10.25v5.17h-10.25zM3268.45 1223.00h5.12v5.17h-5.12zM3278.70 1223.00h5.12v5.17h-5.12zM3288.94 1223.00h5.12v5.17h-5.12zM3309.44 1223.00h5.12v5.17h-5.12zM3145.50 1228.12h5.12v5.17h-5.12zM3176.24 1228.12h5.12v5.17h-5.12zM3186.48 1228.12h5.12v5.17h-5.12zM3201.85 1228.12h5.12v5.17h-5.12zM3212.10 1228.12h5.12v5.17h-5.12zM3258.21 1228.12h15.37v5.17h-15.37zM3288.94 1228.12h10.25v5.17h-10.25zM3304.31 1228.12h10.25v5.17h-10.25zM3145.50 1233.24h5.12v5.17h-5.12zM3155.75 1233.24h15.37v5.17h-15.37zM3176.24 1233.24h5.12v5.17h-5.12zM3212.10 1233.24h15.37v5.17h-15.37zM3237.71 1233.24h5.12v5.17h-5.12zM3247.96 1233.24h51.23v5.17h-51.23zM3145.50 1238.37h5.12v5.17h-5.12zM3155.75 1238.37h15.37v5.17h-15.37zM3176.24 1238.37h5.12v5.17h-5.12zM3191.61 1238.37h15.37v5.17h-15.37zM3217.22 1238.37h5.12v5.17h-5.12zM3227.47 1238.37h10.25v5.17h-10.25zM3242.84 1238.37h5.12v5.17h-5.12zM3258.21 1238.37h20.49v5.17h-20.49zM3283.82 1238.37h20.49v5.17h-20.49zM3309.44 1238.37h5.12v5.17h-5.12zM3145.50 1243.49h5.12v5.17h-5.12zM3155.75 1243.49h15.37v5.17h-15.37zM3176.24 1243.49h5.12v5.17h-5.12zM3186.48 1243.49h10.25v5.17h-10.25zM3201.85 1243.49h5.12v5.17h-5.12zM3222.34 1243.49h5.12v5.17h-5.12zM3232.59 1243.49h5.12v5.17h-5.12zM3242.84 1243.49h5.12v5.17h-5.12zM3253.08 1243.49h5.12v5.17h-5.12zM3263.33 1243.49h10.25v5.17h-10.25zM3288.94 1243.49h5.12v5.17h-5.12zM3304.31 1243.49h10.25v5.17h-10.25zM3145.50 1248.61h5.12v5.17h-5.12zM3176.24 1248.61h5.12v5.17h-5.12zM3191.61 1248.61h5.12v5.17h-5.12zM3206.98 1248.61h5.12v5.17h-5.12zM3232.59 1248.61h20.49v5.17h-20.49zM3258.21 1248.61h5.12v5.17h-5.12zM3268.45 1248.61h10.25v5.17h-10.25zM3294.07 1248.61h5.12v5.17h-5.12zM3145.50 1253.74h35.86v5.17h-35.86zM3191.61 1253.74h5.12v5.17h-5.12zM3217.22 1253.74h10.25v5.17h-10.25zM3242.84 1253.74h20.49v5.17h-20.49zM3268.45 1253.74h5.12v5.17h-5.12zM3278.70 1253.74h5.12v5.17h-5.12zM3288.94 1253.74h10.25v5.17h-10.25zM3309.44 1253.74h5.12v5.17h-5.12z" fill="#000"/>
<circle cx="3229.7" cy="1174.6" r="29.6" fill="#fff"/>
<circle cx="3229.7" cy="1174.6" r="27.4" fill="#24292e"/>
<path d="M3215.1 1157.8 Q3217.7 1157.0 3223.1 1161.4 Q3229.7 1160.0 3236.3 1161.4 Q3241.7 1157.0 3244.3 1157.8 Q3246.3 1163.2 3244.9 1166.6 Q3248.1 1171.0 3247.9 1175.8 Q3247.3 1187.0 3235.3 1188.2 Q3237.1 1190.4 3236.9 1193.6 L3236.9 1202.2 L3222.5 1202.2 L3222.5 1197.0 Q3215.7 1198.2 3213.5 1193.0 Q3212.1 1189.6 3209.1 1187.8 Q3210.3 1186.4 3212.7 1187.6 Q3215.1 1189.0 3216.3 1191.4 Q3218.3 1194.4 3222.7 1193.0 Q3222.9 1190.0 3224.1 1188.2 Q3212.1 1187.0 3211.5 1175.8 Q3211.3 1171.0 3214.5 1166.6 Q3213.1 1163.2 3215.1 1157.8Z" fill="#fff"/>
</g>
<g id="qr-paper">
<path d="M3145.50 1344.60h35.86v5.17h-35.86zM3191.61 1344.60h10.25v5.17h-10.25zM3227.47 1344.60h5.12v5.17h-5.12zM3237.71 1344.60h15.37v5.17h-15.37zM3263.33 1344.60h10.25v5.17h-10.25zM3278.70 1344.60h35.86v5.17h-35.86zM3145.50 1349.72h5.12v5.17h-5.12zM3176.24 1349.72h5.12v5.17h-5.12zM3196.73 1349.72h10.25v5.17h-10.25zM3217.22 1349.72h15.37v5.17h-15.37zM3242.84 1349.72h25.62v5.17h-25.62zM3278.70 1349.72h5.12v5.17h-5.12zM3309.44 1349.72h5.12v5.17h-5.12zM3145.50 1354.85h5.12v5.17h-5.12zM3155.75 1354.85h15.37v5.17h-15.37zM3176.24 1354.85h5.12v5.17h-5.12zM3196.73 1354.85h5.12v5.17h-5.12zM3222.34 1354.85h5.12v5.17h-5.12zM3237.71 1354.85h10.25v5.17h-10.25zM3263.33 1354.85h5.12v5.17h-5.12zM3278.70 1354.85h5.12v5.17h-5.12zM3288.94 1354.85h15.37v5.17h-15.37zM3309.44 1354.85h5.12v5.17h-5.12zM3145.50 1359.97h5.12v5.17h-5.12zM3155.75 1359.97h15.37v5.17h-15.37zM3176.24 1359.97h5.12v5.17h-5.12zM3196.73 1359.97h5.12v5.17h-5.12zM3206.98 1359.97h10.25v5.17h-10.25zM3222.34 1359.97h10.25v5.17h-10.25zM3237.71 1359.97h10.25v5.17h-10.25zM3258.21 1359.97h15.37v5.17h-15.37zM3278.70 1359.97h5.12v5.17h-5.12zM3288.94 1359.97h15.37v5.17h-15.37zM3309.44 1359.97h5.12v5.17h-5.12zM3145.50 1365.09h5.12v5.17h-5.12zM3155.75 1365.09h15.37v5.17h-15.37zM3176.24 1365.09h5.12v5.17h-5.12zM3186.48 1365.09h5.12v5.17h-5.12zM3201.85 1365.09h5.12v5.17h-5.12zM3212.10 1365.09h5.12v5.17h-5.12zM3227.47 1365.09h5.12v5.17h-5.12zM3258.21 1365.09h10.25v5.17h-10.25zM3278.70 1365.09h5.12v5.17h-5.12zM3288.94 1365.09h15.37v5.17h-15.37zM3309.44 1365.09h5.12v5.17h-5.12zM3145.50 1370.21h5.12v5.17h-5.12zM3176.24 1370.21h5.12v5.17h-5.12zM3196.73 1370.21h10.25v5.17h-10.25zM3212.10 1370.21h10.25v5.17h-10.25zM3227.47 1370.21h5.12v5.17h-5.12zM3242.84 1370.21h10.25v5.17h-10.25zM3278.70 1370.21h5.12v5.17h-5.12zM3309.44 1370.21h5.12v5.17h-5.12zM3145.50 1375.34h35.86v5.17h-35.86zM3186.48 1375.34h5.12v5.17h-5.12zM3196.73 1375.34h5.12v5.17h-5.12zM3206.98 1375.34h5.12v5.17h-5.12zM3217.22 1375.34h5.12v5.17h-5.12zM3227.47 1375.34h5.12v5.17h-5.12zM3237.71 1375.34h5.12v5.17h-5.12zM3247.96 1375.34h5.12v5.17h-5.12zM3258.21 1375.34h5.12v5.17h-5.12zM3268.45 1375.34h5.12v5.17h-5.12zM3278.70 1375.34h35.86v5.17h-35.86zM3186.48 1380.46h5.12v5.17h-5.12zM3196.73 1380.46h15.37v5.17h-15.37zM3217.22 1380.46h15.37v5.17h-15.37zM3155.75 1385.58h10.25v5.17h-10.25zM3176.24 1385.58h25.62v5.17h-25.62zM3212.10 1385.58h5.12v5.17h-5.12zM3227.47 1385.58h10.25v5.17h-10.25zM3242.84 1385.58h5.12v5.17h-5.12zM3253.08 1385.58h10.25v5.17h-10.25zM3268.45 1385.58h15.37v5.17h-15.37zM3288.94 1385.58h5.12v5.17h-5.12zM3145.50 1390.71h5.12v5.17h-5.12zM3181.36 1390.71h15.37v5.17h-15.37zM3206.98 1390.71h15.37v5.17h-15.37zM3232.59 1390.71h5.12v5.17h-5.12zM3242.84 1390.71h5.12v5.17h-5.12zM3258.21 1390.71h25.62v5.17h-25.62zM3294.07 1390.71h5.12v5.17h-5.12zM3304.31 1390.71h10.25v5.17h-10.25zM3145.50 1395.83h5.12v5.17h-5.12zM3155.75 1395.83h5.12v5.17h-5.12zM3171.11 1395.83h15.37v5.17h-15.37zM3191.61 1395.83h5.12v5.17h-5.12zM3206.98 1395.83h10.25v5.17h-10.25zM3222.34 1395.83h5.12v5.17h-5.12zM3242.84 1395.83h5.12v5.17h-5.12zM3253.08 1395.83h15.37v5.17h-15.37zM3299.19 1395.83h15.37v5.17h-15.37zM3145.50 1400.95h5.12v5.17h-5.12zM3155.75 1400.95h5.12v5.17h-5.12zM3171.11 1400.95h5.12v5.17h-5.12zM3181.36 1400.95h5.12v5.17h-5.12zM3191.61 1400.95h10.25v5.17h-10.25zM3206.98 1400.95h10.25v5.17h-10.25zM3227.47 1400.95h10.25v5.17h-10.25zM3253.08 1400.95h15.37v5.17h-15.37zM3283.82 1400.95h15.37v5.17h-15.37zM3145.50 1406.08h10.25v5.17h-10.25zM3165.99 1406.08h5.12v5.17h-5.12zM3176.24 1406.08h5.12v5.17h-5.12zM3186.48 1406.08h5.12v5.17h-5.12zM3206.98 1406.08h15.37v5.17h-15.37zM3227.47 1406.08h35.86v5.17h-35.86zM3268.45 1406.08h10.25v5.17h-10.25zM3288.94 1406.08h5.12v5.17h-5.12zM3145.50 1411.20h15.37v5.17h-15.37zM3171.11 1411.20h5.12v5.17h-5.12zM3268.45 1411.20h10.25v5.17h-10.25zM3299.19 1411.20h5.12v5.17h-5.12zM3145.50 1416.32h10.25v5.17h-10.25zM3165.99 1416.32h5.12v5.17h-5.12zM3176.24 1416.32h5.12v5.17h-5.12zM3273.57 1416.32h5.12v5.17h-5.12zM3299.19 1416.32h5.12v5.17h-5.12zM3150.62 1421.44h15.37v5.17h-15.37zM3181.36 1421.44h5.12v5.17h-5.12zM3273.57 1421.44h15.37v5.17h-15.37zM3299.19 1421.44h5.12v5.17h-5.12zM3145.50 1426.57h5.12v5.17h-5.12zM3155.75 1426.57h5.12v5.17h-5.12zM3176.24 1426.57h5.12v5.17h-5.12zM3186.48 1426.57h5.12v5.17h-5.12zM3268.45 1426.57h5.12v5.17h-5.12zM3278.70 1426.57h15.37v5.17h-15.37zM3299.19 1426.57h5.12v5.17h-5.12zM3309.44 1426.57h5.12v5.17h-5.12zM3150.62 1431.69h5.12v5.17h-5.12zM3160.87 1431.69h10.25v5.17h-10.25zM3181.36 1431.69h5.12v5.17h-5.12zM3273.57 1431.69h20.49v5.17h-20.49zM3299.19 1431.69h15.37v5.17h-15.37zM3145.50 1436.81h25.62v5.17h-25.62zM3176.24 1436.81h10.25v5.17h-10.25zM3273.57 1436.81h5.12v5.17h-5.12zM3283.82 1436.81h10.25v5.17h-10.25zM3299.19 1436.81h5.12v5.17h-5.12zM3150.62 1441.94h5.12v5.17h-5.12zM3160.87 1441.94h15.37v5.17h-15.37zM3181.36 1441.94h10.25v5.17h-10.25zM3273.57 1441.94h10.25v5.17h-10.25zM3145.50 1447.06h10.25v5.17h-10.25zM3160.87 1447.06h30.74v5.17h-30.74zM3196.73 1447.06h5.12v5.17h-5.12zM3206.98 1447.06h20.49v5.17h-20.49zM3237.71 1447.06h20.49v5.17h-20.49zM3268.45 1447.06h10.25v5.17h-10.25zM3294.07 1447.06h10.25v5.17h-10.25zM3145.50 1452.18h10.25v5.17h-10.25zM3165.99 1452.18h10.25v5.17h-10.25zM3186.48 1452.18h15.37v5.17h-15.37zM3212.10 1452.18h15.37v5.17h-15.37zM3237.71 1452.18h5.12v5.17h-5.12zM3247.96 1452.18h10.25v5.17h-10.25zM3263.33 1452.18h20.49v5.17h-20.49zM3299.19 1452.18h5.12v5.17h-5.12zM3309.44 1452.18h5.12v5.17h-5.12zM3155.75 1457.31h5.12v5.17h-5.12zM3165.99 1457.31h5.12v5.17h-5.12zM3176.24 1457.31h15.37v5.17h-15.37zM3196.73 1457.31h5.12v5.17h-5.12zM3217.22 1457.31h15.37v5.17h-15.37zM3237.71 1457.31h5.12v5.17h-5.12zM3247.96 1457.31h5.12v5.17h-5.12zM3263.33 1457.31h5.12v5.17h-5.12zM3278.70 1457.31h5.12v5.17h-5.12zM3294.07 1457.31h10.25v5.17h-10.25zM3309.44 1457.31h5.12v5.17h-5.12zM3150.62 1462.43h5.12v5.17h-5.12zM3160.87 1462.43h15.37v5.17h-15.37zM3186.48 1462.43h20.49v5.17h-20.49zM3232.59 1462.43h5.12v5.17h-5.12zM3242.84 1462.43h10.25v5.17h-10.25zM3258.21 1462.43h5.12v5.17h-5.12zM3268.45 1462.43h10.25v5.17h-10.25zM3294.07 1462.43h5.12v5.17h-5.12zM3309.44 1462.43h5.12v5.17h-5.12zM3145.50 1467.55h5.12v5.17h-5.12zM3160.87 1467.55h5.12v5.17h-5.12zM3171.11 1467.55h10.25v5.17h-10.25zM3217.22 1467.55h5.12v5.17h-5.12zM3268.45 1467.55h30.74v5.17h-30.74zM3304.31 1467.55h5.12v5.17h-5.12zM3186.48 1472.67h10.25v5.17h-10.25zM3201.85 1472.67h20.49v5.17h-20.49zM3242.84 1472.67h10.25v5.17h-10.25zM3258.21 1472.67h5.12v5.17h-5.12zM3268.45 1472.67h5.12v5.17h-5.12zM3288.94 1472.67h10.25v5.17h-10.25zM3145.50 1477.80h35.86v5.17h-35.86zM3186.48 1477.80h10.25v5.17h-10.25zM3201.85 1477.80h5.12v5.17h-5.12zM3212.10 1477.80h5.12v5.17h-5.12zM3227.47 1477.80h5.12v5.17h-5.12zM3237.71 1477.80h5.12v5.17h-5.12zM3247.96 1477.80h5.12v5.17h-5.12zM3258.21 1477.80h15.37v5.17h-15.37zM3278.70 1477.80h5.12v5.17h-5.12zM3288.94 1477.80h10.25v5.17h-10.25zM3145.50 1482.92h5.12v5.17h-5.12zM3176.24 1482.92h5.12v5.17h-5.12zM3201.85 1482.92h15.37v5.17h-15.37zM3222.34 1482.92h10.25v5.17h-10.25zM3253.08 1482.92h10.25v5.17h-10.25zM3268.45 1482.92h5.12v5.17h-5.12zM3288.94 1482.92h25.62v5.17h-25.62zM3145.50 1488.04h5.12v5.17h-5.12zM3155.75 1488.04h15.37v5.17h-15.37zM3176.24 1488.04h5.12v5.17h-5.12zM3191.61 1488.04h10.25v5.17h-10.25zM3212.10 1488.04h5.12v5.17h-5.12zM3222.34 1488.04h15.37v5.17h-15.37zM3263.33 1488.04h46.11v5.17h-46.11zM3145.50 1493.17h5.12v5.17h-5.12zM3155.75 1493.17h15.37v5.17h-15.37zM3176.24 1493.17h5.12v5.17h-5.12zM3186.48 1493.17h10.25v5.17h-10.25zM3201.85 1493.17h20.49v5.17h-20.49zM3227.47 1493.17h25.62v5.17h-25.62zM3263.33 1493.17h10.25v5.17h-10.25zM3283.82 1493.17h5.12v5.17h-5.12zM3304.31 1493.17h10.25v5.17h-10.25zM3145.50 1498.29h5.12v5.17h-5.12zM3155.75 1498.29h15.37v5.17h-15.37zM3176.24 1498.29h5.12v5.17h-5.12zM3186.48 1498.29h46.11v5.17h-46.11zM3242.84 1498.29h25.62v5.17h-25.62zM3273.57 1498.29h10.25v5.17h-10.25zM3299.19 1498.29h5.12v5.17h-5.12zM3145.50 1503.41h5.12v5.17h-5.12zM3176.24 1503.41h5.12v5.17h-5.12zM3191.61 1503.41h5.12v5.17h-5.12zM3217.22 1503.41h10.25v5.17h-10.25zM3237.71 1503.41h5.12v5.17h-5.12zM3247.96 1503.41h5.12v5.17h-5.12zM3258.21 1503.41h25.62v5.17h-25.62zM3294.07 1503.41h5.12v5.17h-5.12zM3309.44 1503.41h5.12v5.17h-5.12zM3145.50 1508.54h35.86v5.17h-35.86zM3201.85 1508.54h10.25v5.17h-10.25zM3222.34 1508.54h5.12v5.17h-5.12zM3232.59 1508.54h15.37v5.17h-15.37zM3258.21 1508.54h5.12v5.17h-5.12zM3273.57 1508.54h30.74v5.17h-30.74z" fill="#000"/>
<text x="3190.6" y="1435.4" font-size="26" fill="#8a8377" style='font-family:"Liberation Mono", monospace' stroke="#8a8377" stroke-width="0.9">a</text>
<text x="3207.6" y="1435.4" font-size="26" fill="#8a8377" style='font-family:"Liberation Mono", monospace' stroke="#8a8377" stroke-width="0.9">r</text>
<text x="3240.2" y="1435.4" font-size="26" fill="#8a8377" style='font-family:"Liberation Mono", monospace' stroke="#8a8377" stroke-width="0.9">i</text>
<text x="3254.2" y="1435.4" font-size="26" fill="#8a8377" style='font-family:"Liberation Mono", monospace' stroke="#8a8377" stroke-width="0.9">v</text>
<path d="M3219.3 1412.6 L3235.5 1429.8 L3221.3 1442.9" fill="none" stroke="#a51c30" stroke-width="2.6" stroke-linecap="round" stroke-linejoin="round"/>
<path d="M3240.2 1414.9 L3228.1 1429.8 L3243.6 1445.2" fill="none" stroke="#8a8377" stroke-width="2.5" stroke-linecap="round" stroke-linejoin="round"/>
</g>
<text x="1012.3" y="1700.2" font-size="30" font-weight="bold" style='font-family:"Liberation Serif", serif' textLength="248.0" lengthAdjust="spacingAndGlyphs">Acknowledgements</text>
<line x1="1281.3" y1="1656.8" x2="1281.3" y2="1726.6" stroke="#6a6873" stroke-width="2.2"/>
<text x="1301.6" y="1675.6" font-size="13.6" textLength="1116.6" lengthAdjust="spacingAndGlyphs" word-spacing="2.2">This research used resources of the National Energy Research Scientific Computing Center (NERSC), a Department of Energy Office of Science User Facility using NERSC award DDR-</text>
<text x="1301.6" y="1691.5" font-size="13.6" textLength="1119.0" lengthAdjust="spacingAndGlyphs">ERCAP0029894. Soheil Feizi was supported in part by the following grants: NSF CAREER AWARD 1942230, ONR YIP award N00014-22-1-2271, ARO’s Early Career Program Award 310902-00001,</text>
<text x="1301.6" y="1707.4" font-size="13.6" textLength="812.0" lengthAdjust="spacingAndGlyphs">Army Grant No. W911NF2120076, NSF award CCF2212458, NSF award 2229885, an Amazon Research Award and an award from Capital One.</text>
<rect x="2520.7" y="1655.9" width="167.5" height="66.9" fill="#fff" stroke="#6a6a6a" stroke-width="1"/>
<text x="2526.5" y="1697.8" font-size="30" font-weight="bold" style='font-family:"Liberation Serif", serif' textLength="137.2" lengthAdjust="spacingAndGlyphs">References</text>
<text x="2708.4" y="1663.1" font-size="11" textLength="689.8" lengthAdjust="spacingAndGlyphs">[1] Zhang, Zhenyu, et al. "H2o: Heavy-hitter oracle for efficient generative inference of large language models." Advances in Neural Information</text>
<text x="2708.4" y="1677.1" font-size="11" textLength="215.2" lengthAdjust="spacingAndGlyphs">Processing Systems 36 (2023): 34661-34710.</text>
<text x="2708.4" y="1691.0" font-size="11" textLength="606.6" lengthAdjust="spacingAndGlyphs">[2] Su, Jianlin, et al. "Roformer: Enhanced transformer with rotary position embedding." Neurocomputing 568 (2024): 127063.</text>
<text x="2708.4" y="1705.0" font-size="11" textLength="674.0" lengthAdjust="spacingAndGlyphs">[3] Dao, Tri, et al. "Flashattention: Fast and memory-efficient exact attention with io-awareness." Advances in Neural Information Processing</text>
<text x="2708.4" y="1718.9" font-size="11" textLength="160.3" lengthAdjust="spacingAndGlyphs">Systems 35 (2022): 16344-16359.</text>
</svg>
</div>
</body></html>
